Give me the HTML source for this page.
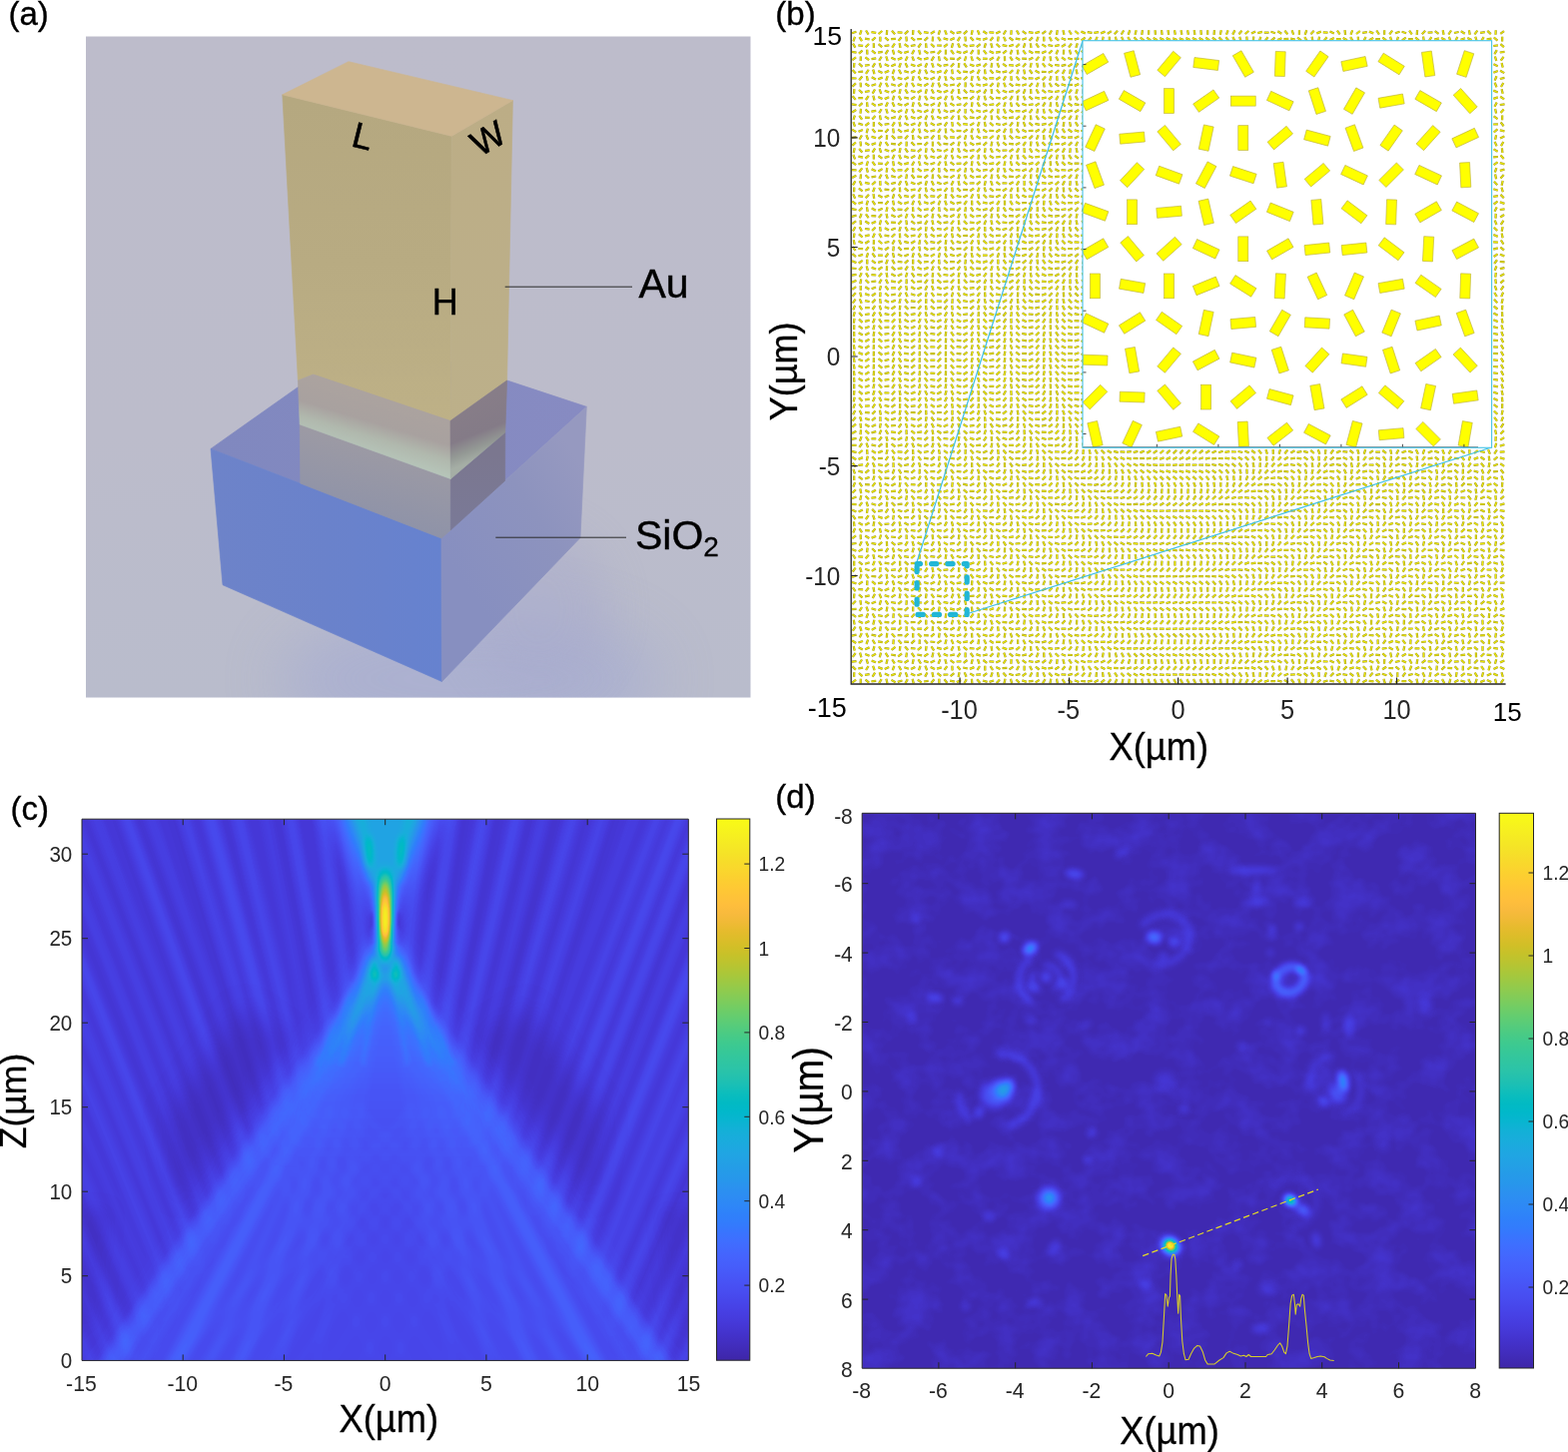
<!DOCTYPE html>
<html lang="en"><head><meta charset="utf-8"><title>Metalens figure</title>
<style>html,body{margin:0;padding:0;background:#fff}body{width:1570px;height:1454px;overflow:hidden}svg{display:block}text{font-family:'Liberation Sans', sans-serif;fill:#000}.tk{fill:#262626}</style></head><body>
<svg width="1570" height="1454" viewBox="0 0 1570 1454">
<defs>
<filter id="parula" color-interpolation-filters="sRGB" filterUnits="userSpaceOnUse" x="0" y="780" width="1570" height="674"><feComponentTransfer><feFuncR type="table" tableValues="0.2422 0.2504 0.2578 0.2647 0.2706 0.2751 0.2783 0.2803 0.2813 0.281 0.2795 0.276 0.2699 0.2602 0.244 0.2206 0.1963 0.1834 0.1786 0.1764 0.1687 0.154 0.146 0.138 0.1248 0.1113 0.0952 0.0689 0.0297 0.0036 0.0067 0.0433 0.0964 0.1408 0.1717 0.1938 0.2161 0.247 0.2906 0.3406 0.3909 0.4456 0.5044 0.5616 0.6174 0.672 0.7242 0.7738 0.8203 0.8634 0.9035 0.9393 0.9728 0.9956 0.997 0.9952 0.9892 0.9786 0.9676 0.961 0.9597 0.9628 0.9691 0.9769"/><feFuncG type="table" tableValues="0.1504 0.165 0.1818 0.1978 0.2147 0.2342 0.2559 0.2782 0.3006 0.3228 0.3447 0.3667 0.3892 0.4123 0.4358 0.4603 0.4847 0.5074 0.5289 0.5499 0.5703 0.5902 0.6091 0.6276 0.6459 0.6635 0.6798 0.6948 0.7082 0.7203 0.7312 0.7411 0.75 0.7584 0.767 0.7758 0.7843 0.7918 0.7973 0.8008 0.8029 0.8024 0.7993 0.7942 0.7876 0.7793 0.7698 0.7598 0.7498 0.7406 0.733 0.7288 0.7298 0.7434 0.7659 0.7893 0.8136 0.8386 0.8639 0.889 0.9135 0.9373 0.9606 0.9839"/><feFuncB type="table" tableValues="0.6603 0.7076 0.7511 0.7952 0.8364 0.871 0.8991 0.9221 0.9414 0.9579 0.9717 0.9829 0.9906 0.9952 0.9988 0.9973 0.9892 0.9798 0.9682 0.952 0.9359 0.9218 0.9079 0.8973 0.8883 0.8763 0.8598 0.8394 0.8163 0.7917 0.766 0.7394 0.712 0.6842 0.6554 0.6251 0.5923 0.5567 0.5188 0.4789 0.4354 0.3909 0.348 0.3045 0.2612 0.2227 0.191 0.1646 0.1535 0.1596 0.1774 0.21 0.2394 0.2371 0.2199 0.2028 0.1885 0.1766 0.1643 0.1537 0.1423 0.1265 0.1064 0.0805"/></feComponentTransfer></filter>
<linearGradient id="cb" x1="0" y1="1" x2="0" y2="0"><stop offset="0" stop-color="rgb(62,38,168)"/><stop offset="0.0159" stop-color="rgb(64,42,180)"/><stop offset="0.0317" stop-color="rgb(66,46,192)"/><stop offset="0.0476" stop-color="rgb(67,50,203)"/><stop offset="0.0635" stop-color="rgb(69,55,213)"/><stop offset="0.0794" stop-color="rgb(70,60,222)"/><stop offset="0.0952" stop-color="rgb(71,65,229)"/><stop offset="0.1111" stop-color="rgb(71,71,235)"/><stop offset="0.127" stop-color="rgb(72,77,240)"/><stop offset="0.1429" stop-color="rgb(72,82,244)"/><stop offset="0.1587" stop-color="rgb(71,88,248)"/><stop offset="0.1746" stop-color="rgb(70,94,251)"/><stop offset="0.1905" stop-color="rgb(69,99,253)"/><stop offset="0.2063" stop-color="rgb(66,105,254)"/><stop offset="0.2222" stop-color="rgb(62,111,255)"/><stop offset="0.2381" stop-color="rgb(56,117,254)"/><stop offset="0.254" stop-color="rgb(50,124,252)"/><stop offset="0.2698" stop-color="rgb(47,129,250)"/><stop offset="0.2857" stop-color="rgb(46,135,247)"/><stop offset="0.3016" stop-color="rgb(45,140,243)"/><stop offset="0.3175" stop-color="rgb(43,145,239)"/><stop offset="0.3333" stop-color="rgb(39,151,235)"/><stop offset="0.3492" stop-color="rgb(37,155,232)"/><stop offset="0.3651" stop-color="rgb(35,160,229)"/><stop offset="0.381" stop-color="rgb(32,165,227)"/><stop offset="0.3968" stop-color="rgb(28,169,223)"/><stop offset="0.4127" stop-color="rgb(24,173,219)"/><stop offset="0.4286" stop-color="rgb(18,177,214)"/><stop offset="0.4444" stop-color="rgb(8,181,208)"/><stop offset="0.4603" stop-color="rgb(1,184,202)"/><stop offset="0.4762" stop-color="rgb(2,186,195)"/><stop offset="0.4921" stop-color="rgb(11,189,189)"/><stop offset="0.5079" stop-color="rgb(25,191,182)"/><stop offset="0.5238" stop-color="rgb(36,193,174)"/><stop offset="0.5397" stop-color="rgb(44,196,167)"/><stop offset="0.5556" stop-color="rgb(49,198,159)"/><stop offset="0.5714" stop-color="rgb(55,200,151)"/><stop offset="0.5873" stop-color="rgb(63,202,142)"/><stop offset="0.6032" stop-color="rgb(74,203,132)"/><stop offset="0.619" stop-color="rgb(87,204,122)"/><stop offset="0.6349" stop-color="rgb(100,205,111)"/><stop offset="0.6508" stop-color="rgb(114,205,100)"/><stop offset="0.6667" stop-color="rgb(129,204,89)"/><stop offset="0.6825" stop-color="rgb(143,203,78)"/><stop offset="0.6984" stop-color="rgb(157,201,67)"/><stop offset="0.7143" stop-color="rgb(171,199,57)"/><stop offset="0.7302" stop-color="rgb(185,196,49)"/><stop offset="0.746" stop-color="rgb(197,194,42)"/><stop offset="0.7619" stop-color="rgb(209,191,39)"/><stop offset="0.7778" stop-color="rgb(220,189,41)"/><stop offset="0.7937" stop-color="rgb(230,187,45)"/><stop offset="0.8095" stop-color="rgb(240,186,54)"/><stop offset="0.8254" stop-color="rgb(248,186,61)"/><stop offset="0.8413" stop-color="rgb(254,190,60)"/><stop offset="0.8571" stop-color="rgb(254,195,56)"/><stop offset="0.873" stop-color="rgb(254,201,52)"/><stop offset="0.8889" stop-color="rgb(252,207,48)"/><stop offset="0.9048" stop-color="rgb(250,214,45)"/><stop offset="0.9206" stop-color="rgb(247,220,42)"/><stop offset="0.9365" stop-color="rgb(245,227,39)"/><stop offset="0.9524" stop-color="rgb(245,233,36)"/><stop offset="0.9683" stop-color="rgb(246,239,32)"/><stop offset="0.9841" stop-color="rgb(247,245,27)"/><stop offset="1" stop-color="rgb(249,251,21)"/></linearGradient>
<filter id="b1" color-interpolation-filters="sRGB" filterUnits="userSpaceOnUse" x="0" y="0" width="1570" height="1454"><feGaussianBlur stdDeviation="1"/></filter>
<filter id="b1_5" color-interpolation-filters="sRGB" filterUnits="userSpaceOnUse" x="0" y="0" width="1570" height="1454"><feGaussianBlur stdDeviation="1.5"/></filter>
<filter id="b2" color-interpolation-filters="sRGB" filterUnits="userSpaceOnUse" x="0" y="0" width="1570" height="1454"><feGaussianBlur stdDeviation="2"/></filter>
<filter id="b2_5" color-interpolation-filters="sRGB" filterUnits="userSpaceOnUse" x="0" y="0" width="1570" height="1454"><feGaussianBlur stdDeviation="2.5"/></filter>
<filter id="b3" color-interpolation-filters="sRGB" filterUnits="userSpaceOnUse" x="0" y="0" width="1570" height="1454"><feGaussianBlur stdDeviation="3"/></filter>
<filter id="b4" color-interpolation-filters="sRGB" filterUnits="userSpaceOnUse" x="0" y="0" width="1570" height="1454"><feGaussianBlur stdDeviation="4"/></filter>
<filter id="b5" color-interpolation-filters="sRGB" filterUnits="userSpaceOnUse" x="0" y="0" width="1570" height="1454"><feGaussianBlur stdDeviation="5"/></filter>
<filter id="b6" color-interpolation-filters="sRGB" filterUnits="userSpaceOnUse" x="0" y="0" width="1570" height="1454"><feGaussianBlur stdDeviation="6"/></filter>
<filter id="b8" color-interpolation-filters="sRGB" filterUnits="userSpaceOnUse" x="0" y="0" width="1570" height="1454"><feGaussianBlur stdDeviation="8"/></filter>
<filter id="b10" color-interpolation-filters="sRGB" filterUnits="userSpaceOnUse" x="0" y="0" width="1570" height="1454"><feGaussianBlur stdDeviation="10"/></filter>
<filter id="b14" color-interpolation-filters="sRGB" filterUnits="userSpaceOnUse" x="0" y="0" width="1570" height="1454"><feGaussianBlur stdDeviation="14"/></filter>
<filter id="b20" color-interpolation-filters="sRGB" filterUnits="userSpaceOnUse" x="0" y="0" width="1570" height="1454"><feGaussianBlur stdDeviation="20"/></filter>
<filter id="b30" color-interpolation-filters="sRGB" filterUnits="userSpaceOnUse" x="0" y="0" width="1570" height="1454"><feGaussianBlur stdDeviation="30"/></filter>
<clipPath id="clipA"><rect x="86" y="36.5" width="665.5" height="662"/></clipPath>
<linearGradient id="aBg" x1="0" y1="0" x2="0" y2="1"><stop offset="0" stop-color="#bdbccb"/><stop offset="0.6" stop-color="#bcbccb"/><stop offset="1" stop-color="#b9bccc"/></linearGradient>
<linearGradient id="aGoldL" gradientUnits="userSpaceOnUse" x1="0" y1="100" x2="0" y2="430"><stop offset="0" stop-color="#b5a880"/><stop offset="0.5" stop-color="#b8ab82"/><stop offset="1" stop-color="#beb187"/></linearGradient>
<linearGradient id="aGoldR" gradientUnits="userSpaceOnUse" x1="0" y1="100" x2="0" y2="430"><stop offset="0" stop-color="#bcad86"/><stop offset="1" stop-color="#bcb08a"/></linearGradient>
<linearGradient id="aBandL" gradientUnits="userSpaceOnUse" x1="390" y1="395" x2="372" y2="455"><stop offset="0" stop-color="#aca39f"/><stop offset="0.5" stop-color="#a8a19f"/><stop offset="0.74" stop-color="#b0b8ad"/><stop offset="1" stop-color="#b6c5b9"/></linearGradient>
<linearGradient id="aBandR" gradientUnits="userSpaceOnUse" x1="470" y1="405" x2="490" y2="455"><stop offset="0" stop-color="#877d88"/><stop offset="0.55" stop-color="#847b87"/><stop offset="0.8" stop-color="#939894"/><stop offset="1" stop-color="#a5aea5"/></linearGradient>
<linearGradient id="aRefL" gradientUnits="userSpaceOnUse" x1="380" y1="450" x2="362" y2="515"><stop offset="0" stop-color="#9c9aa4"/><stop offset="1" stop-color="#8f93a8"/></linearGradient>
<linearGradient id="aRefR" gradientUnits="userSpaceOnUse" x1="478" y1="455" x2="478" y2="520"><stop offset="0" stop-color="#7b778f"/><stop offset="1" stop-color="#7a7996"/></linearGradient>
<linearGradient id="aBlueF" gradientUnits="userSpaceOnUse" x1="215" y1="0" x2="442" y2="0"><stop offset="0" stop-color="#6d83c9"/><stop offset="0.5" stop-color="#6a82cb"/><stop offset="1" stop-color="#6682cf"/></linearGradient>
<linearGradient id="aBlueR" gradientUnits="userSpaceOnUse" x1="450" y1="560" x2="585" y2="470"><stop offset="0" stop-color="#878fc0"/><stop offset="0.6" stop-color="#8d93be"/><stop offset="1" stop-color="#9699c0"/></linearGradient>
<linearGradient id="aBlueT" gradientUnits="userSpaceOnUse" x1="215" y1="450" x2="585" y2="410"><stop offset="0" stop-color="#8088bf"/><stop offset="1" stop-color="#878bc2"/></linearGradient>
<clipPath id="clipB"><rect x="852.2" y="28.5" width="655.3999999999999" height="656.5"/></clipPath>
<path id="dashes" d="M0 0m8530 333l44-16m36 30l15-44m70 42l-24-40m101 24l-47-8m108-11l-37 30m86-38l-4 46m52-40l31 34m26-18l47 2m25 15l35-32m46 39l4-46m78 41l-29-36m103 22l-46-8m109-8l-40 24m92-34l-14 44m64-44l17 44m37-34l40 24m22-9l47-6m25 19l35-32m43 39l10-46m69 45l-17-44m93 35l-38-26m108 14l-47-2m110-10l-42 22m99-31l-24 40m78-43l-2 46m56-44l21 42m37-35l37 28m24-18l46 8m20 2l45-12m24 20l38-28m35 34l23-40m51 43l6-46m68 46l-11-46m84 43l-25-40m96 35l-36-30m105 24l-43-18m110 12l-47-6m113-1l-47 8m111-13l-44 18m107-23l-39 28m101-31l-32 34m94-37l-25 40m87-42l-18 44m81-45l-12 46m74-46l-6 46m69-46l-1 46m65-46l3 46m61-46l6 46m59-46l7 46m58-46l8 46m57-46l9 46m57-46l8 46m58-46l7 46m60-46l4 46m64-46l0 46m68-46l-5 46m73-46l-10 46m78-45l-16 44m85-43l-23 42m92-39l-29 36m98-33l-36 30m104-26l-41 22m109-17l-46 12m112-6l-47 0m112 7l-45-14m107 20l-39-26m100 31l-29-36m88 40l-16-44m73 45l1-46m56 45l18-44m40 39l33-34m27 26l44-18m20 8l47 2m21-12l42 22m31-30l27 38m49-42l6 46m71-45l-17 44m93-37l-37 30m107-18l-46 6m110 6l-43-18m100 29l-26-40m78 43l1-46m51 42l28-38m29 27l45-16m21 1l45 14m30-26l26 38m54-42l-4 46m84-40l-33 34m106-19l-47 4m108 12l-38-28m89 37l-9-46m57 43l26-40m30 25l46-10m22-8l40 26m41-36l9 46m75-42l-28 38m103-22l-47 6m107 13l-35-32m82 39l2-46m46 37l37-28m-6516 102l16-45m70 43l-25-40m101 23l-46-7m106-12l-35 31m83-39l0 47m48-39l35 32m25-15l47-3m27 20l30-36m52 41l-4-47m86 39l-36-31m107 15l-47 1m106-17l-34 33m85-40l-4 47m54-43l27 39m29-26l45 13m22 3l43-19m32 30l23-41m57 44l-5-47m84 41l-32-35m104 23l-45-11m110-2l-44 16m102-27l-29 37m83-42l-6 47m59-45l19 43m37-36l38 29m24-18l46 7m20 4l45-15m26 24l34-33m40 39l17-44m58 45l-2-47m77 45l-21-42m93 36l-34-31m104 24l-43-17m111 9l-47-1m111-6l-45 13m108-19l-39 26m100-31l-30 36m90-40l-20 43m80-44l-9 46m70-47l1 47m59-46l12 45m50-44l19 43m43-41l26 39m37-37l31 35m32-33l36 31m29-29l38 27m26-25l41 23m24-22l42 21m23-20l43 19m22-18l44 18m22-18l43 18m23-19l43 19m22-20l43 21m24-22l41 23m25-24l39 26m28-28l37 29m30-31l33 33m35-35l28 38m41-40l22 41m47-43l14 45m57-46l4 47m66-47l-5 47m76-45l-16 44m87-42l-27 39m97-34l-36 30m105-24l-43 18m111-11l-47 3m112 5l-46-12m108 19l-39-27m98 33l-26-39m83 43l-9-46m65 46l10-46m46 41l29-37m30 29l42-21m21 11l47 0m21-11l42 22m32-31l26 39m51-43l3 47m75-44l-22 41m97-32l-41 24m109-11l-46-2m107 15l-37-28m92 36l-15-45m66 45l14-45m39 36l38-27m23 13l47 2m25-17l35 31m44-39l7 47m75-43l-25 39m101-26l-46 13m109 4l-41-21m94 33l-16-45m64 44l20-43m33 29l44-15m23-3l42 21m38-33l13 45m71-42l-25 39m102-23l-47 7m107 12l-36-31m83 39l1-47m-6478 109l-24-40m101 23l-47-6m106-13l-34 32m82-39l1 47m47-39l36 30m24-11l47-7m29 23l27-39m56 42l-9-46m90 36l-39-26m108 9l-46 8m102-23l-27 38m77-42l4 47m46-40l35 32m25-17l47 2m23 13l37-28m41 37l12-46m69 45l-18-43m95 33l-41-24m109 10l-47 4m108-17l-37 30m91-37l-14 45m66-45l13 45m42-39l34 32m26-21l46 10m20 2l45-14m26 24l33-33m42 39l14-45m62 45l-7-46m82 43l-26-39m99 32l-40-25m109 16l-47-8m112-1l-46 10m108-18l-39 26m99-32l-28 38m87-41l-15 45m74-46l-1 47m4153-27l-46 7m106 12l-35-31m-6449 85l-46-8m106-12l-35 31m82-39l2 47m46-38l37 29m24-10l46-8m30 24l25-40m60 43l-13-46m92 34l-41-22m109 4l-45 14m99-28l-22 41m71-43l11 46m40-36l40 26m22-10l47-7m27 22l31-36m49 41l1-47m80 43l-29-38m103 25l-46-12m110-3l-43 18m100-29l-26 40m78-44l1 47m51-42l28 38m30-28l43 18m21-5l46-8m25 19l36-30m39 37l16-44m61 45l-7-46m83 42l-27-38m100 30l-42-22m110 12l-47-2m111-8l-44 18m104-26l-33 33m91-38l-18 43m76-45l-2 47m59-46l14 45m45-41l27 38m33-33l38 28m4123-34l-24 40m101-23l-47 6m-6448 48l-36 29m84-38l-1 47m48-38l36 29m25-10l46-9m30 25l24-41m61 43l-14-45m94 33l-43-21m109 2l-44 17m97-30l-19 43m67-43l16 43m36-32l43 21m22-4l44-13m31 27l25-41m57 44l-8-47m88 39l-36-31m107 16l-47-1m108-13l-38 27m91-36l-14 45m65-45l15 45m40-36l37 27m24-15l46 3m22 10l41-23m34 32l22-41m56 44l-2-47m79 43l-25-39m98 31l-41-23m110 12l-47-1m110-9l-42 19m101-28l-30 37m87-41l-12 45m68-46l7 47m50-44l24 41m35-35l37 29m25-22l44 15m20-8l47 1m20 6l45-13m4100-16l14 45m72-42l-27 39m-6474 23l-4 47m50-40l35 32m25-13l46-6m30 23l25-40m60 43l-14-45m94 32l-43-20m109 1l-43 18m95-31l-16 44m63-43l20 42m34-29l44 16m22 2l43-19m35 31l18-43m64 43l-15-44m93 34l-40-24m109 8l-46 8m104-21l-31 35m82-41l-3 47m54-44l26 40m31-28l44 16m21-2l45-12m27 24l32-35m46 40l7-46m71 45l-18-44m94 36l-38-28m108 17l-47-5m110-7l-43 18m102-27l-30 36m86-41l-11 46m66-46l10 46m47-42l28 38m31-31l41 24m22-15l46 6m20 2l46-10m22 18l40-26m31 32l29-37m43 40l17-44m4100 12l42 20m39-33l11 46m-6511 25l32 35m26-16l47-3m29 21l27-39m58 42l-13-45m93 33l-42-20m108 0l-43 19m95-31l-15 44m62-43l22 42m32-28l45 13m22 5l42-22m37 33l15-45m68 44l-20-43m97 31l-43-18m109 1l-44 15m100-27l-25 40m75-44l6 47m46-40l34 33m25-19l47 6m21 8l41-23m35 33l21-42m58 44l-6-47m84 41l-31-35m104 24l-45-13m110 1l-45 11m105-22l-34 33m90-39l-14 45m68-45l9 46m47-42l28 37m30-29l42 21m21-11l47 2m21 7l43-17m27 25l34-32m38 37l21-42m53 44l4-47m69 47l-11-46m83 43l-24-40m4120 28l44-17m23-3l41 24m-6533 52l46 2m27 17l31-36m55 41l-9-46m90 35l-41-23m108 3l-44 17m96-31l-16 44m62-43l22 42m32-27l45 13m23 5l41-24m39 35l12-45m71 43l-23-41m99 27l-44-14m109-3l-43 20m97-31l-19 43m68-44l13 45m40-36l39 27m22-12l47-3m25 17l35-31m43 38l10-46m70 45l-19-43m95 34l-40-25m109 12l-47 0m109-12l-40 25m96-34l-21 42m75-44l3 47m51-43l25 39m33-31l41 23m21-13l47 2m21 9l43-19m28 27l32-35m42 40l15-45m59 46l-2-47m76 45l-19-43m92 38l-33-33m103 27l-42-21m109 14l-46-7m4144 25l18-43m34 27l45-12m-6529 88l34-32m50 39l-3-46m87 36l-39-26m107 6l-45 14m98-29l-19 44m65-43l20 42m33-28l45 14m23 5l40-24m40 35l11-46m72 43l-24-40m100 26l-45-12m109-6l-41 23m93-33l-15 44m64-44l18 44m36-33l42 21m21-5l46-10m28 23l29-36m51 41l1-47m78 43l-27-38m102 27l-45-16m111 2l-46 12m104-24l-31 36m85-41l-8 46m61-45l17 44m39-36l37 28m24-18l46 8m20 4l44-16m28 25l32-34m42 39l15-44m61 45l-6-46m80 43l-23-40m96 34l-38-28m107 20l-45-12m112 4l-47 4m110-11l-43 18m105-25l-35 31m4156 7l-18-44m63 42l23-40m-6503 109l4-47m81 39l-35-31m106 11l-46 9m100-25l-23 41m69-42l17 44m35-30l44 16m23 3l41-22m39 33l12-45m72 43l-25-40m101 25l-46-11m109-7l-41 25m92-35l-12 45m61-43l21 41m33-29l44 17m22 0l44-16m31 28l24-41m57 44l-6-47m85 40l-33-33m105 20l-46-7m109-7l-41 22m97-32l-22 41m74-44l5 47m49-42l29 37m29-27l44 17m20-4l46-8m24 18l37-29m38 36l18-43m59 45l-4-47m79 44l-23-41m96 34l-38-27m108 18l-47-9m112 0l-46 9m108-17l-39 25m99-31l-28 37m87-41l-15 45m73-46l0 47m4151-14l-43-19m93 32l-11-45m-6469 106l-30-36m104 18l-47 1m103-20l-28 38m74-42l12 46m38-33l42 20m23 0l43-19m37 32l15-45m69 43l-23-41m100 26l-45-12m108-6l-40 24m91-35l-11 46m59-43l24 41m31-28l45 14m22 3l43-19m34 30l20-42m61 44l-12-46m91 37l-38-28m108 14l-47 1m107-15l-37 29m91-37l-13 45m65-45l14 44m40-36l37 29m24-17l46 4m22 9l42-21m31 30l26-39m51 43l3-47m74 45l-19-43m93 36l-36-30m106 20l-46-10m112 0l-46 10m108-19l-39 28m97-34l-24 40m82-43l-8 46m65-46l8 46m50-43l23 41m37-37l35 32m4134-23l-44 15m107 5l-39-26m-6447 83l-46-8m106-12l-34 32m80-40l4 47m44-36l39 26m24-6l45-14m33 28l19-43m66 43l-20-42m98 28l-45-14m109-5l-41 23m92-34l-12 46m60-44l23 41m32-27l45 13m22 4l42-21m35 33l18-44m64 44l-15-44m93 34l-40-24m109 8l-46 7m105-20l-33 34m85-41l-6 47m57-44l23 41m33-31l42 21m21-7l47-6m24 18l36-30m40 37l15-44m63 45l-10-46m86 40l-31-35m103 26l-44-16m111 5l-46 6m108-16l-39 26m97-33l-24 40m81-43l-7 46m63-46l12 46m46-42l28 38m31-32l40 26m23-19l46 11m19-3l47-4m4117-19l-22 41m100-24l-47 7m-6446 50l-40 25m88-36l-5 47m51-40l34 32m25-12l47-7m30 24l24-41m61 43l-15-45m95 32l-43-19m108 0l-42 19m94-32l-15 45m62-43l22 41m32-28l45 15m22 3l42-21m36 32l17-44m66 44l-17-43m95 32l-42-21m109 5l-46 11m103-24l-29 37m80-42l0 47m52-42l28 37m29-26l45 14m21 1l44-15m29 26l29-37m49 42l4-47m74 45l-21-43m96 34l-39-25m108 14l-47-3m111-8l-43 19m101-28l-29 37m85-42l-9 46m64-45l11 45m46-41l29 37m31-30l40 23m22-15l47 7m19 2l46-11m23 18l40-25m30 31l30-37m4110-5l10 46m76-40l-31 35m-6467 26l-14 44m59-41l27 38m29-20l47 2m26 17l31-36m54 41l-8-46m90 35l-40-24m108 5l-45 14m97-28l-19 43m66-44l19 44m34-30l44 16m22 2l43-20m35 32l18-44m65 44l-17-44m95 32l-42-20m109 4l-45 12m102-25l-27 38m77-42l4 46m47-40l32 34m27-21l46 8m21 6l43-20m33 31l22-41m57 43l-4-46m82 42l-29-37m102 26l-44-16m110 4l-46 8m107-19l-36 30m92-37l-17 44m71-45l5 46m51-43l25 40m33-32l40 25m22-16l47 6m19 3l46-12m24 20l37-28m34 34l26-40m47 43l11-46m62 46l-4-46m4113 9l38 28m47-37l-1 47m-6497 20l16 44m35-29l45 13m24 8l38-28m46 37l1-47m83 39l-36-31m107 12l-46 7m101-23l-25 40m71-43l13 45m38-33l42 21m23-2l44-16m34 29l19-43m64 44l-16-45m94 33l-41-21m109 5l-46 12m102-26l-26 39m76-43l5 47m46-40l34 33m25-19l47 5m22 10l40-25m37 34l17-43m62 45l-10-46m88 39l-35-32m106 20l-46-8m110-5l-43 18m101-28l-28 38m83-43l-6 47m60-45l17 44m39-38l36 31m25-21l45 11m20-1l46-9m23 18l39-27m34 34l24-40m50 43l8-46m66 46l-9-46m82 43l-24-41m95 36l-35-31m4123 17l47-2m28-18l29 37m-6524 35l40 24m24-3l43-18m38 32l12-45m74 41l-29-37m104 19l-47-1m104-17l-31 35m78-41l6 47m43-37l39 27m24-8l45-11m31 26l24-41m59 43l-11-45m91 34l-40-24m109 7l-46 10m102-24l-27 39m76-43l5 47m46-40l34 32m25-17l47 3m23 12l39-27m39 36l14-45m66 45l-15-45m92 36l-38-27m108 14l-47-1m109-12l-40 25m96-34l-21 42m74-44l4 47m50-43l27 39m31-30l42 21m21-10l47-1m22 11l41-22m31 30l28-38m46 42l11-46m64 46l-8-46m82 43l-25-40m97 34l-38-28m107 21l-45-14m112 7l-47 1m4135 15l36-31m25 10l45 10m-6535 64l46-6m31 23l23-40m63 42l-18-44m97 28l-45-12m107-8l-38 28m86-38l-3 47m51-40l33 33m25-14l47-4m28 20l29-36m54 41l-6-46m87 37l-37-28m107 11l-46 6m103-22l-29 37m78-42l4 47m47-39l34 32m25-17l47 2m23 13l38-28m40 37l12-46m69 45l-18-44m95 34l-41-24m109 10l-46 4m107-17l-37 30m91-37l-14 44m67-45l11 46m43-40l34 33m26-22l46 12m20 0l45-12m25 22l35-32m40 38l17-44m59 45l-4-47m79 45l-23-42m96 35l-37-29m106 21l-45-13m112 5l-47 4m110-12l-43 20m104-26l-34 32m4142 7l10-46m39 33l43-20m-6528 91l34-31m51 39l-5-47m88 35l-40-23m107 3l-43 17m94-31l-14 45m60-42l26 39m29-22l47 5m24 13l36-31m47 39l1-47m82 40l-34-33m106 16l-47 1m105-17l-32 33m82-40l0 47m49-41l32 35m26-20l47 5m23 11l38-27m41 36l12-45m69 44l-19-43m96 33l-42-23m110 8l-47 7m106-20l-34 33m87-39l-9 46m61-45l18 43m38-35l38 27m23-15l47 4m20 8l43-20m31 29l27-39m49 43l6-47m70 46l-15-45m89 39l-33-33m104 25l-43-17m111 8l-47 1m110-10l-43 19m104-26l-33 33m92-38l-20 43m78-45l-5 47m4142-2l-20-43m64 42l23-41m-6506 109l10-46m76 41l-31-35m105 15l-47 4m101-22l-25 40m71-42l15 44m36-30l44 16m23 4l41-23m40 34l10-46m74 42l-27-38m102 22l-46-6m107-11l-37 29m87-38l-6 46m55-42l28 38m28-23l46 8m23 9l40-25m38 35l14-45m68 44l-18-44m95 33l-41-22m109 7l-46 8m105-21l-33 34m85-40l-6 46m58-44l21 42m35-33l40 24m22-11l47-2m23 14l39-26m35 34l21-42m57 45l-3-47m79 43l-24-40m97 33l-39-25m108 15l-46-6m111-4l-45 14m106-22l-36 31m94-37l-21 42m78-44l-4 47m62-47l12 46m46-43l26 40m4137-8l-40-24m88 36l-5-47m-6478 111l-18-44m97 27l-45-11m106-9l-36 30m83-39l1 47m46-37l38 28m24-8l46-12m32 27l21-42m64 42l-18-43m97 30l-45-16m109-3l-42 22m93-34l-13 45m61-43l22 41m32-27l45 14m22 3l42-20m36 32l18-44m64 44l-15-44m93 34l-40-24m109 9l-47 6m105-20l-32 34m84-41l-5 47m57-44l22 41m34-31l42 21m21-7l46-6m25 18l36-30m40 37l15-44m62 45l-9-46m86 41l-31-36m103 26l-44-17m111 6l-47 5m109-14l-40 24m99-32l-27 39m83-42l-8 46m65-46l9 46m48-43l26 40m34-34l37 28m25-22l45 15m4130-9l-47 3m105 17l-31-36m-6455 97l-38-27m107 5l-45 16m95-30l-14 45m59-42l27 38m29-20l47 2m26 17l31-35m54 41l-7-47m89 36l-40-25m108 6l-45 13m99-27l-22 41m69-43l15 45m37-33l42 21m22-3l45-15m32 28l23-41m59 43l-11-45m90 36l-38-27m108 12l-47 3m106-18l-34 33m86-40l-7 47m58-44l23 41m33-31l42 20m21-6l47-7m25 19l34-32m43 39l11-45m67 45l-14-45m90 38l-35-31m106 21l-46-11m112-1l-46 13m106-22l-35 31m92-37l-18 43m73-45l3 47m54-45l21 42m37-36l35 31m26-24l44 16m20-8l47 0m20 8l45-15m4126-7l-38 29m107-8l-45-13m-6444 73l-46-2m103-18l-29 38m74-42l12 46m38-32l43 18m24 3l41-24m41 35l7-46m78 41l-31-36m104 18l-47 0m105-18l-31 36m79-41l4 46m45-37l37 28m24-11l46-6m28 21l29-36m53 41l-4-46m85 39l-35-32m107 17l-47-2m107-14l-36 30m88-38l-9 46m59-44l21 42m34-32l42 22m22-7l46-8m26 20l33-32m44 39l10-46m69 45l-17-44m93 36l-38-28m108 17l-47-6m111-6l-43 18m102-27l-30 36m85-41l-9 46m64-46l12 46m45-41l29 36m30-29l42 22m21-13l47 4m20 5l45-13m24 20l38-28m33 33l27-38m4124-3l-16 44m96-28l-45 12m-6446 48l-42 23m89-35l-5 47m51-39l34 32m26-12l46-8m31 24l22-41m64 42l-18-43m97 28l-45-13m108-6l-40 25m89-36l-7 47m54-42l29 37m28-21l47 5m24 13l36-30m45 38l5-47m78 42l-29-37m103 23l-46-8m108-9l-40 25m93-35l-14 45m64-44l17 44m37-34l40 23m22-8l47-6m25 19l34-32m44 39l9-46m70 44l-18-43m94 35l-39-27m109 15l-47-3m110-9l-42 22m99-31l-25 39m80-43l-4 47m58-45l18 43m39-37l36 31m25-22l45 13m20-3l46-6m22 14l41-23m30 30l30-37m43 41l15-45m58 46l0-47m4125 1l10 46m76-41l-32 35m-6461 28l-24 40m68-41l19 43m33-27l46 10m25 11l36-31m48 39l-2-47m86 37l-38-28m107 8l-45 12m98-27l-21 42m68-43l17 44m35-30l44 16m22 3l43-21m37 33l14-45m69 43l-21-42m98 29l-44-16m109-1l-43 18m98-30l-21 42m70-44l12 46m40-37l38 28m23-13l47-2m24 16l37-30m41 38l12-46m68 45l-17-44m93 36l-38-27m108 14l-47-2m110-10l-41 23m97-32l-23 41m77-44l0 47m55-44l22 41m35-34l39 26m23-16l46 6m20 4l45-14m25 23l36-31m37 36l21-42m53 45l4-47m70 46l-12-45m84 42l-26-39m4127 2l32 35m55-41l-11 46m-6483 19l-2 47m48-37l37 28m25-7l45-14m35 29l16-44m70 42l-25-40m101 22l-47-5m106-13l-34 32m81-40l3 47m46-38l37 29m24-10l46-8m30 23l25-39m58 43l-10-46m90 36l-39-26m108 9l-46 8m103-23l-28 38m77-43l4 47m47-40l34 33m25-18l47 4m22 11l39-26m39 35l15-44m65 44l-14-45m91 37l-37-28m108 15l-47-2m109-11l-41 24m97-33l-22 42m76-45l2 47m52-43l25 40m32-32l41 23m22-12l47 2m21 9l42-20m29 28l31-36m43 40l14-45m61 46l-5-46m79 44l-22-42m94 37l-35-32m105 25l-43-18m4129 1l44 16m37-31l13 45m-6506 22l20 43m32-25l47 7m26 13l33-33m52 40l-7-47m90 35l-41-23m107 3l-43 17m94-31l-14 45m60-42l26 39m29-23l47 7m24 11l36-29m46 38l3-47m80 41l-32-35m105 19l-47-3m107-14l-36 31m87-39l-6 47m55-43l27 39m29-25l46 11m21 5l43-21m34 32l20-43m60 45l-9-47m87 39l-34-31m106 18l-47-5m110-8l-42 21m98-31l-23 41m76-44l2 47m52-43l26 39m31-30l42 21m21-10l47-1m22 12l41-23m32 31l26-39m49 43l7-47m68 46l-12-45m86 41l-29-37m100 31l-40-25m109 17l-46-9m112 1l-47 7m4130 0l46-7m26-13l33 33m-6525 35l38 28m24-7l45-14m36 30l14-45m72 41l-27-38m103 20l-47-2m104-17l-30 36m76-41l9 46m40-34l41 23m23-4l45-16m34 30l18-44m66 44l-19-43m97 29l-44-16m109-2l-43 20m96-32l-17 44m65-44l17 44m36-32l42 21m22-5l46-12m29 25l27-38m53 43l-2-47m82 41l-31-36m104 23l-46-10m110-4l-43 18m100-29l-26 40m79-43l0 47m53-44l25 40m32-30l42 21m21-10l47-2m22 14l40-25m33 32l24-40m52 44l4-47m72 45l-17-44m91 39l-34-34m104 26l-43-18m111 9l-47 0m111-8l-44 16m106-23l-37 30m4129-1l38-28m24 7l45 15m-6535 53l46 9m26 12l33-33m53 40l-7-46m89 34l-41-22m108 1l-43 20m92-33l-11 46m57-42l29 37m27-19l47 2m26 16l33-34m51 40l-4-47m86 38l-37-29m107 12l-46 6m103-22l-29 37m78-42l5 47m45-39l36 31m24-15l47-1m24 17l35-32m45 39l7-47m74 44l-24-40m99 28l-43-17m110 3l-46 12m103-25l-29 37m82-42l-4 47m56-44l23 41m34-32l41 23m21-10l47-2m22 13l40-25m34 33l23-41m54 44l1-47m75 45l-20-43m93 37l-35-30m106 21l-46-13m112 4l-47 6m110-14l-42 22m102-29l-31 35m90-39l-18 44m4128-1l22-42m31 24l47-6m-6536 74l46-11m34 27l17-44m70 42l-26-39m102 20l-47-2m104-17l-30 36m76-41l10 46m39-33l42 21m23-1l43-19m37 32l15-45m70 43l-24-41m100 26l-45-11m108-8l-40 26m90-36l-9 46m57-42l26 39m30-25l45 11m22 5l42-22m36 33l17-44m65 45l-15-45m93 35l-40-25m109 10l-47 5m106-18l-34 31m87-39l-9 46m61-44l18 43m37-35l39 26m23-13l47 1m21 11l41-23m33 32l24-41m53 44l2-47m75 44l-21-42m95 36l-38-29m107 19l-45-10m111 1l-46 9m108-18l-39 27m98-33l-26 39m84-43l-11 46m69-46l5 47m4126 0l2-47m45 36l39-25m-6528 92l38-28m48 37l-3-46m87 35l-40-25m107 4l-43 18m93-32l-12 46m58-42l28 38m28-20l47 2m26 16l32-34m52 40l-5-46m87 36l-38-27m107 9l-45 10m100-25l-24 40m72-43l11 46m40-36l40 25m23-8l46-9m28 24l28-38m54 42l-4-46m84 40l-33-34m105 20l-46-6m109-9l-41 24m95-34l-18 44m69-45l11 46m42-39l36 32m24-19l47 6m21 7l43-20m31 29l26-38m51 42l3-46m74 44l-20-42m94 35l-37-28m107 18l-46-8m111-2l-45 12m106-21l-36 30m95-36l-23 42m80-44l-6 46m63-46l11 46m47-43l26 40m4126 2l-18-44m61 42l26-40m-6514 106l24-41m64 42l-21-43m99 25l-46-7m105-13l-33 33m79-40l6 47m42-35l41 23m23-3l44-17m36 31l15-45m70 43l-23-41m100 25l-46-9m108-9l-39 27m88-37l-6 47m54-42l29 37m28-22l46 7m24 10l38-27m41 37l10-46m72 43l-22-41m98 29l-44-17m110 1l-44 15m101-27l-27 39m78-43l2 47m50-42l29 37m29-25l45 13m20 1l45-14m28 24l30-35m47 41l7-47m71 46l-17-44m92 37l-36-31m106 21l-46-10m112-1l-46 11m107-20l-37 30m94-37l-20 43m77-45l-3 47m60-46l15 45m43-41l30 37m30-31l40 25m4126 4l-33-33m78 40l9-46m-6497 111l6-46m80 39l-35-32m106 11l-46 10m98-26l-19 43m64-42l23 41m30-24l47 7m25 12l34-32m50 40l-3-47m86 37l-37-28m107 10l-46 9m101-25l-25 40m72-42l12 45m39-34l41 23m22-6l46-12m30 26l25-40m58 43l-9-46m88 38l-37-29m108 13l-47 2m107-16l-36 31m88-39l-9 46m60-44l20 42m35-32l41 22m22-8l46-6m25 19l35-31m41 38l14-45m65 45l-12-46m88 40l-33-33m104 23l-45-13m111 1l-46 10m107-19l-36 29m94-36l-21 42m77-44l-2 47m58-46l17 44m41-39l32 34m29-27l42 21m21-14l47 6m4127 7l-43-19m92 32l-9-46m-6480 112l-10-46m92 31l-43-17m107-4l-40 26m87-37l-2 47m48-38l36 30m25-10l46-10m32 26l21-42m65 42l-20-43m98 28l-45-13m108-6l-40 25m90-35l-9 46m56-42l28 38m28-22l47 6m23 11l38-28m43 37l8-46m74 43l-25-40m100 26l-45-13m110-3l-43 20m97-31l-21 42m72-44l9 46m43-39l36 31m24-17l47 4m22 9l41-23m34 33l21-42m58 44l-5-47m82 42l-29-37m102 28l-43-18m110 6l-46 6m108-17l-39 27m96-34l-22 41m78-44l-3 47m58-45l18 44m40-39l33 34m28-27l43 19m20-10l47 2m20 5l45-13m4130 8l-47-2m102 21l-25-40m-6464 105l-26-39m102 20l-47-1m103-18l-28 37m73-41l14 45m36-30l44 15m24 5l39-25m44 36l5-47m79 40l-33-33m106 15l-47 3m103-20l-28 37m75-42l9 47m41-36l40 25m23-7l46-11m29 25l26-39m57 43l-9-47m89 37l-38-28m108 12l-47 4m106-18l-33 33m84-40l-4 47m55-43l25 39m31-28l44 17m21-2l45-13m28 25l30-37m49 42l4-47m74 44l-22-41m97 33l-40-25m109 13l-47-1m110-11l-42 23m99-31l-26 39m82-43l-6 47m61-46l15 45m42-40l32 35m28-27l43 19m21-10l47 1m19 7l45-15m25 22l37-29m4133 8l-45 13m107 8l-37-29m-6453 95l-36-30m106 8l-45 14m96-29l-15 44m59-41l27 38m29-19l47 0m27 19l29-37m57 41l-11-46m92 33l-42-20m108 1l-43 18m94-31l-14 44m61-42l23 41m31-26l46 11m23 7l40-25m40 35l11-46m72 43l-24-40m100 27l-45-14m109-3l-43 20m97-31l-20 42m70-44l12 46m41-37l37 28m24-14l46 0m24 14l38-28m38 36l16-44m64 45l-12-46m89 39l-35-32m106 20l-46-8m110-4l-44 16m103-26l-31 36m87-41l-11 46m65-46l12 46m45-41l29 36m30-28l42 20m21-11l47 2m20 7l44-16m26 23l36-30m35 35l24-40m4137 7l-38 27m106-6l-44-16m-6445 83l-44-18m107-4l-39 26m85-37l0 47m47-37l38 28m24-8l45-13m34 29l17-44m69 42l-24-40m101 23l-46-7m106-12l-35 31m83-39l0 47m48-39l35 32m25-14l46-4m28 20l30-36m52 41l-4-47m85 39l-35-31m107 15l-47 1m106-16l-34 32m85-40l-5 47m55-43l26 39m30-27l45 15m21 0l44-15m30 27l27-39m52 43l0-47m79 43l-26-39m100 29l-43-19m110 6l-47 7m108-18l-37 29m93-36l-18 43m72-45l5 47m50-43l26 39m32-31l41 24m22-15l46 5m20 4l45-13m25 21l37-29m35 35l24-40m49 43l9-46m4139 4l-28 37m103-17l-47-3m-6443 70l-46-5m104-16l-31 36m75-40l12 45m38-31l44 16m24 5l39-26m44 37l3-47m82 39l-35-32m106 13l-46 7m101-24l-25 40m71-42l14 45m37-33l43 20m22-1l44-17m35 30l18-43m65 43l-18-43m96 31l-43-19m110 2l-45 15m99-28l-23 41m73-44l9 46m43-38l36 30m24-15l47 1m23 13l38-28m39 37l15-45m65 45l-14-45m91 37l-37-29m108 17l-47-5m110-8l-42 21m99-30l-26 39m80-43l-3 47m58-45l19 43m38-36l36 29m25-20l45 11m20-1l46-9m23 18l39-27m33 33l26-39m48 42l10-46m63 47l-6-47m4141 1l-17 44m97-27l-45 10m-6444 57l-46 8m98-25l-19 42m63-41l24 40m30-22l47 4m27 16l31-36m54 41l-9-46m91 34l-42-22m108 1l-43 19m94-32l-13 45m59-42l26 40m29-24l47 8m23 10l38-28m44 37l5-46m78 41l-29-37m103 22l-47-6m109-10l-39 26m90-36l-11 46m61-44l21 42m33-30l43 18m22-3l45-12m29 25l28-38m51 42l1-47m78 43l-26-39m100 29l-43-18m110 4l-46 9m106-20l-35 32m90-39l-13 45m67-45l10 46m45-41l31 36m28-27l44 18m20-8l47-3m21 13l42-22m30 29l29-36m45 40l13-45m61 46l-4-46m77 44l-19-43m4141-1l-5 46m89-34l-41 22m-6447 45l-44 19m92-33l-9 47m54-40l33 33m25-13l47-7m31 24l22-41m65 42l-20-43m98 27l-46-11m107-9l-37 29m85-38l-1 47m49-39l34 32m25-14l47-4m28 20l29-37m54 42l-7-47m88 38l-38-29m108 12l-47 5m105-20l-31 35m80-41l1 47m50-41l31 35m27-21l46 7m22 8l41-23m36 33l18-43m62 44l-11-45m89 38l-36-31m107 18l-47-5m110-8l-42 21m99-30l-25 40m79-44l-1 47m55-44l22 41m35-33l39 26m23-16l46 5m20 5l45-15m26 24l34-33m39 38l19-43m56 45l0-47m74 46l-16-44m88 40l-30-36m4142-6l6 47m80-39l-35 31m-6453 37l-38 27m84-37l1 47m45-36l40 25m24-4l43-18m38 32l12-46m74 42l-29-37m104 18l-47 0m104-18l-30 37m76-42l9 46m41-34l40 23m23-4l45-15m33 29l20-43m64 43l-17-44m96 32l-43-19m109 1l-44 16m98-29l-21 42m70-44l12 46m40-36l39 26m23-11l46-4m26 19l33-33m46 39l6-46m74 44l-23-42m98 32l-42-21m110 7l-47 6m107-18l-36 30m91-37l-14 45m67-46l11 46m44-40l32 35m27-26l45 16m20-5l46-6m23 16l39-26m34 33l24-40m50 43l7-46m68 46l-11-46m84 43l-27-39m98 33l-38-28m4141-8l16 44m71-41l-27 38m-6460 30l-32 34m76-40l11 46m38-32l44 17m24 5l39-26m45 36l2-47m83 39l-36-30m106 10l-46 10m99-26l-21 42m67-43l19 43m34-28l44 14m23 5l41-24m40 35l10-46m74 42l-26-39m101 24l-46-9m108-8l-39 25m91-35l-12 46m61-44l22 42m33-30l43 17m22-1l44-15m31 27l25-39m55 43l-4-47m83 42l-31-36m104 23l-46-11m111-2l-44 16m101-27l-28 38m82-43l-4 47m57-44l21 42m36-35l38 27m23-16l47 5m20 6l44-17m27 26l33-34m42 39l15-44m60 45l-4-47m78 45l-21-42m93 37l-35-32m105 25l-43-18m4138-11l25 40m63-42l-19 43m-6467 25l-26 39m69-41l19 43m33-26l46 9m26 12l33-33m53 40l-7-47m89 35l-41-23m108 2l-43 19m93-32l-13 45m59-42l27 39m29-22l46 5m25 13l35-31m47 39l2-47m81 40l-33-33m106 17l-47-1m106-16l-34 33m84-40l-3 47m52-42l30 37m27-23l46 9m22 7l41-23m37 33l17-43m63 44l-12-45m90 37l-37-29m108 15l-47-2m109-11l-40 25m95-34l-20 43m73-45l6 47m48-42l29 37m29-28l43 19m21-7l47-5m22 15l40-25m33 32l25-40m50 44l6-47m69 46l-13-45m87 41l-30-37m101 30l-41-23m109 16l-46-9m4137-13l32 35m55-40l-11 45m-6475 21l-18 44m62-42l26 40m29-20l47 0m28 19l27-38m59 41l-14-44m95 30l-44-16m107-5l-39 26m87-36l-5 46m52-40l33 34m25-16l47-2m28 19l29-36m54 41l-6-46m88 37l-39-28m108 10l-46 8m103-23l-28 38m76-42l6 46m45-38l35 31m25-16l47 0m24 15l36-30m43 38l9-46m71 44l-20-42m96 32l-41-22m109 8l-46 6m106-19l-35 32m89-39l-12 46m65-45l14 44m41-38l35 32m25-21l46 10m20 1l45-12m26 22l34-32m40 38l17-44m59 45l-3-46m77 44l-21-42m94 36l-36-30m106 23l-44-16m111 8l-47 0m4134-14l37 28m49-37l-3 46m-6482 20l-12 45m56-40l31 35m27-14l46-6m32 23l22-41m65 42l-21-42m99 25l-46-9m106-11l-35 31m82-39l2 47m46-38l37 29m24-10l46-9m31 25l23-41m61 43l-14-45m94 33l-42-21m108 3l-44 15m99-28l-22 42m70-44l13 45m39-35l40 25m22-9l47-7m26 21l31-35m49 41l3-47m77 43l-26-39m101 27l-45-15m111 1l-45 13m102-25l-29 37m83-42l-5 47m57-44l21 42m36-34l39 25m22-14l47 3m21 9l43-20m30 28l28-37m47 42l9-46m66 46l-10-46m85 42l-28-38m99 31l-40-25m109 17l-46-9m111 1l-46 8m4132-16l41 23m44-35l3 47m-6488 19l-6 47m51-39l35 31m25-10l46-12m34 28l17-44m70 42l-26-39m102 21l-47-3m105-16l-31 35m77-41l8 46m41-35l41 24m23-4l44-15m34 29l19-43m66 43l-20-43m98 29l-45-15m109-3l-42 21m95-33l-16 44m64-43l19 43m34-32l43 20m22-3l45-13m30 26l26-39m54 43l-4-47m84 41l-32-35m105 22l-47-9m110-6l-42 20m99-30l-24 40m76-43l2 47m52-43l26 39m31-30l43 20m20-8l47-4m23 15l39-25m34 33l24-41m52 44l3-47m72 45l-16-44m90 39l-33-34m104 27l-43-19m110 10l-47-2m112-6l-45 14m4130-16l44 18m39-32l9 46m-6493 19l-2 47m47-37l39 27m24-5l44-16m38 31l12-46m74 41l-30-36m104 17l-47 2m103-20l-27 38m72-42l13 46m38-33l43 19m23 1l42-20m38 32l13-45m71 43l-24-40m100 25l-45-10m108-8l-40 25m91-35l-11 46m60-44l23 41m31-28l45 15m22 2l43-18m33 30l22-42m59 44l-9-46m88 38l-36-30m107 17l-47-4m109-10l-40 24m95-33l-19 42m72-44l7 46m46-41l31 36m28-26l45 15m20-3l46-9m24 20l37-30m38 36l18-43m58 45l-3-47m78 45l-22-42m95 36l-37-30m107 22l-45-14m111 5l-47 4m111-12l-43 20m4128-17l45 14m36-30l14 45m-6497 20l2 47m44-35l41 23m24-1l42-21m41 34l8-47m78 40l-33-33m105 13l-47 7m101-24l-24 41m70-42l16 43m35-29l45 15m23 4l40-23m41 35l9-47m75 43l-28-39m103 23l-47-7m108-11l-38 29m88-38l-7 47m56-43l27 39m29-25l46 11m22 5l41-21m36 32l18-43m63 44l-13-45m91 36l-38-27m108 13l-47 1m108-14l-38 27m92-36l-15 45m68-45l11 45m43-39l34 33m25-22l46 11m20 1l45-13m27 23l33-33m42 39l14-45m62 46l-7-47m82 43l-26-39m98 32l-39-25m108 17l-46-9m112 0l-46 9m109-16l-41 23m4127-16l46 9m34-26l17 43m-6501 21l6 46m42-33l42 21m24 1l41-23m42 35l5-47m81 39l-35-32m106 12l-46 9m99-26l-21 42m66-42l20 43m33-28l45 12m23 7l39-26m43 36l7-46m77 41l-30-36m104 20l-47-4m107-13l-36 31m86-39l-4 47m53-42l29 37m28-23l46 8m22 9l40-25m39 34l14-44m67 44l-17-44m94 34l-40-24m109 10l-47 4m107-17l-36 30m90-38l-13 46m65-45l14 44m41-37l36 30m24-19l47 8m20 4l44-16m28 26l31-36m44 41l12-46m64 46l-9-46m84 42l-28-38m100 31l-41-23m109 14l-46-6m112-3l-46 12m108-19l-39 26m4126-16l46 6m32-24l21 42m-6504 22l8 46m40-33l43 19m24 3l40-25m44 36l3-47m82 39l-36-30m107 9l-46 11m98-27l-19 43m64-42l22 42m31-26l46 10m24 9l38-28m44 37l5-47m79 41l-32-35m105 18l-47-1m106-16l-34 33m84-40l-2 47m51-41l31 35m26-20l47 5m23 11l39-27m40 36l12-45m69 44l-19-43m96 33l-42-23m110 9l-47 6m106-19l-34 32m88-39l-10 46m62-45l17 44m38-36l37 28m24-17l47 5m20 7l43-19m30 28l29-37m46 42l9-46m68 45l-13-45m87 41l-30-36m102 28l-42-21m110 13l-47-4m111-5l-45 14m107-21l-38 28m4126-16l46 4m31-23l23 41m-6505 22l8 46m40-32l43 18m24 4l40-25m45 36l1-47m84 38l-37-29m106 8l-45 12m97-27l-18 43m64-42l22 41m31-25l46 9m24 10l37-29m46 38l3-47m80 40l-32-34m105 17l-47 0m106-16l-33 33m82-40l-1 47m50-41l32 35m26-20l47 5m23 11l38-27m41 36l12-45m69 44l-19-43m96 32l-42-21m110 7l-47 7m106-20l-34 33m87-40l-9 46m61-44l18 43m38-35l38 27m23-16l47 4m21 8l42-19m30 28l28-37m48 42l8-47m68 46l-13-45m88 40l-31-35m102 27l-43-20m111 12l-47-3m111-6l-45 15m107-22l-37 29m4124-16l47 3m31-22l23 41m-6505 22l8 46m40-32l43 18m24 4l40-26m45 36l1-46m84 37l-37-28m106 8l-45 12m97-28l-18 44m64-43l22 42m31-26l46 10m24 10l37-30m46 38l3-46m80 40l-32-34m105 17l-47 0m106-17l-33 34m82-40l0 46m49-40l32 34m26-19l47 4m23 12l38-28m41 37l12-46m69 44l-19-42m96 32l-42-22m110 7l-47 8m106-21l-34 34m87-40l-9 46m61-45l18 44m38-36l38 28m23-16l47 4m21 8l42-20m30 29l28-38m48 42l8-46m68 46l-13-46m88 41l-32-36m103 28l-43-20m111 11l-47-2m111-6l-45 14m107-22l-37 30m4124-17l47 4m31-22l23 40m-6505 22l8 47m40-33l43 19m24 3l40-25m44 36l3-47m83 38l-37-29m107 9l-46 11m98-27l-19 43m64-42l22 41m31-25l46 10m24 9l38-29m45 38l3-47m80 41l-32-35m105 18l-47-1m106-16l-34 33m83-40l-1 47m51-41l31 35m26-20l47 5m23 11l39-27m40 36l12-45m69 44l-19-43m96 33l-42-23m110 8l-47 7m106-20l-34 33m87-39l-9 46m62-45l17 44m38-36l38 28m23-17l47 5m20 7l43-19m30 28l29-37m47 42l8-46m68 45l-13-45m87 40l-30-35m102 28l-43-21m111 12l-47-3m111-5l-45 14m107-22l-37 29m4124-16l47 4m31-23l23 41m-6504 22l6 47m41-34l43 20m24 2l40-24m44 36l4-47m81 39l-36-31m107 10l-46 10m98-26l-20 42m66-42l20 42m33-27l45 12m24 8l38-27m44 37l5-47m78 41l-30-36m104 20l-47-3m107-15l-35 32m84-39l-3 47m52-42l30 36m28-21l46 7m23 9l39-25m39 35l14-45m67 44l-17-44m94 34l-40-24m109 10l-47 5m107-18l-36 31m89-39l-11 46m64-45l15 44m39-37l37 30m24-18l47 7m20 5l44-17m28 26l30-36m46 41l10-46m66 46l-11-46m86 42l-29-37m100 29l-41-22m110 14l-47-5m111-4l-45 12m108-19l-39 27m4126-17l46 6m32-24l21 42m-6502 21l4 47m43-35l41 23m24-1l42-21m41 34l7-46m79 39l-34-33m106 13l-46 7m100-24l-23 41m68-42l18 44m34-29l45 14m23 5l40-24m41 35l9-46m75 42l-28-38m103 22l-47-6m107-12l-36 30m87-38l-6 46m54-42l28 38m29-24l46 10m22 6l41-23m37 34l16-44m65 44l-15-44m92 35l-38-26m108 12l-47 2m108-16l-37 29m91-37l-15 45m67-45l12 46m42-39l35 32m25-21l46 10m20 2l45-14m27 24l33-34m42 39l14-45m62 46l-7-46m82 42l-26-39m99 32l-40-25m108 17l-46-8m112-1l-46 9m108-16l-40 24m4127-16l46 8m33-26l19 43m-6499 21l0 47m46-36l39 25m24-4l44-17m38 31l11-45m76 40l-31-35m104 16l-47 3m102-21l-26 39m72-42l14 45m37-31l43 17m23 2l42-21m39 33l11-45m73 42l-26-39m102 24l-46-9m108-9l-39 27m89-37l-9 46m58-43l24 41m31-27l45 13m22 3l43-19m34 31l20-43m61 44l-11-45m89 37l-36-29m107 15l-47-1m109-12l-40 25m95-34l-18 43m70-45l9 47m45-41l32 35m27-24l45 13m20-1l46-11m25 21l35-31m39 37l17-43m59 45l-3-47m79 44l-24-41m96 35l-37-29m107 20l-46-11m112 3l-47 5m110-13l-42 21m4128-16l46 11m35-28l15 45m-6495 20l-4 46m49-38l37 30m25-8l45-14m35 29l15-44m72 41l-27-38m102 20l-47-1m104-18l-30 36m76-41l10 46m40-34l41 22m23-2l44-17m35 30l17-44m68 43l-22-42m99 28l-45-14m109-4l-42 22m94-33l-14 44m62-43l20 42m34-30l44 18m21-1l45-15m31 27l24-40m56 43l-6-46m86 40l-34-34m106 21l-47-7m110-8l-42 22m98-32l-23 42m75-44l4 47m50-43l28 38m30-28l43 18m21-6l46-6m23 17l39-27m35 34l22-42m54 45l1-47m74 45l-18-43m92 37l-35-32m105 25l-44-17m111 8l-47 0m111-8l-44 16m4130-16l44 16m38-31l11 46m-6490 20l-10 46m54-40l33 34m26-13l46-8m33 25l20-43m66 42l-22-41m100 24l-47-7m106-13l-34 33m81-40l4 47m44-37l39 27m23-7l46-12m32 27l21-42m63 43l-16-44m95 31l-43-19m109 1l-44 17m98-30l-20 43m68-44l15 45m37-34l41 23m22-7l46-9m28 23l30-37m50 42l0-47m80 42l-28-37m102 25l-45-13m110-1l-44 16m101-27l-27 38m80-43l-2 47m55-44l23 41m34-32l41 24m21-13l47 1m22 11l41-22m31 30l27-39m49 43l7-46m68 45l-12-45m86 41l-29-36m101 29l-41-23m109 15l-47-6m112-2l-46 10m4132-16l42 21m42-34l5 47m-6484 20l-16 44m60-41l28 38m28-18l47-2m29 21l25-39m62 41l-17-44m96 29l-45-13m107-7l-38 27m86-37l-2 47m49-40l35 32m25-13l46-5m29 21l27-38m57 42l-10-46m90 36l-39-25m108 7l-46 11m102-25l-26 39m74-43l8 46m43-37l37 29m24-13l47-3m25 17l34-32m45 40l7-47m73 44l-22-41m98 30l-43-19m110 5l-46 9m105-21l-33 33m87-40l-10 46m63-45l16 44m39-36l37 29m24-18l46 7m20 4l45-15m27 24l32-34m42 40l15-45m61 46l-6-47m80 44l-23-41m96 35l-38-29m107 21l-45-13m112 5l-47 3m4134-15l38 27m47-37l-1 47m-6478 21l-22 41m66-41l21 42m32-24l46 6m27 14l31-34m55 40l-10-46m92 33l-42-20m107-1l-42 21m92-33l-10 46m56-42l29 38m27-20l47 2m26 16l33-34m50 40l-2-47m84 40l-35-32m107 15l-47 2m105-18l-32 34m81-41l0 47m50-40l32 34m26-20l47 6m22 10l40-26m38 35l15-44m66 44l-16-44m93 35l-39-26m109 12l-47 1m108-14l-39 28m94-36l-17 44m70-45l8 46m46-41l31 36m28-26l44 16m20-4l47-8m23 18l38-28m35 35l23-42m53 44l2-47m73 46l-17-44m90 39l-32-34m103 27l-42-21m110 14l-47-6m4136-13l34 32m53-39l-9 46m-6470 24l-30 37m74-41l14 45m36-29l45 14m24 7l37-29m48 38l-1-47m85 37l-38-27m107 7l-45 13m97-28l-18 43m64-42l21 42m32-27l46 11m23 8l39-27m42 37l8-47m76 42l-29-37m103 22l-46-7m108-10l-38 28m89-38l-9 47m58-43l24 40m31-28l45 15m21 1l44-17m32 29l23-41m57 44l-6-47m85 40l-33-33m105 21l-46-8m110-6l-43 19m100-29l-25 39m78-43l-1 47m55-44l23 41m34-32l40 24m22-13l47 2m21 8l42-19m30 28l29-37m45 41l12-45m63 46l-7-47m81 44l-24-41m96 35l-37-29m107 22l-45-15m4138-11l28 38m60-41l-17 44m-6463 28l-36 30m81-38l5 47m42-35l42 22m24 0l42-21m40 33l8-46m78 40l-32-34m105 15l-47 4m102-21l-26 39m72-42l13 45m38-33l42 20m23-1l43-18m36 31l16-44m68 43l-21-42m98 29l-44-16m109-2l-43 20m96-32l-18 44m67-44l16 44m37-34l41 24m22-8l46-8m27 22l31-35m48 41l4-47m76 43l-25-40m100 29l-44-18m111 4l-46 10m105-21l-33 33m87-40l-11 46m64-45l14 45m42-39l34 32m26-22l45 12m20-1l46-10m24 20l37-29m36 35l22-42m53 45l3-47m72 46l-15-45m88 40l-30-36m100 30l-40-24m4140-9l20 43m68-42l-25 40m-6456 35l-42 22m89-35l-5 47m50-39l36 31m25-10l46-11m33 27l18-43m68 42l-23-41m101 24l-47-7m106-12l-34 32m81-40l2 47m47-38l36 29m24-10l47-8m29 23l26-39m58 43l-10-46m90 35l-40-25m109 8l-46 9m102-23l-28 38m77-43l5 47m46-39l34 32m25-18l47 3m23 12l39-27m39 36l14-45m66 45l-15-44m92 36l-38-28m108 15l-47-2m109-11l-40 24m96-33l-21 42m75-45l3 47m51-43l26 40m32-31l41 22m21-12l47 2m21 8l43-19m29 27l31-35m42 40l15-45m60 46l-4-47m78 45l-20-42m92 37l-33-33m4141-6l10 46m77-40l-33 34m-6450 43l-46 11m97-28l-17 45m61-42l27 39m28-20l47 1m28 18l28-37m58 41l-13-45m94 31l-43-17m107-3l-41 23m91-35l-9 46m56-41l28 37m28-20l47 3m25 14l34-31m48 39l1-47m81 41l-32-35m105 19l-47-3m107-14l-36 30m87-38l-7 47m57-43l25 39m31-27l44 15m21 1l44-17m31 28l26-39m54 43l-3-47m82 42l-30-37m103 25l-45-13m111 0l-45 13m103-24l-31 35m86-41l-9 46m63-45l14 45m41-39l34 33m26-23l45 13m20-3l47-7m22 16l40-26m33 33l25-39m49 43l9-47m65 47l-8-47m81 44l-23-41m4142-3l-2 47m86-36l-39 25m-6447 53l-46 0m102-19l-27 38m71-41l16 44m35-28l45 12m25 9l37-30m47 39l-1-47m85 37l-37-28m107 9l-46 11m99-27l-21 42m67-43l18 44m34-30l45 16m22 3l42-22m38 33l14-44m69 43l-22-42m99 29l-45-15m110-3l-43 20m96-31l-19 42m69-43l13 45m39-36l39 26m23-11l47-4m25 18l34-32m44 39l9-46m70 45l-18-44m94 35l-39-26m109 13l-47 0m109-12l-40 24m96-33l-22 42m76-44l2 47m53-44l23 40m34-33l40 26m22-16l47 6m20 4l45-14m25 22l35-30m37 36l22-42m52 44l5-46m68 46l-10-46m4141 1l-13 45m95-30l-45 14m-6444 65l-46-13m107-8l-37 30m82-39l4 47m44-35l40 24m23-3l44-18m38 31l12-45m73 42l-28-38m103 20l-47-2m105-16l-32 34m80-41l4 47m45-37l37 28m24-10l46-9m29 24l27-39m57 43l-9-46m89 36l-38-27m108 11l-47 6m104-21l-31 35m82-41l-1 47m51-42l30 37m28-23l45 10m22 5l42-20m33 30l23-41m57 44l-5-47m83 42l-30-36m103 25l-45-14m111 1l-46 12m105-23l-33 33m88-39l-13 45m67-45l10 46m46-42l30 37m29-28l43 20m21-11l47 1m20 9l43-18m27 25l34-33m39 38l19-43m54 45l4-47m69 47l-11-46m83 43l-24-41m95 37l-34-33m103 28l-41-23m109 18l-46-13m112 8l-47-3m112-1l-46 5m111-9l-45 13m110-16l-43 19m107-21l-40 24m104-26l-38 27m103-28l-36 30m101-31l-35 32m100-33l-34 33m99-33l-33 33m99-33l-34 33m100-32l-35 31m102-30l-37 29m104-27l-40 25m106-23l-42 21m109-18l-44 15m111-11l-47 8m112-4l-47-1m112 6l-46-10m110 15l-42-20m105 24l-37-29m98 34l-28-38m87 41l-15-45m74 46l-1-47m59 46l14-45m44 41l29-37m31 30l40-23m22 15l47-6m19-4l45 13m26-22l35 31m39-37l18 44m59-46l-5 47m82-43l-27 39m100-29l-43 19m111-7l-47-5m107 17l-36-29m90 37l-14-45m66 45l14-45m40 37l37-28m24 14l46 0m24-15l37 29m42-37l10 46m71-44l-21 42m98-30l-44 17m110 0l-44-17m97 30l-20-43m68 44l15-45m37 33l43-20m22 1l44 17m35-30l17 44m68-43l-22 42m99-27l-45 11m107 9l-38-28m86 37l-2-47m48 39l36-30m25 9l46 11m33-27l18 43m69-41l-25 40m102-21l-47 2m-6446 77l-40-26m107 4l-43 18m92-32l-10 46m55-40l31 35m27-16l47-4m29 22l25-40m61 42l-15-44m95 30l-44-16m108-3l-41 23m91-35l-10 46m57-42l27 38m29-22l46 6m24 12l37-29m44 38l6-47m77 42l-28-38m102 24l-46-9m109-8l-40 24m93-34l-15 45m65-45l16 44m37-34l41 24m22-9l46-5m25 18l35-32m43 39l10-46m69 45l-17-44m93 36l-38-27m108 15l-47-3m110-9l-42 21m100-30l-26 39m81-43l-5 47m60-46l16 44m41-38l33 33m27-25l44 16m20-6l47-3m21 11l42-20m28 27l33-34m40 39l19-43m53 45l5-47m68 46l-9-46m81 44l-22-42m92 39l-31-35m100 31l-38-27m106 23l-43-19m110 15l-46-11m112 7l-47-3m113-1l-47 4m112-6l-46 9m111-11l-45 13m110-15l-44 17m109-18l-43 19m108-20l-42 20m108-20l-43 20m108-19l-42 19m108-18l-43 17m109-16l-44 15m111-13l-46 11m112-8l-47 5m112-2l-47-1m113 4l-47-8m111 12l-44-16m108 21l-41-25m103 29l-34-33m95 36l-25-40m85 43l-14-45m73 46l0-47m58 46l14-45m45 41l28-37m32 31l39-25m23 17l46-9m19 0l46 9m24-18l38 27m35-34l23 41m53-44l2 47m75-45l-20 43m94-36l-38 28m108-16l-47 5m111 7l-43-20m99 30l-25-40m78 44l1-47m51 42l28-38m29 27l45-15m21 0l44 15m31-27l26 39m54-43l-4 47m84-40l-33 33m106-18l-47 3m107 13l-36-30m86 39l-6-47m55 42l28-38m28 23l47-7m24-11l36 29m46-38l3 47m80-41l-32 34m105-15l-47-3m103 20l-28-38m74 42l12-45m38 31l43-18m24-3l40 24m43-35l5 47m81-39l-36 31m106-10l-45-12m-6452 90l-30-37m104 17l-47 4m101-22l-24 40m68-42l19 43m33-26l46 10m25 10l36-30m48 38l-1-47m84 39l-36-30m106 11l-46 8m101-24l-24 40m71-43l13 45m38-33l42 21m22-2l45-16m33 29l21-42m62 43l-14-44m93 34l-41-24m109 7l-46 10m103-24l-29 37m79-42l1 47m50-41l30 36m28-23l46 10m21 4l43-18m32 29l25-40m53 43l-1-47m79 43l-26-38m100 29l-43-20m111 7l-47 5m108-16l-38 28m95-35l-21 42m76-45l0 47m55-44l21 42m37-36l36 30m25-22l45 14m20-5l47-4m21 12l42-20m28 27l33-34m38 38l21-42m52 44l7-46m65 46l-6-46m77 45l-17-44m87 41l-26-39m95 36l-33-32m102 29l-39-26m106 23l-43-20m110 16l-45-13m111 11l-46-8m112 6l-47-4m112 2l-47 0m113-1l-47 2m112-3l-46 4m112-4l-47 4m113-4l-47 3m112-2l-47 1m113 1l-47-2m112 4l-47-6m112 9l-46-12m111 14l-44-17m108 21l-41-24m104 27l-36-30m98 33l-29-37m90 40l-20-42m80 44l-9-46m69 46l3-47m55 46l17-44m43 40l29-37m31 32l40-26m22 18l46-10m20 1l46 8m22-17l40 25m33-32l26 39m49-42l7 46m69-45l-14 44m89-39l-33 33m105-23l-45 13m111 0l-46-12m105 23l-33-34m87 40l-10-46m62 45l17-44m38 35l38-26m23 12l47 1m23-15l38 29m41-37l11 46m70-44l-20 42m97-31l-43 20m110-4l-45-13m100 27l-25-40m74 43l9-46m41 36l39-26m23 8l46 9m30-24l26 40m58-43l-11 46m92-34l-42 22m108-2l-43-18m94 31l-14-44m60 42l26-40m29 22l47-4m26-16l31 36m55-41l-10 46m93-32l-44 18m107 4l-39-26m-6462 101l-16-45m96 29l-45-12m106-10l-36 31m82-39l3 47m44-36l40 25m24-5l44-15m36 30l15-45m70 43l-24-41m101 24l-47-7m107-11l-36 29m85-38l-3 47m51-40l32 34m26-18l47 1m25 16l34-33m48 40l2-47m79 42l-30-37m104 22l-46-7m108-9l-40 25m94-35l-16 45m66-45l15 45m39-36l38 27m23-13l47-1m23 15l38-29m39 37l15-45m64 45l-11-45m87 39l-33-33m105 23l-45-13m111 1l-46 11m106-21l-35 31m91-37l-17 43m73-45l3 47m53-44l22 41m36-35l37 29m25-21l45 13m19-5l47-3m21 11l43-19m26 25l35-31m36 36l24-41m48 43l12-45m59 46l1-47m70 47l-10-46m80 44l-19-43m88 41l-26-39m95 36l-33-33m101 31l-37-29m104 27l-40-25m106 23l-42-21m109 19l-44-17m110 16l-45-15m110 15l-44-15m110 15l-45-14m110 14l-44-15m110 16l-44-17m109 18l-43-19m107 21l-41-23m105 25l-38-27m102 30l-34-33m97 35l-29-37m91 39l-22-41m83 43l-13-45m73 46l-2-47m62 47l9-47m51 45l20-43m40 39l31-35m30 29l41-23m22 16l46-9m19 1l47 7m22-15l40 24m31-31l28 37m47-41l10 45m66-45l-11 45m86-41l-30 37m102-28l-43 19m111-7l-47-5m108 16l-39-27m95 35l-19-43m71 45l7-47m47 41l31-35m27 23l46-11m21-3l43 17m32-29l24 41m56-44l-5 47m85-40l-34 33m106-18l-47 3m108 13l-38-28m89 37l-9-46m58 43l25-40m30 25l46-11m22-7l41 25m40-35l10 45m74-42l-27 39m102-22l-46 5m106 13l-35-31m82 39l2-47m46 38l37-29m25 8l45 13m34-28l18 43m69-41l-25 40m101-22l-47 3m104 17l-29-37m-6475 108l0-47m85 37l-39-27m107 5l-44 16m94-30l-13 45m58-42l28 38m28-19l47 1m27 17l30-36m55 41l-8-46m90 35l-41-24m108 5l-44 15m97-29l-19 43m66-44l18 44m35-31l43 18m22 0l44-18m34 31l19-43m64 44l-15-45m93 34l-40-24m109 8l-47 8m104-22l-31 36m83-41l-3 47m54-43l26 39m30-28l45 16m20-2l46-12m27 24l31-35m47 40l7-46m71 45l-18-44m93 36l-37-28m107 18l-46-7m111-5l-45 16m104-25l-32 34m89-39l-15 44m71-45l5 47m51-44l23 41m36-36l36 30m25-22l45 15m20-7l47-1m20 8l44-16m24 22l38-28m32 33l29-37m42 40l19-43m52 44l8-46m62 47l-1-47m71 46l-10-46m79 45l-17-44m86 43l-23-41m90 39l-27-38m95 37l-31-36m97 35l-33-33m100 32l-35-32m101 31l-36-30m101 30l-35-30m101 31l-36-31m101 31l-34-32m98 34l-32-35m96 36l-29-37m92 38l-24-40m87 42l-19-43m81 44l-12-46m74 47l-4-47m65 47l5-47m55 45l16-44m45 42l25-39m35 35l36-31m26 25l43-20m21 13l47-6m19-2l46 10m22-17l40 25m32-32l28 38m46-42l11 46m64-46l-8 46m83-42l-27 38m100-30l-42 22m110-11l-47 1m110 10l-42-22m99 31l-25-40m79 44l-1-47m54 43l24-40m32 31l42-21m22 7l46 7m25-20l34 32m45-39l8 46m73-44l-23 42m99-30l-44 18m110-2l-45-14m101 27l-25-40m74 43l8-46m42 37l38-28m24 11l46 6m28-21l29 37m54-42l-7 46m89-36l-39 26m108-7l-46-11m99 26l-21-42m67 43l18-43m34 28l45-13m24-8l38 28m46-37l1 47m84-38l-37 29m106-8l-45-14m96 30l-15-45m-6491 110l18-44m70 41l-26-39m102 20l-47-1m103-18l-29 37m74-41l12 45m38-31l43 18m24 2l41-22m40 34l9-46m76 41l-29-37m103 20l-46-3m106-14l-35 32m83-40l0 47m49-40l33 33m26-16l47 0m25 16l34-32m46 39l4-47m78 43l-28-38m102 24l-46-11m110-4l-42 20m97-31l-21 42m72-44l8 46m44-39l35 32m25-20l46 7m21 7l43-20m32 30l25-40m52 43l1-47m77 44l-23-41m97 33l-40-25m109 14l-47-3m111-7l-44 18m103-27l-31 35m88-40l-14 45m70-46l5 47m52-44l22 42m37-37l35 32m27-25l43 18m20-11l47 4m19 3l46-10m22 16l42-22m27 26l35-31m35 35l26-38m43 40l19-43m51 45l10-46m59 46l3-47m66 47l-4-47m72 47l-9-46m77 45l-13-45m80 45l-16-44m83 43l-19-43m85 43l-20-43m85 43l-19-42m85 42l-20-43m84 44l-17-44m81 44l-14-45m78 46l-11-46m74 46l-6-47m69 47l0-47m61 47l8-46m54 45l16-44m45 42l25-40m37 37l32-34m30 29l39-25m24 20l45-14m19 7l47-1m20-6l45 14m24-21l38 28m33-34l26 39m48-42l10 46m64-46l-8 46m83-43l-26 39m99-31l-41 24m109-14l-46 4m110 7l-43-18m102 27l-30-37m84 42l-7-46m61 45l17-44m38 36l38-28m23 15l47-2m22-12l40 25m36-34l19 43m62-44l-12 46m90-38l-37 29m108-14l-47 0m107 15l-36-30m87 38l-8-46m57 43l25-40m31 26l45-12m22-6l41 23m39-34l13 45m71-42l-24 40m100-25l-45 10m107 9l-38-28m87 37l-5-47m52 40l33-33m25 14l47 5m30-22l25 40m61-42l-16 44m96-29l-45 13m106 8l-37-29m83 38l3-47m-6507 106l32-33m54 39l-9-46m92 33l-43-19m107-2l-41 23m89-35l-6 47m52-40l33 33m26-14l47-5m29 22l26-39m58 42l-12-45m93 33l-42-21m109 2l-45 17m97-30l-18 43m66-43l17 43m36-31l43 19m22-2l44-15m32 28l22-41m60 43l-10-46m89 38l-37-29m107 14l-47 1m108-16l-37 30m89-37l-10 45m62-44l17 43m37-34l40 25m22-12l47-1m22 13l40-25m36 34l20-43m57 45l-3-47m80 43l-26-39m99 31l-41-23m109 12l-47-2m111-8l-43 19m103-27l-32 35m90-40l-16 45m72-46l2 47m56-45l18 43m41-39l31 35m29-29l41 23m22-17l46 11m19-5l47-1m20 7l45-13m23 18l40-23m28 27l35-31m34 34l29-37m39 39l23-41m46 42l17-44m51 45l12-45m56 46l7-47m60 47l4-47m63 47l1-47m65 47l0-47m65 47l1-47m64 47l2-47m63 47l3-47m61 47l6-47m58 46l10-46m53 46l15-45m47 43l21-42m42 41l27-39m35 36l34-33m29 29l39-26m24 22l44-17m20 11l47-5m19-1l46 7m21-13l43 19m27-25l35 31m36-36l23 41m51-44l7 47m67-47l-10 46m84-42l-27 39m99-32l-40 25m109-15l-47 5m111 5l-44-16m104 26l-32-35m87 40l-12-45m65 45l13-45m42 39l34-33m26 21l46-9m21-4l43 17m31-28l26 39m53-43l-1 47m80-42l-28 37m102-25l-45 12m110 4l-43-19m97 31l-21-43m70 44l12-45m40 35l39-26m23 10l46 7m29-22l28 37m55-42l-7 47m88-37l-38 27m108-9l-47-9m101 25l-24-41m70 43l15-45m36 31l44-17m23-3l41 23m41-35l8 47m78-41l-32 35m105-15l-47-5m100 23l-23-41m67 42l21-43m-6522 96l44-18m38 32l11-46m76 40l-32-34m105 15l-47 4m101-22l-24 40m70-42l16 44m35-30l45 16m23 4l40-24m41 35l8-46m77 41l-30-36m104 20l-47-4m107-14l-35 32m84-39l-3 46m52-41l31 36m26-20l47 4m23 12l38-28m42 37l10-46m71 44l-22-42m98 30l-43-18m110 3l-45 12m103-24l-30 36m82-41l-3 46m55-43l24 40m32-30l43 20m21-7l47-6m23 18l37-30m39 37l17-44m60 45l-6-46m82 42l-27-38m100 30l-42-22m110 12l-47-2m111-7l-44 16m105-24l-34 32m92-37l-20 42m77-44l-3 46m61-46l12 46m47-43l26 40m34-35l36 30m27-25l42 20m21-14l47 8m19-3l46-2m20 7l45-12m22 16l42-20m25 23l39-26m29 29l35-32m32 34l31-36m37 37l27-38m39 39l25-40m42 41l23-42m43 42l22-42m44 42l21-42m44 42l22-42m43 41l24-40m40 39l26-38m38 37l30-36m33 34l34-32m30 30l38-28m26 25l41-22m23 18l44-14m20 10l47-6m19 1l46 4m20-10l45 16m24-21l38 26m32-31l29 36m43-40l17 44m56-45l2 46m71-45l-14 44m88-40l-30 36m101-29l-41 22m109-13l-46 4m111 6l-45-16m104 25l-32-34m88 40l-13-45m67 45l10-46m45 41l31-36m28 25l45-14m20 1l46 12m26-23l32 34m46-40l7 46m73-44l-21 42m97-32l-42 22m110-7l-47-8m104 22l-30-36m81 42l-1-47m51 41l30-36m28 21l46-6m23-10l39 26m41-36l10 46m73-43l-25 40m101-25l-46 10m108 9l-39-28m88 37l-6-46m53 40l31-34m27 16l47 2m27-20l29 38m57-42l-12 46m93-32l-43 18m108 3l-41-24m88 35l-4-46m50 38l35-30m-6530 80l46 2m28 17l29-37m58 41l-14-45m95 30l-45-15m108-5l-39 26m87-37l-4 47m50-40l34 33m25-14l47-5m29 22l27-39m57 43l-10-46m91 34l-41-23m109 5l-46 13m100-27l-23 41m71-43l12 45m40-35l40 25m22-8l46-9m28 23l30-37m51 42l-1-47m81 42l-30-36m103 23l-46-10m110-5l-42 19m98-30l-23 41m75-44l4 47m49-42l29 37m29-26l44 16m21-4l46-9m25 20l35-31m40 38l16-44m61 45l-7-47m82 43l-26-39m99 32l-41-24m109 14l-46-5m111-4l-45 13m107-21l-37 29m96-34l-25 40m83-43l-10 46m69-47l4 47m54-45l18 43m43-40l28 37m33-33l37 29m26-24l42 20m22-16l45 11m20-7l47 3m18 1l47-5m19 8l46-11m21 14l44-17m22 19l42-21m25 22l40-23m26 24l39-25m27 26l38-27m27 27l39-27m26 27l40-26m26 25l40-25m24 24l42-22m23 20l43-18m22 15l45-13m20 10l46-7m19 4l47 0m19-4l46 8m21-13l43 17m24-21l40 26m30-31l31 35m39-38l22 41m50-43l9 46m64-47l-5 47m78-45l-20 43m92-38l-33 33m103-26l-43 19m111-10l-47 1m111 9l-44-18m103 26l-31-35m88 40l-14-45m68 46l9-46m46 41l30-37m29 27l44-17m20 5l46 7m25-19l35 31m42-38l13 45m66-45l-14 45m91-36l-37 28m107-14l-46 0m107 14l-37-29m90 37l-12-45m62 44l20-43m34 31l43-19m21 3l45 14m32-28l23 41m60-43l-12 45m92-35l-41 25m109-6l-46-12m100 26l-23-41m69 43l16-45m36 32l43-18m23-2l42 21m40-33l10 46m75-42l-30 37m104-18l-47-1m103 20l-27-39m71 42l16-45m35 29l45-13m-6533 61l42 22m24 0l41-21m42 33l7-46m78 40l-33-33m106 13l-47 6m101-23l-24 40m69-42l16 44m36-30l44 16m23 3l41-22m39 34l12-46m72 43l-25-39m101 24l-46-9m108-9l-39 26m90-36l-10 46m59-43l24 40m31-27l45 14m21 3l43-19m34 30l21-42m60 44l-10-46m88 38l-36-30m107 17l-46-3m108-11l-39 25m94-34l-18 43m71-45l8 46m45-40l32 35m27-25l45 14m20-1l46-11m25 21l35-31m40 37l17-44m59 46l-4-47m80 43l-25-40m97 34l-38-27m108 18l-46-10m111 2l-46 7m109-15l-41 23m102-29l-31 35m90-39l-19 43m78-45l-5 47m64-47l7 46m53-44l19 43m42-41l28 38m34-35l35 32m28-28l40 25m24-22l43 18m22-15l45 12m20-9l46 7m19-5l47 3m18-1l47-1m19 2l47-3m19 3l46-4m19 4l47-4m19 4l46-3m19 2l47-2m19 1l47 1m18-3l47 5m19-8l46 10m21-13l44 16m23-19l41 23m27-27l36 30m32-33l30 36m40-39l22 42m49-44l11 46m61-46l-2 47m74-46l-15 45m87-42l-27 38m98-33l-38 28m107-20l-45 13m111-5l-47-4m110 13l-41-22m101 30l-30-37m86 41l-11-46m66 46l10-46m46 42l29-37m29 27l44-18m20 6l47 6m24-17l37 29m38-37l17 44m62-45l-10 46m88-39l-34 33m106-20l-47 7m110 7l-42-22m97 33l-20-43m70 44l11-46m41 37l37-28m24 13l47 3m25-18l33 33m48-40l2 47m80-41l-31 35m105-19l-47 3m107 14l-36-31m84 39l-1-47m49 40l34-33m25 15l47 3m28-21l28 38m57-42l-11 46m93-33l-43 20m108 1l-42-22m90 34l-7-46m52 40l33-33m26 12l47 8m-6527 43l28 38m28-19l47 0m28 19l28-38m59 41l-15-44m95 30l-44-16m108-4l-40 24m88-35l-6 46m53-41l32 35m26-17l47 0m26 17l32-35m52 41l-5-47m86 39l-36-30m107 12l-47 5m104-20l-30 36m80-42l2 47m48-40l33 34m25-19l47 4m23 11l39-27m39 36l14-45m67 45l-17-44m94 34l-40-25m109 12l-47 2m108-15l-38 28m92-36l-15 44m68-45l10 46m45-40l32 34m27-24l45 14m20-2l46-10m24 20l37-30m37 36l20-43m56 45l-1-47m76 45l-20-42m93 37l-35-32m105 24l-44-16m111 8l-47 0m112-8l-45 15m107-21l-38 28m98-33l-28 38m89-41l-18 44m77-45l-6 46m67-47l4 47m57-46l13 45m48-43l22 42m41-40l28 38m35-36l33 34m30-32l37 30m28-28l39 26m25-25l41 23m24-22l42 21m24-20l42 20m23-20l43 20m23-20l42 20m24-21l41 22m25-24l40 25m27-26l37 28m30-30l34 32m34-34l30 36m38-38l24 40m46-42l16 44m54-45l7 46m63-47l-2 47m73-46l-13 45m84-42l-24 40m95-36l-35 32m105-26l-43 20m110-13l-47 5m112 4l-46-12m108 19l-38-27m97 34l-25-40m82 43l-8-46m63 46l13-46m43 40l32-35m28 26l43-17m21 6l46 6m24-17l38 28m37-36l19 43m59-44l-7 46m85-41l-31 36m104-24l-46 12m110 2l-44-16m101 27l-26-39m77 43l3-47m48 41l32-35m26 21l47-7m22-8l40 24m39-35l14 45m68-43l-20 42m98-29l-44 16m109 1l-43-19m95 32l-16-44m63 43l21-42m33 28l45-14m23-5l40 24m41-35l8 46m77-41l-31 36m105-17l-47-2m102 20l-27-38m72 41l14-45m37 30l44-15m25-6l37 28m-6511 28l6 47m42-34l41 21m24 0l42-21m40 34l9-47m77 41l-32-35m105 16l-47 3m103-20l-28 37m74-41l11 45m40-34l41 23m23-4l44-15m34 29l19-43m65 43l-18-43m96 31l-43-19m109 1l-44 17m98-29l-21 41m70-43l12 45m40-36l39 27m23-11l47-5m25 19l34-33m45 40l7-47m73 44l-22-41m97 31l-41-21m109 8l-46 5m107-18l-36 31m90-38l-14 45m67-45l11 45m44-40l32 35m28-25l44 15m20-4l47-7m23 17l38-27m35 34l23-41m52 44l5-47m69 46l-13-45m87 41l-29-37m100 31l-40-25m108 18l-46-11m112 3l-47 5m111-11l-43 17m106-23l-38 29m99-33l-29 37m90-40l-20 43m81-44l-11 45m73-46l-4 47m66-47l4 47m58-46l10 45m53-45l16 45m47-44l20 43m45-42l22 41m42-41l25 41m40-40l26 39m40-39l25 39m41-39l25 39m41-40l23 41m44-42l21 43m46-43l17 43m51-44l12 45m57-46l6 47m63-47l-1 47m70-47l-8 47m78-45l-17 43m87-41l-26 39m96-35l-35 31m104-26l-42 21m110-15l-46 9m112-2l-47-5m110 13l-43-21m104 27l-33-33m91 38l-19-43m76 45l-1-47m57 45l18-43m39 38l35-33m26 24l44-15m20 4l47 7m23-18l38 29m37-36l19 43m59-45l-6 47m84-42l-30 37m103-26l-45 15m111-1l-46-13m103 25l-30-37m82 42l-2-47m54 43l26-39m30 27l44-15m22-1l44 17m32-29l22 41m60-43l-10 45m90-36l-39 27m108-10l-46-7m103 22l-29-37m77 42l6-47m43 37l39-27m23 9l46 9m31-25l23 41m62-43l-16 45m96-31l-44 17m107 4l-40-25m89 36l-6-47m52 40l33-33m26 13l46 7m32-25l21 43m-6491 22l-18 44m62-41l26 39m29-21l47 2m27 17l30-36m55 41l-10-46m92 33l-42-20m108 0l-43 20m93-32l-13 45m60-43l25 40m30-24l46 8m24 10l37-28m44 37l6-46m77 42l-28-38m102 23l-46-8m108-9l-39 26m92-36l-13 46m62-44l20 42m34-31l43 20m21-5l46-10m27 23l30-36m50 42l2-47m77 43l-25-40m100 30l-43-19m110 5l-47 8m107-19l-36 30m91-37l-15 44m69-45l9 46m46-41l30 36m29-27l43 18m20-8l47-2m22 12l41-22m31 30l29-37m44 41l13-46m62 47l-5-47m78 44l-21-42m93 38l-33-34m103 28l-42-22m109 16l-46-9m112 2l-47 4m112-9l-45 15m108-20l-40 24m103-28l-35 32m97-35l-28 38m91-40l-22 42m84-43l-16 44m79-45l-11 46m75-46l-7 46m70-46l-3 47m68-47l-1 47m66-47l0 47m65-47l1 47m65-47l0 47m67-47l-3 47m70-47l-6 46m73-46l-9 46m77-45l-14 45m83-44l-20 42m88-40l-26 39m95-37l-32 34m101-30l-39 27m107-23l-44 18m111-13l-47 8m112-2l-46-4m110 11l-43-18m105 24l-36-30m96 35l-25-40m83 43l-10-46m67 46l7-46m50 43l24-40m35 34l38-28m23 19l47-10m19-1l46 12m25-21l35 31m40-38l16 44m61-45l-7 46m84-41l-29 36m102-26l-44 16m110-3l-46-10m105 22l-32-34m85 40l-7-46m58 44l22-42m33 31l43-20m21 5l46 10m28-23l29 37m52-42l-2 47m83-41l-32 34m105-19l-47 4m107 13l-36-30m86 38l-5-46m53 42l30-37m27 20l47-4m25-14l35 32m48-39l0 47m83-39l-36 31m107-12l-47-8m101 24l-23-40m68 42l18-44m34 28l45-12m24-8l37 29m49-38l-3 47m-6470 27l-36 29m82-38l3 47m44-36l40 25m24-4l44-16m36 30l14-45m72 42l-26-39m102 22l-47-5m106-13l-34 32m82-40l1 47m47-39l36 31m24-13l47-4m27 20l30-36m53 41l-5-47m86 39l-35-31m106 15l-47 1m107-16l-35 32m86-40l-6 47m56-43l25 40m31-28l44 15m21 0l45-15m29 27l28-38m51 42l1-47m78 43l-26-39m100 29l-43-19m110 6l-46 7m107-18l-37 29m93-36l-17 44m71-46l6 47m49-43l26 39m33-31l40 24m22-14l47 4m20 5l44-15m26 23l35-31m37 37l22-42m52 44l6-47m67 47l-9-46m81 43l-23-41m94 37l-33-33m102 28l-41-23m109 18l-45-12m111 7l-46-2m112-3l-47 7m111-11l-44 16m108-19l-41 22m105-25l-38 28m102-30l-35 32m99-34l-31 35m95-36l-29 37m94-37l-27 38m92-39l-26 39m91-39l-25 39m91-39l-26 39m93-38l-29 38m95-37l-30 36m97-35l-33 33m101-31l-37 29m104-26l-40 24m107-21l-43 18m110-14l-46 10m112-6l-47 1m112 4l-46-9m110 14l-43-19m105 25l-36-30m97 34l-27-39m86 42l-14-45m72 46l1-47m57 46l17-44m41 39l31-35m29 28l42-21m21 12l47-2m21-8l43 17m28-26l32 35m43-40l13 45m64-45l-10 46m86-41l-31 35m104-25l-45 15m111-2l-46-11m105 23l-33-34m86 40l-9-46m61 44l19-43m36 34l40-24m22 9l47 5m25-19l34 33m46-40l5 47m76-43l-26 39m101-25l-45 12m109 4l-42-21m95 33l-16-44m64 43l19-43m34 30l44-16m22-2l43 20m37-33l14 45m71-42l-24 40m100-24l-46 8m107 11l-36-30m83 38l0-47m47 38l37-29m25 9l45 12m34-28l18 44m69-42l-25 39m-6454 43l-46 7m99-24l-21 41m66-42l20 42m33-25l46 9m24 11l36-31m49 39l-2-47m85 38l-37-29m107 10l-46 9m100-25l-24 41m71-43l14 45m38-33l41 21m23-3l44-15m33 28l21-42m62 44l-13-45m92 35l-40-25m108 8l-46 8m104-22l-30 36m81-41l-1 47m52-42l28 37m29-25l45 13m21 2l44-17m30 28l27-39m52 43l0-47m78 43l-25-39m99 30l-42-21m110 8l-47 4m109-15l-39 27m96-34l-22 41m77-44l-1 47m56-45l20 43m37-37l37 30m24-21l46 13m19-4l47-5m21 13l42-22m29 29l31-35m41 39l19-43m53 45l5-47m68 46l-9-46m80 44l-20-42m91 39l-31-36m100 33l-38-29m106 25l-43-21m110 17l-46-13m112 9l-47-5m113 2l-47 1m112-4l-47 6m112-8l-46 11m111-12l-45 13m111-15l-45 16m110-16l-44 17m109-17l-43 17m109-17l-44 16m110-15l-45 15m111-13l-46 11m112-10l-46 8m112-5l-47 3m112 0l-47-3m112 6l-46-10m111 14l-44-18m107 22l-39-26m101 30l-32-33m94 37l-24-41m84 43l-13-45m72 46l0-47m58 46l14-45m45 41l27-38m33 33l39-27m23 19l46-11m19 2l47 7m22-16l40 25m32-32l27 39m49-43l7 47m69-46l-15 45m90-39l-34 33m105-23l-45 12m111 1l-45-13m104 23l-32-34m86 40l-9-46m61 45l18-43m37 34l39-25m23 11l46 3m25-17l36 30m42-38l10 46m71-44l-21 42m98-30l-43 19m109-3l-45-14m100 28l-24-41m73 43l10-46m41 36l39-26m23 9l46 9m30-25l25 40m59-42l-12 45m92-33l-41 21m108-2l-44-17m95 31l-15-45m61 42l25-40m29 23l47-5m26-15l33 34m53-40l-8 47m91-34l-43 21m-6447 64l-42-19m107-2l-41 24m89-35l-5 46m51-39l34 32m25-13l46-6m31 23l24-40m61 42l-15-44m95 31l-44-18m108-1l-42 20m94-33l-14 46m61-43l23 40m31-26l46 12m22 5l41-22m38 33l14-44m68 43l-19-42m97 31l-43-20m109 3l-45 13m102-25l-27 38m78-42l2 46m49-41l31 36m27-24l46 12m21 2l43-17m31 28l27-38m51 42l2-47m76 44l-23-41m97 33l-41-24m110 12l-47 0m110-11l-42 22m100-30l-27 38m83-42l-8 46m63-46l13 46m44-41l30 36m30-29l41 22m22-14l46 6m20 2l46-10m22 17l40-24m30 30l31-36m40 39l20-42m52 44l8-46m63 46l-3-46m74 45l-14-45m84 44l-23-42m92 39l-29-36m97 34l-35-32m102 29l-38-27m105 25l-41-22m108 20l-43-18m109 17l-44-16m110 15l-45-14m111 13l-46-12m111 12l-45-12m111 12l-46-12m111 13l-45-14m110 16l-44-18m109 20l-42-22m106 24l-40-26m104 28l-36-30m99 33l-31-36m93 38l-24-40m86 42l-17-44m77 45l-6-46m66 46l5-46m55 45l16-44m44 41l27-38m33 33l38-28m24 21l45-14m20 7l47 0m20-9l44 18m26-25l34 32m40-38l18 44m57-46l-1 47m77-44l-22 42m95-35l-37 28m107-18l-46 8m111 4l-44-16m102 26l-30-36m84 41l-7-46m60 44l19-42m36 34l40-26m22 12l47 2m23-15l38 28m40-37l13 46m68-45l-18 44m95-33l-41 22m109-7l-46-8m103 22l-29-36m79 41l3-46m47 39l34-32m25 16l47 0m25-17l34 34m49-41l-1 47m83-39l-34 32m106-14l-47-4m103 21l-28-38m74 42l11-46m39 33l42-20m24 0l42 20m40-33l9 46m76-41l-31 36m105-16l-47-4m-6453 87l-26-39m102 21l-47-2m104-18l-30 37m75-41l11 45m39-32l43 20m23 0l42-21m38 33l12-45m73 42l-26-39m102 23l-47-7m107-11l-36 30m85-39l-3 47m52-41l30 35m27-20l47 5m24 12l37-29m43 38l8-47m73 44l-24-41m100 28l-44-15m109 0l-44 16m100-28l-25 40m76-44l4 47m49-41l30 35m28-23l45 11m21 2l44-15m29 26l29-37m48 42l6-47m72 45l-19-43m94 36l-37-29m107 18l-46-7m111-4l-45 15m105-24l-34 33m91-38l-17 43m73-45l2 47m55-45l19 43m39-38l34 33m27-26l43 19m21-12l47 5m19 2l46-9m22 16l41-22m28 27l34-32m36 35l25-39m45 42l16-44m54 45l7-47m63 47l-1-47m70 47l-8-47m76 46l-14-45m82 44l-19-43m87 42l-23-41m90 40l-26-39m92 39l-27-38m93 37l-28-37m94 37l-29-37m94 37l-28-37m93 38l-27-39m91 40l-24-41m88 42l-21-43m84 44l-16-44m79 45l-10-46m72 46l-3-47m65 47l4-47m57 46l13-45m48 43l22-41m39 38l31-35m30 30l40-25m23 20l45-14m20 7l47 0m19-8l45 15m25-22l37 29m35-34l24 40m50-44l7 47m67-46l-11 45m86-41l-29 37m101-29l-42 21m110-10l-47 0m110 10l-42-21m100 30l-26-39m80 43l-3-47m56 44l22-41m34 32l41-23m21 10l47 3m24-16l37 29m40-37l14 45m66-45l-15 45m93-35l-40 25m109-10l-47-5m106 19l-33-33m83 40l-3-47m53 42l29-37m28 22l46-7m23-10l39 27m42-37l8 47m75-43l-27 39m102-23l-46 7m107 12l-37-30m85 38l-2-47m49 39l35-31m25 12l47 7m30-24l24 41m62-42l-17 43m97-28l-46 13m107 8l-37-29m-6471 104l0-47m84 37l-37-28m107 7l-45 14m96-29l-17 44m62-42l24 40m31-23l46 7m24 12l36-31m48 39l0-47m83 39l-35-32m106 15l-46 3m104-20l-31 36m79-41l4 47m46-39l35 31m25-15l47-2m25 18l34-33m46 40l4-47m77 43l-27-39m102 26l-45-13m110-2l-44 17m100-29l-25 40m76-43l4 47m49-42l29 37m29-26l44 14m21-1l45-12m27 23l32-34m44 40l11-46m67 46l-13-45m88 39l-32-34m104 25l-45-16m111 6l-46 5m109-15l-41 24m100-31l-28 38m85-42l-11 46m68-46l6 47m52-45l21 42m38-37l34 33m28-27l42 21m21-15l46 8m19-2l47-4m20 10l45-15m23 19l40-24m28 28l35-32m34 35l28-37m40 39l23-41m46 42l17-44m51 45l12-46m56 46l7-46m60 47l4-47m62 47l2-47m65 47l0-47m65 47l1-47m64 47l2-47m63 47l3-47m61 47l6-47m58 46l10-46m53 46l15-45m48 43l20-42m42 41l27-39m36 36l32-34m30 31l39-27m24 22l44-18m20 13l47-8m19 2l47 4m20-10l44 17m25-23l37 29m34-34l26 39m47-43l11 46m62-46l-5 47m80-44l-23 41m95-35l-36 29m106-21l-45 12m111-1l-46-9m107 18l-37-28m94 36l-20-43m74 45l3-47m51 43l26-39m32 29l42-20m21 7l47 6m24-18l36 30m41-37l13 45m67-45l-16 44m93-35l-39 26m109-11l-47-3m106 17l-35-32m87 39l-7-46m56 43l25-40m31 27l45-13m22-4l42 21m36-33l16 44m68-43l-20 43m98-30l-45 16m109 3l-42-21m93 33l-13-45m59 42l26-40m29 23l47-6m25-13l35 32m49-39l-3 47m87-37l-39 26m107-5l-44-15m95 30l-15-45m-6496 107l28-38m59 41l-15-44m95 29l-44-15m107-5l-39 26m87-37l-4 47m51-40l33 33m26-14l47-4m28 21l28-38m56 42l-9-46m90 35l-40-25m108 7l-45 11m100-25l-24 40m73-43l10 46m41-37l38 27m23-10l47-6m26 20l32-35m49 41l2-47m78 43l-28-38m102 25l-45-13m110-1l-44 16m101-28l-26 39m78-43l1 47m52-43l26 39m31-28l43 18m21-6l46-6m24 17l37-29m38 37l18-44m59 45l-4-47m80 44l-25-40m98 32l-40-25m109 16l-47-6m112-3l-46 12m107-20l-37 28m96-34l-24 40m82-43l-9 46m67-46l6 46m53-45l19 43m41-39l31 36m31-32l38 27m24-22l44 17m21-12l46 7m19-2l47-2m19 6l46-11m21 15l43-18m24 20l41-23m26 26l38-28m29 29l35-31m31 33l33-34m34 34l31-35m35 36l30-36m35 36l31-36m34 35l32-35m33 35l33-34m32 33l34-32m30 30l37-29m27 27l40-25m24 23l43-20m22 16l45-13m20 10l46-6m19 1l47 4m19-9l46 14m22-19l41 24m28-29l34 33m37-37l23 41m49-43l10 46m63-47l-4 47m77-44l-20 42m93-38l-34 33m104-25l-43 18m110-9l-47 0m111 9l-43-19m102 28l-30-36m86 41l-11-46m66 46l11-46m44 40l31-35m28 25l45-15m20 3l46 10m26-22l33 33m44-39l10 46m69-45l-17 44m94-35l-40 26m109-12l-47-3m107 17l-36-31m88 39l-9-46m59 43l23-41m32 29l44-16m21-1l44 17m33-29l21 42m62-44l-13 45m93-33l-42 22m109-4l-45-14m99 28l-22-42m68 43l17-44m35 30l44-17m23-2l41 22m40-34l10 46m76-41l-30 36m104-18l-47-1m103 20l-28-38m72 41l14-45m-6518 96l44-15m36 30l15-45m72 42l-27-39m102 21l-47-3m105-16l-31 35m77-41l7 47m42-36l40 25m23-6l45-13m33 28l21-43m63 43l-16-44m95 32l-43-19m109 1l-44 17m98-30l-20 43m68-44l14 45m39-35l40 25m22-9l46-7m27 21l31-35m50 41l1-47m79 43l-28-39m102 27l-45-15m110 0l-44 15m102-26l-29 37m82-42l-4 47m57-44l22 41m34-33l40 25m22-13l47 1m22 10l41-22m32 31l26-39m49 43l7-47m69 46l-14-45m88 40l-31-35m102 27l-42-19m110 10l-47-2m111-6l-44 15m106-22l-37 29m97-34l-26 39m85-42l-13 45m72-46l0 47m60-46l12 45m48-43l23 41m39-38l30 35m32-32l37 29m26-25l42 21m22-18l45 15m20-12l46 9m19-6l47 3m19-1l47-1m18 2l47-3m19 4l47-5m19 6l46-7m19 7l47-7m19 7l46-7m19 6l47-5m19 3l47-1m18-1l47 3m19-5l46 7m20-10l45 13m22-16l43 19m24-23l39 27m30-30l33 33m36-36l26 39m45-42l15 45m56-46l4 47m68-47l-9 47m81-44l-22 41m94-37l-34 33m104-27l-43 20m110-11l-47 3m112 5l-45-13m106 22l-36-31m94 37l-21-43m76 45l0-47m56 45l20-43m36 36l38-29m23 18l47-7m20-5l44 17m29-27l29 37m49-42l5 47m73-45l-21 42m97-32l-41 23m109-9l-46-5m106 18l-35-31m87 39l-8-47m59 44l22-41m33 30l43-19m21 2l45 14m31-27l24 41m58-44l-9 47m90-37l-39 27m108-10l-46-7m102 22l-27-38m75 43l8-47m42 36l39-25m24 6l45 13m33-28l20 43m65-43l-20 43m99-27l-46 11m107 9l-37-29m84 38l0-47m47 37l37-28m-6530 73l44 14m24 7l39-28m45 38l2-47m83 38l-36-30m106 11l-46 9m100-25l-23 41m69-43l16 44m36-31l44 18m22 1l43-20m37 32l14-44m69 43l-21-42m98 28l-44-14m109-3l-43 20m96-32l-18 44m67-44l16 44m37-33l41 23m22-8l46-8m27 22l31-36m48 42l4-47m76 43l-25-40m100 29l-44-18m111 4l-46 10m105-22l-33 34m87-40l-10 46m63-45l15 44m40-37l35 31m25-21l46 10m20 1l46-12m25 22l35-32m39 38l18-44m57 46l-1-47m76 44l-20-42m93 37l-34-32m104 25l-44-18m111 10l-47-2m112-5l-45 12m108-19l-40 26m101-31l-31 36m91-39l-21 42m82-44l-11 46m71-46l0 47m61-47l9 46m53-45l17 44m45-42l23 40m40-39l28 38m36-36l32 34m32-32l35 31m29-30l38 28m27-27l39 26m26-26l40 26m26-26l39 26m27-26l39 26m27-27l38 28m28-29l36 30m31-31l33 33m34-35l30 36m38-38l25 40m44-41l19 43m50-45l12 46m58-46l3 47m67-47l-6 46m77-45l-17 44m88-41l-28 38m98-33l-37 29m106-23l-44 17m111-10l-47 2m112 6l-45-13m107 20l-38-28m97 34l-25-40m82 43l-8-46m64 46l11-46m45 41l30-36m29 28l43-19m21 8l47 2m22-13l40 24m34-33l23 42m55-44l-2 47m79-43l-26 39m100-29l-43 18m111-5l-47-8m105 21l-32-34m85 40l-7-46m58 44l22-42m33 30l43-18m22 3l45 13m30-27l26 40m55-43l-6 46m87-38l-36 30m107-14l-47-2m105 18l-32-34m81 41l1-47m47 39l36-31m24 13l47 4m28-21l28 38m57-42l-10 46m91-34l-42 22m108-2l-43-18m94 32l-13-46m58 42l28-38m28 19l47 0m-6526 46l26 39m29-20l47 2m27 17l30-36m55 41l-9-46m91 34l-42-22m108 2l-43 18m95-32l-15 45m61-43l23 41m32-26l45 11m23 8l40-26m41 36l9-46m74 42l-26-39m101 25l-45-11m109-6l-42 23m95-33l-16 44m65-44l16 44m38-34l40 24m22-9l47-7m25 20l33-33m46 40l7-47m73 45l-22-42m97 32l-41-23m110 10l-47 3m108-15l-38 28m93-36l-18 43m72-45l6 47m49-42l27 38m31-30l42 21m21-10l47 0m21 10l42-20m29 28l31-36m43 40l14-45m60 46l-3-47m77 45l-20-43m92 38l-33-33m103 27l-42-21m110 15l-46-8m112 1l-47 5m111-11l-44 17m107-22l-39 27m101-31l-32 35m94-37l-25 40m87-42l-18 44m80-45l-11 46m73-47l-4 47m67-47l1 47m63-47l5 47m59-46l8 46m56-46l11 46m54-46l12 46m54-46l11 45m55-45l10 46m56-46l9 46m58-47l6 47m62-47l2 47m66-47l-3 47m71-46l-8 46m77-46l-15 45m84-43l-22 41m91-39l-29 37m98-33l-36 29m105-24l-43 20m110-15l-46 9m112-3l-47-3m111 10l-44-17m106 24l-36-30m96 35l-25-40m82 43l-9-46m66 46l9-46m48 42l26-39m33 33l39-26m23 16l46-7m20-3l45 14m26-24l34 33m42-39l13 45m64-45l-10 46m87-40l-32 34m104-23l-45 12m110 1l-44-14m102 25l-29-37m81 42l-2-47m54 44l25-40m31 28l44-17m21 2l45 14m30-27l26 39m55-43l-5 47m86-39l-35 32m106-16l-47 0m107 16l-35-32m84 39l-2-47m51 41l31-35m27 19l47-2m25-16l33 33m50-40l-2 47m85-38l-37 29m107-10l-46-9m100 25l-22-41m67 42l18-43m34 28l46-12m24-9l37 29m-6506 28l-4 47m50-39l35 31m25-11l46-9m32 25l22-42m63 43l-18-43m97 28l-45-14m108-5l-40 25m90-36l-8 46m55-42l28 38m29-22l46 6m24 12l37-29m44 38l6-47m76 42l-27-38m102 24l-46-10m109-6l-41 23m95-34l-17 44m66-44l15 45m39-36l39 26m22-11l47-3m24 16l36-30m42 38l12-45m67 45l-15-45m92 37l-37-29m107 17l-47-5m111-8l-43 20m100-29l-27 38m82-42l-5 47m60-46l16 44m40-38l35 32m26-23l44 14m20-4l47-5m22 14l41-23m30 30l29-37m44 41l14-45m59 46l-1-47m74 45l-16-44m88 41l-28-38m98 34l-37-29m106 23l-44-18m111 13l-47-7m112 2l-46 3m111-8l-45 12m109-15l-42 19m106-23l-39 26m103-28l-36 31m100-33l-32 35m96-36l-29 37m93-38l-26 39m91-40l-25 40m90-40l-24 41m89-41l-23 41m89-41l-24 41m90-40l-25 39m92-39l-28 38m95-36l-31 35m98-34l-34 32m102-29l-38 27m105-25l-41 22m108-18l-44 15m111-11l-47 6m112-1l-46-4m111 10l-45-15m108 20l-40-25m101 30l-31-35m91 39l-20-43m79 45l-6-47m64 46l9-46m48 43l25-40m35 34l37-28m24 20l46-11m19 1l47 8m23-17l38 27m35-34l23 41m53-44l2 47m75-45l-20 42m95-34l-39 27m108-16l-47 4m110 9l-42-21m99 31l-24-41m76 44l3-47m49 42l30-37m28 25l45-13m21-2l44 17m31-29l25 40m56-43l-6 47m86-40l-35 32m107-16l-47 1m107 15l-36-31m86 39l-5-47m54 42l28-37m28 22l47-7m23-11l38 29m44-38l5 47m79-41l-32 35m105-17l-47-1m104 18l-30-36m76 41l9-46m41 34l41-22m23 2l43 19m39-33l11 46m-6479 26l-32 34m78-40l7 46m42-35l41 23m23-2l43-18m37 31l14-44m71 42l-25-40m102 24l-47-8m107-11l-36 30m85-38l-3 46m51-41l32 36m26-19l47 2m24 14l36-30m45 38l5-46m77 42l-28-38m103 24l-46-10m109-6l-42 22m96-33l-19 43m70-44l11 46m42-38l36 30m24-16l47 2m22 11l40-25m36 34l19-43m60 45l-8-46m85 41l-31-36m103 25l-44-15m111 3l-46 9m106-19l-36 30m93-37l-18 44m73-46l3 47m53-44l22 42m36-35l37 28m24-20l46 12m19-3l47-6m21 14l42-22m29 28l32-34m39 38l20-42m53 44l6-46m66 46l-7-46m78 45l-18-44m88 41l-27-38m97 34l-36-31m104 28l-41-24m108 20l-44-16m111 13l-46-10m112 7l-47-4m112 1l-47 2m113-4l-47 6m112-8l-46 9m111-10l-45 12m111-12l-46 12m111-12l-45 12m111-12l-46 12m112-11l-46 10m111-9l-46 7m112-5l-47 4m113-1l-47-2m112 5l-46-8m111 11l-45-14m109 18l-42-22m105 25l-37-28m99 32l-30-36m91 39l-21-42m81 44l-10-46m70 46l2-47m57 46l15-44m44 41l28-38m32 32l39-26m23 19l46-12m19 3l47 6m22-15l40 24m31-31l29 38m46-42l10 46m66-46l-11 46m87-41l-31 36m103-26l-44 16m110-5l-46-7m107 19l-37-30m92 37l-16-44m69 45l10-46m43 39l34-32m26 20l46-8m22-7l42 21m34-31l21 42m59-44l-9 46m88-38l-36 30m107-15l-47 0m107 15l-36-30m87 38l-6-46m55 42l27-38m29 24l46-10m23-8l39 26m42-36l9 46m74-42l-27 38m102-22l-46 6m106 13l-35-32m83 39l1-47m47 39l36-30m24 10l46 10m33-26l20 42m66-42l-21 42m-6456 43l-46 3m101-21l-25 39m70-42l16 45m35-30l45 15m23 5l40-25m42 36l8-47m76 42l-30-37m104 20l-47-3m106-15l-34 33m83-40l0 47m49-40l33 33m26-17l47 1m24 15l35-31m45 39l6-47m76 43l-26-39m101 26l-45-13m109-3l-43 19m99-30l-23 41m74-44l6 47m46-40l33 34m26-22l46 9m21 4l43-17m31 28l27-39m50 43l3-47m75 44l-22-41m96 33l-39-25m109 15l-47-4m111-7l-44 17m103-26l-31 35m88-40l-14 45m69-46l7 47m50-44l24 41m35-35l37 29m25-22l45 15m19-7l47-1m20 9l44-16m25 22l38-29m32 33l29-37m42 40l18-43m53 45l7-47m63 47l-2-47m72 46l-11-45m81 44l-19-43m87 41l-25-39m93 38l-30-36m98 34l-34-33m101 31l-37-29m103 28l-38-27m104 26l-39-25m105 25l-40-24m106 24l-41-24m106 24l-40-25m105 26l-39-27m104 28l-38-29m102 30l-35-31m99 33l-32-35m95 37l-27-39m90 41l-21-42m83 43l-14-45m75 46l-5-47m66 47l4-47m56 46l15-45m46 42l25-39m35 35l35-31m27 26l42-21m21 14l47-7m19-1l46 9m23-17l40 25m31-31l29 37m45-41l12 45m63-46l-7 47m82-43l-26 39m99-32l-41 25m110-14l-47 3m110 8l-43-19m101 28l-28-37m83 42l-6-47m59 45l19-43m36 34l40-25m22 12l47 1m23-14l38 27m39-36l15 45m65-45l-14 45m92-36l-38 27m108-12l-47-3m106 18l-35-32m86 39l-5-47m54 43l27-39m29 25l46-10m23-8l40 25m40-35l11 45m72-43l-24 41m101-26l-46 11m107 8l-38-27m88 37l-6-47m52 41l32-35m26 17l47 1m28-19l28 37m58-41l-12 45m93-31l-43 18m-6449 70l-38-28m107 8l-45 13m97-29l-18 44m63-42l23 41m31-25l46 9m24 10l37-29m46 38l3-47m80 40l-32-34m105 17l-47 0m105-17l-32 34m81-40l1 47m49-41l33 34m25-18l47 2m24 14l36-30m44 38l8-46m73 44l-23-41m99 29l-44-17m110 2l-45 13m102-26l-28 38m80-42l-1 47m53-43l26 39m31-29l43 18m21-5l46-8m25 20l35-31m41 38l15-45m62 45l-9-46m85 41l-30-36m102 27l-43-18m111 8l-47 2m110-12l-42 22m101-29l-29 37m86-41l-12 45m69-46l5 47m53-45l20 42m39-37l33 33m28-27l42 21m22-15l46 8m19-1l47-5m20 10l44-16m24 21l39-26m30 30l32-34m37 37l25-40m44 42l18-43m51 44l11-46m57 47l6-47m62 47l1-47m67 47l-3-47m70 46l-6-46m73 46l-9-46m75 46l-10-46m76 46l-11-46m76 46l-10-46m74 46l-7-46m72 47l-5-47m68 47l-1-47m64 47l4-47m59 46l10-46m52 45l16-44m46 43l23-41m39 38l31-36m32 33l36-29m26 24l43-20m21 15l46-9m19 2l47 4m20-10l44 17m25-23l37 29m35-35l25 40m48-43l10 46m64-46l-7 46m81-43l-24 40m97-34l-39 28m108-18l-46 9m111 1l-45-12m106 22l-35-31m91 37l-17-44m71 45l7-46m47 42l29-37m29 26l44-16m21 3l46 10m26-21l33 33m45-40l8 46m71-44l-19 43m96-33l-42 22m110-7l-47-7m105 20l-32-34m83 41l-3-47m53 42l29-38m28 24l46-9m22-8l41 24m39-34l12 45m71-43l-23 41m100-27l-46 13m109 5l-41-24m91 35l-10-46m57 42l27-38m29 21l47-4m25-14l34 33m50-40l-4 47m88-37l-40 26m108-5l-45-16m-6463 97l-8-46m91 33l-42-21m107 1l-42 20m92-33l-11 46m58-42l27 38m28-21l47 4m25 14l35-32m48 39l0-47m82 40l-34-32m106 15l-47 2m106-18l-33 34m82-41l0 47m50-40l32 34m26-20l47 5m22 11l39-27m40 36l12-45m69 44l-18-43m95 33l-41-23m109 9l-46 6m106-19l-35 32m88-39l-10 46m62-45l17 44m38-36l38 28m23-16l47 4m21 8l42-20m31 29l27-38m49 42l6-47m71 46l-16-44m90 38l-33-33m104 25l-44-16m111 6l-47 4m110-13l-42 21m102-28l-31 35m90-39l-17 44m75-46l-2 47m60-46l13 45m46-42l26 40m35-36l35 31m27-26l42 21m22-16l45 11m20-6l46 1m19 4l47-8m20 12l44-16m23 19l41-22m26 24l38-27m29 29l35-31m32 33l32-34m35 35l30-36m36 37l29-38m37 38l28-38m38 38l27-38m38 38l28-38m37 37l29-37m35 36l32-35m33 34l34-32m30 30l37-28m27 26l40-24m24 21l43-18m21 14l46-10m19 6l47-2m19-3l46 8m21-13l43 18m25-23l38 28m32-33l29 37m43-40l17 44m55-46l3 47m70-46l-12 46m85-43l-26 39m98-32l-39 26m108-18l-46 10m112-1l-47-9m108 19l-38-28m96 34l-23-41m78 44l-2-47m56 45l21-42m36 34l38-27m23 16l47-4m21-8l43 20m31-30l25 40m54-44l-1 47m80-42l-28 38m102-27l-45 16m111-1l-45-14m101 26l-27-38m78 42l2-47m49 41l31-35m27 21l47-6m22-10l39 26m41-36l11 46m71-44l-22 41m99-27l-45 14m109 4l-42-22m93 33l-13-45m60 43l24-40m31 24l46-9m24-10l37 29m46-38l2 47m82-39l-35 31m106-11l-46-8m100 25l-23-42m-6491 106l26-39m60 42l-15-45m95 30l-44-15m108-5l-40 25m89-36l-7 47m54-42l30 36m27-18l47 1m25 16l33-33m50 40l-1-47m83 39l-34-32m106 16l-47 1m106-17l-34 33m84-40l-3 47m53-42l29 37m28-23l46 9m22 7l41-23m36 33l18-43m62 44l-12-45m90 37l-36-29m107 16l-47-3m109-11l-40 25m96-34l-21 43m73-45l6 47m48-42l29 37m29-27l44 17m20-6l47-6m23 17l38-27m36 34l22-41m54 44l1-47m74 45l-18-43m92 38l-35-33m105 25l-44-17m111 8l-47 1m111-9l-44 17m106-24l-36 30m96-34l-25 39m84-42l-13 45m72-46l0 47m60-46l12 45m49-43l21 41m40-39l30 36m32-32l37 29m27-26l41 23m23-20l44 17m20-14l46 11m19-9l47 6m19-4l47 2m18 0l47-1m19 2l47-3m19 4l46-5m19 5l47-5m19 4l46-3m19 2l47-2m19 1l47 1m18-3l47 5m19-7l46 9m21-12l44 15m22-18l42 21m26-24l38 27m30-31l33 34m37-37l24 40m46-42l15 45m56-46l4 47m68-47l-9 47m81-45l-21 42m92-37l-33 33m103-27l-42 21m110-14l-46 6m111 3l-45-11m107 19l-38-27m97 34l-25-41m81 44l-6-47m61 46l15-45m41 39l34-33m26 23l45-13m20 2l46 9m25-20l35 31m41-38l14 45m65-45l-12 45m89-38l-35 31m106-19l-46 7m109 7l-41-21m97 31l-22-42m72 45l9-47m44 39l35-31m24 16l47-2m24-13l37 29m42-38l9 46m74-43l-25 41m101-27l-46 13m109 5l-41-23m93 34l-14-45m61 43l23-41m31 26l46-11m23-8l39 26m43-36l6 47m78-41l-31 35m105-17l-47-1m103 19l-28-37m73 41l13-45m-6519 93l46-10m33 26l20-42m65 42l-20-42m99 26l-46-10m107-9l-38 28m87-37l-4 46m51-40l32 34m26-17l47 0m26 17l33-34m49 41l0-47m82 40l-33-34m106 18l-47-2m106-14l-35 30m86-38l-6 46m56-43l25 40m31-27l45 14m21 1l44-16m31 28l25-40m54 43l-3-46m82 41l-29-36m103 25l-46-14m111 0l-45 14m104-25l-31 36m85-41l-8 46m61-45l16 44m40-37l35 30m25-20l46 10m20 1l46-12m24 21l37-30m37 36l20-42m55 45l1-47m73 45l-16-44m89 40l-31-36m102 29l-41-22m109 15l-46-8m112 1l-47 6m110-13l-43 20m105-25l-36 30m97-34l-27 38m88-41l-17 44m78-45l-8 46m69-46l1 47m61-47l8 46m54-45l15 44m48-43l21 42m42-41l25 40m39-39l29 38m35-37l31 36m34-35l33 34m32-33l34 33m32-33l33 33m33-34l33 34m33-34l31 34m35-35l30 36m37-37l27 38m41-40l23 42m45-43l17 44m52-45l11 46m58-46l4 46m66-46l-5 46m75-45l-14 44m85-42l-24 40m94-37l-33 34m102-29l-41 24m109-18l-46 12m112-4l-47-3m111 10l-43-18m104 25l-35-32m94 37l-21-42m78 44l-4-46m60 45l15-44m42 39l32-34m28 26l43-18m21 7l47 4m22-14l40 24m34-32l23 40m54-43l0 47m77-44l-24 40m99-31l-42 22m110-9l-47-4m107 17l-36-30m90 38l-13-46m64 45l16-44m38 35l39-26m23 11l47 4m25-18l33 33m47-40l5 46m77-42l-28 38m102-24l-46 10m109 7l-40-24m92 35l-13-46m61 44l22-41m32 26l45-12m23-6l40 24m41-35l9 46m76-42l-29 38m103-20l-47 2m105 16l-32-34m79 40l6-46m42 35l41-24m-6530 65l40 25m23-5l45-15m35 30l16-44m70 42l-24-41m100 25l-46-8m107-11l-37 29m86-38l-3 47m51-40l32 34m26-18l47 1m25 16l34-33m48 40l1-47m80 41l-30-35m104 20l-47-5m109-11l-39 27m91-36l-13 45m63-44l19 43m35-32l42 22m21-8l47-7m25 20l33-33m46 40l7-47m72 45l-20-43m95 34l-39-25m109 13l-47 0m109-12l-41 24m98-33l-23 41m77-44l0 47m54-44l22 42m36-35l38 27m23-18l47 9m19 1l46-11m24 20l37-29m35 35l24-41m50 44l7-47m67 47l-9-46m81 43l-23-41m95 36l-35-31m104 26l-42-20m109 14l-46-8m112 2l-47 3m112-8l-45 14m108-19l-40 23m103-27l-35 31m98-33l-30 36m93-38l-25 40m88-42l-19 43m82-44l-15 45m79-45l-11 46m75-47l-8 47m72-47l-5 47m70-47l-4 47m70-47l-5 47m71-47l-6 47m72-47l-7 47m74-46l-10 46m77-46l-13 45m81-44l-18 43m86-42l-23 41m92-39l-29 37m97-35l-34 33m102-29l-39 26m107-22l-44 17m111-12l-47 7m113-1l-47-4m111 10l-44-16m106 22l-38-28m99 33l-28-38m86 41l-14-45m72 46l2-47m55 45l19-43m39 38l33-33m28 26l43-18m21 8l47 1m21-11l42 21m30-29l28 38m48-43l7 47m70-45l-16 44m92-38l-36 31m106-20l-46 9m111 4l-44-17m101 28l-27-38m80 42l-2-47m54 43l25-39m31 28l44-17m21 2l45 13m29-25l28 38m53-43l-2 47m82-41l-31 35m104-20l-46 5m108 11l-39-27m90 37l-10-46m58 43l25-40m30 25l46-11m23-7l40 25m40-35l10 46m74-43l-27 39m103-22l-47 5m106 14l-34-32m81 39l2-47m46 38l38-28m24 8l45 12m-6517 36l10 46m40-33l41 21m24-1l43-19m37 32l13-45m72 42l-26-39m102 23l-47-7m108-12l-37 30m86-38l-4 47m52-41l31 35m27-19l46 3m24 13l37-30m44 39l6-47m76 43l-27-39m102 25l-46-12m110-4l-42 20m96-31l-20 43m71-45l10 46m42-38l36 30m24-16l47 3m22 10l41-24m35 34l20-43m59 45l-7-47m84 41l-30-36m103 26l-45-15m111 3l-46 9m107-20l-36 30m92-36l-18 43m73-45l3 47m53-44l23 41m35-35l38 28m24-19l45 11m20-2l46-7m22 15l41-24m30 30l30-36m42 40l17-44m56 46l3-47m69 46l-11-46m83 44l-23-41m93 38l-32-35m101 30l-39-26m107 22l-44-18m111 14l-46-9m112 5l-47-1m112-2l-47 5m112-8l-46 11m111-14l-44 16m109-18l-43 20m107-21l-41 23m107-24l-41 24m106-24l-40 25m105-25l-39 25m105-25l-40 25m106-24l-41 23m107-22l-42 21m109-19l-44 17m110-15l-45 13m111-10l-46 7m112-4l-47 1m112 3l-46-7m111 11l-45-15m108 19l-40-23m103 27l-35-32m96 36l-26-39m86 42l-15-45m74 46l-2-47m61 46l12-45m46 42l26-39m34 33l38-28m24 21l45-13m20 4l46 5m22-14l41 23m31-30l28 37m47-42l10 46m66-46l-12 46m87-40l-31 35m103-26l-44 16m111-4l-46-7m106 18l-36-30m91 38l-15-45m68 45l11-46m43 39l34-32m25 19l47-6m21-8l42 22m35-32l20 43m60-45l-10 46m89-37l-37 29m108-14l-47-1m106 16l-35-31m86 39l-5-47m54 42l28-38m28 24l47-9m22-9l40 26m41-36l9 46m75-42l-27 38m102-22l-47 6m107 13l-36-31m84 39l0-47m48 39l35-31m25 11l46 8m31-24l23 41m-6487 26l-28 38m73-42l13 46m38-32l43 18m23 1l42-21m38 34l12-46m73 42l-26-39m102 24l-47-8m108-10l-38 28m87-37l-6 46m55-42l28 38m28-23l47 8m23 9l39-26m40 36l11-46m71 44l-21-42m97 30l-43-19m110 4l-45 12m102-25l-28 38m79-43l0 47m52-42l28 38m29-27l45 16m20-2l46-12m27 23l31-34m46 40l9-46m69 45l-16-44m91 37l-36-30m107 20l-46-10m111-1l-45 12m105-22l-35 32m92-38l-18 44m74-46l2 47m55-44l19 42m39-37l34 32m27-25l43 18m21-10l47 2m19 6l45-14m24 20l39-26m31 31l30-36m41 39l19-43m52 45l8-46m63 46l-3-47m73 47l-12-46m82 44l-21-42m90 40l-28-38m96 36l-33-34m101 32l-37-30m104 28l-40-26m106 24l-41-22m107 21l-43-20m109 19l-43-18m109 17l-44-16m110 16l-45-16m110 16l-44-17m109 18l-43-18m108 19l-42-21m107 23l-40-24m104 26l-38-28m102 30l-34-32m97 34l-29-36m91 38l-23-41m85 43l-15-44m76 45l-6-46m66 46l5-47m55 46l16-44m45 41l26-39m34 35l36-30m26 24l43-18m21 11l47-4m19-4l46 12m23-20l38 28m34-34l26 40m49-43l7 46m68-46l-12 46m86-41l-29 36m102-28l-43 20m110-9l-47-2m109 13l-40-24m98 32l-24-40m77 43l1-47m52 44l25-40m32 30l43-20m21 7l46 6m25-19l35 32m43-39l10 46m70-44l-19 42m96-32l-42 22m110-7l-46-8m103 22l-30-36m81 41l0-47m50 41l31-35m27 20l46-4m24-13l37 29m44-37l6 46m77-42l-29 38m103-22l-46 6m107 12l-36-30m84 38l-1-47m49 40l34-32m25 13l47 6m29-23l26 40m60-42l-15 44m-6459 41l-46 5m101-22l-25 39m71-42l14 45m37-31l43 17m23 2l42-21m39 33l12-45m72 42l-25-39m101 24l-46-9m108-8l-39 25m90-35l-10 45m58-43l25 41m30-27l46 13m21 4l43-21m35 32l19-43m62 44l-13-45m91 36l-38-27m108 13l-47 1m108-15l-37 29m90-37l-12 45m64-45l15 45m39-37l38 29m23-16l47 3m21 9l42-21m32 30l25-39m52 43l2-47m75 45l-21-43m95 35l-38-27m108 18l-46-9m111-2l-45 13m106-21l-36 29m94-35l-21 41m78-44l-4 47m61-46l13 45m46-42l27 39m33-33l38 27m24-21l45 15m19-8l47 1m19 5l46-11m22 16l42-21m26 26l36-31m33 34l30-37m40 39l21-41m48 43l14-45m55 46l8-47m60 47l2-47m66 47l-3-47m71 47l-7-47m74 46l-10-45m76 45l-12-45m78 45l-13-45m79 45l-13-45m78 45l-12-45m77 45l-11-45m75 46l-8-47m72 47l-4-47m67 47l0-47m63 47l6-47m56 46l12-45m50 44l20-43m42 41l27-39m35 36l34-33m29 29l40-25m23 20l44-15m20 9l47-3m19-4l46 11m22-17l41 23m30-29l31 35m41-39l18 43m56-45l1 47m73-46l-16 45m89-40l-31 35m103-27l-44 19m111-9l-47-1m110 11l-42-21m100 30l-27-39m82 43l-6-47m60 45l18-43m38 36l37-29m24 17l46-5m21-8l43 21m32-31l24 41m55-44l-3 47m82-42l-30 37m103-24l-45 11m110 4l-43-19m98 30l-23-41m73 44l9-47m43 38l36-29m24 14l47 1m25-17l34 33m48-40l1 47m81-41l-32 35m105-19l-47 3m106 14l-34-31m83 39l-1-47m49 40l34-32m25 13l47 5m29-22l27 39m58-42l-12 45m93-32l-43 19m-6451 72l-34-32m106 13l-47 7m101-24l-24 40m70-42l15 44m37-31l43 18m22 1l43-20m37 32l15-44m69 43l-22-42m99 28l-45-14m109-4l-42 22m94-33l-15 44m64-44l18 44m35-32l43 20m21-4l46-12m29 25l27-38m53 43l-2-47m82 41l-30-36m103 23l-46-10m111-4l-44 18m100-29l-25 40m78-43l0 47m53-43l25 39m32-30l42 20m21-8l47-4m23 16l39-27m35 34l21-42m55 45l0-47m76 44l-21-42m95 36l-37-29m107 20l-46-12m112 3l-47 7m109-16l-40 24m100-30l-29 37m88-41l-15 44m73-45l0 47m58-46l14 45m46-42l26 39m35-35l35 31m27-27l42 22m22-17l45 12m20-7l46 2m19 2l47-6m20 10l45-14m22 17l42-20m25 23l39-26m27 28l37-30m30 31l34-32m33 33l32-34m34 35l30-36m36 37l30-37m36 37l29-37m36 36l30-36m35 36l31-35m34 34l33-34m31 32l35-30m29 29l38-27m26 24l41-22m23 19l44-16m21 13l46-9m19 5l47-1m19-4l46 8m21-13l43 18m25-23l38 28m32-32l29 36m42-40l18 44m54-45l5 47m68-47l-10 46m83-43l-25 40m97-34l-37 29m107-21l-46 13m112-4l-47-5m109 14l-40-24m99 31l-27-38m83 42l-8-46m63 46l14-45m41 39l34-33m26 22l45-12m21 0l45 12m27-23l32 34m45-40l9 46m70-45l-18 44m94-35l-39 26m109-12l-47-1m107 14l-37-28m90 37l-12-46m63 45l18-44m36 33l41-22m22 6l46 10m28-24l28 38m54-42l-4 47m85-40l-35 32m107-15l-47-2m105 18l-32-34m80 41l2-47m47 38l35-30m25 12l47 6m28-22l27 38m58-42l-11 46m92-33l-42 20m108 0l-43-20m-6469 99l2-47m82 39l-35-31m106 12l-46 7m101-23l-25 40m71-43l14 45m38-32l42 20m22-2l44-17m35 30l18-43m65 44l-17-44m95 31l-43-19m110 2l-45 15m99-28l-22 41m72-43l10 46m41-37l38 28m23-13l47-2m24 16l36-30m43 38l10-46m70 44l-19-43m95 34l-40-24m109 10l-47 3m108-16l-38 29m93-36l-16 44m68-45l10 46m45-41l31 35m28-25l44 15m21-3l46-8m23 18l38-28m36 35l22-42m53 44l2-47m74 46l-18-44m91 39l-33-34m104 26l-43-19m110 11l-47-3m112-5l-45 13m107-20l-39 27m100-32l-29 37m88-40l-17 44m77-46l-5 47m65-47l6 47m54-45l17 44m44-42l26 40m37-37l32 34m31-32l37 29m26-26l41 23m23-20l44 18m21-16l45 13m20-11l46 9m20-7l46 6m19-5l47 4m19-4l46 3m19-3l47 3m19-3l46 4m19-5l47 6m19-7l46 8m20-10l45 12m21-14l44 16m23-19l42 21m25-24l39 27m29-30l34 33m35-35l27 38m42-41l20 43m51-44l9 46m62-47l-2 47m73-46l-13 45m85-42l-25 40m96-36l-36 31m105-24l-43 18m110-11l-47 3m112 6l-45-14m106 21l-37-29m96 35l-23-41m79 44l-4-47m60 46l15-44m42 38l33-33m26 24l45-15m20 4l46 8m24-19l37 29m39-36l17 44m61-45l-8 46m85-41l-31 35m104-23l-46 12m111 1l-45-15m102 27l-28-38m80 42l0-47m51 43l28-38m29 25l45-12m22-4l43 19m34-30l20 42m61-44l-12 45m92-35l-40 26m109-9l-47-8m103 23l-28-38m76 42l7-47m43 38l38-28m24 10l46 8m30-24l25 40m59-43l-12 45m93-32l-43 20m108-1l-43-19m94 32l-13-45m-6502 103l38-29m46 38l1-47m83 39l-35-31m106 12l-47 6m102-22l-26 39m73-43l11 46m40-35l41 24m22-5l46-13m31 27l23-41m60 43l-12-45m91 35l-39-26m108 10l-46 7m104-22l-31 36m81-41l0 47m51-42l29 37m28-24l46 11m21 4l43-19m33 30l23-41m56 44l-5-47m84 41l-31-36m104 25l-46-13m111 0l-45 13m104-24l-32 35m87-41l-11 46m65-45l13 45m42-39l33 33m27-24l45 15m20-5l46-6m23 16l39-25m33 32l26-39m48 42l9-46m65 46l-8-46m82 43l-25-40m96 35l-36-29m106 23l-44-17m111 10l-47-3m112-4l-46 11m109-17l-41 22m103-26l-35 31m97-35l-27 38m89-40l-20 43m81-44l-11 45m73-46l-4 47m66-47l3 47m60-47l9 46m54-45l14 45m49-44l18 43m47-43l20 43m44-42l23 41m42-41l24 41m42-41l23 41m43-41l22 41m44-42l21 42m46-42l18 43m49-44l15 45m53-45l11 45m57-46l6 47m63-47l-1 47m70-47l-8 47m78-46l-17 44m86-42l-24 40m94-37l-33 34m102-29l-40 25m108-20l-45 15m112-8l-47 1m111 5l-45-12m108 19l-39-25m99 31l-29-37m88 41l-15-45m71 46l3-47m54 45l21-43m37 37l36-31m25 22l45-13m20 2l46 8m24-18l38 28m36-35l21 43m56-45l-2 47m79-43l-25 39m99-30l-42 21m110-8l-47-5m107 17l-36-29m91 37l-15-45m66 45l14-45m40 36l37-28m24 14l47 0m23-14l37 29m42-38l11 46m70-44l-21 42m98-30l-43 18m109-1l-44-15m99 28l-23-41m71 43l12-45m39 34l41-23m22 5l46 13m31-27l23 41m62-43l-15 45m94-32l-43 19m109 0l-43-20m93 33l-12-45m58 41l27-38"/>
<clipPath id="clipI"><rect x="1084.0" y="40.7" width="409.5999999999999" height="407.6"/></clipPath>
<clipPath id="clipC"><rect x="82.0" y="820.2" width="607.3" height="542.2"/></clipPath>
<filter id="b12" color-interpolation-filters="sRGB" filterUnits="userSpaceOnUse" x="0" y="0" width="1570" height="1454"><feGaussianBlur stdDeviation="12"/></filter>
<mask id="mOut" maskUnits="userSpaceOnUse" x="0" y="780" width="780" height="640"><rect x="0" y="780" width="780" height="640" fill="#fff"/><polygon points="102.2,1396 669.2,1396 405.9,982 365.4,982" fill="#000" filter="url(#b12)"/></mask>
<mask id="mIn" maskUnits="userSpaceOnUse" x="0" y="780" width="780" height="640"><rect x="0" y="780" width="780" height="640" fill="#000"/><polygon points="73.8,1396 697.5,1396 418.1,922.8 353.3,922.8" fill="#fff" filter="url(#b8)"/></mask>
<linearGradient id="cRamp" gradientUnits="userSpaceOnUse" x1="0" y1="1362.2" x2="0" y2="939.7"><stop offset="0" stop-color="#fff" stop-opacity="0"/><stop offset="0.45" stop-color="#fff" stop-opacity="0"/><stop offset="0.62" stop-color="#fff" stop-opacity="0.03"/><stop offset="0.8" stop-color="#fff" stop-opacity="0.085"/><stop offset="0.92" stop-color="#fff" stop-opacity="0.15"/><stop offset="1" stop-color="#fff" stop-opacity="0.2"/></linearGradient>
<clipPath id="clipD"><rect x="863.2" y="814.3" width="614.3" height="555.9000000000001"/></clipPath>
<filter id="spk" color-interpolation-filters="sRGB" filterUnits="userSpaceOnUse" x="850" y="800" width="640" height="580"><feTurbulence type="fractalNoise" baseFrequency="0.03 0.034" numOctaves="3" seed="5" result="n"/><feColorMatrix in="n" type="matrix" values="0.09 0 0 0 -0.039  0.09 0 0 0 -0.039  0.09 0 0 0 -0.039  0 0 0 0 1"/></filter>
</defs>
<rect width="1570" height="1454" fill="#fff"/>
<g id="panelA">
<rect x="86" y="36.5" width="665.5" height="662" fill="url(#aBg)"/>
<g clip-path="url(#clipA)">
<ellipse cx="470" cy="680" rx="190" ry="70" fill="#9aa2d6" opacity="0.42" filter="url(#b30)"/>
<ellipse cx="540" cy="610" rx="70" ry="80" fill="#a6a8cc" opacity="0.4" filter="url(#b20)"/>
<polygon points="211,449.4 371.5,336 587.3,407.3 442,539" fill="url(#aBlueT)" stroke="url(#aBlueT)" stroke-width="0.7" stroke-linejoin="round"/>
<polygon points="211,449.4 442,539 442.5,682.5 223,585.7" fill="url(#aBlueF)" stroke="url(#aBlueF)" stroke-width="0.7" stroke-linejoin="round"/>
<polygon points="442,539 587.3,407.3 581,538.5 442.5,682.5" fill="url(#aBlueR)" stroke="url(#aBlueR)" stroke-width="0.7" stroke-linejoin="round"/>
<polygon points="300.2,425 451.3,479.5 451.3,530.8 442,539 300.8,484" fill="url(#aRefL)" stroke="url(#aRefL)" stroke-width="0.7" stroke-linejoin="round"/>
<polygon points="451.3,479.5 505.8,433 505.6,481.4 451.3,530.8" fill="url(#aRefR)" stroke="url(#aRefR)" stroke-width="0.7" stroke-linejoin="round"/>
<polygon points="282.8,94.8 452.2,136.3 451,421.4 313.6,375 298.4,381" fill="url(#aGoldL)" stroke="url(#aGoldL)" stroke-width="0.7" stroke-linejoin="round"/>
<polygon points="298.4,381 313.6,375 451,421.4 451.3,479.5 300.2,425" fill="url(#aBandL)" stroke="url(#aBandL)" stroke-width="0.7" stroke-linejoin="round"/>
<polygon points="452.2,136.3 513.4,100.6 507.6,381 451,421.4" fill="url(#aGoldR)" stroke="url(#aGoldR)" stroke-width="0.7" stroke-linejoin="round"/>
<polygon points="451,421.4 507.6,381 505.8,433 451.3,479.5" fill="url(#aBandR)" stroke="url(#aBandR)" stroke-width="0.7" stroke-linejoin="round"/>
<polygon points="282.8,94.8 349,61.7 513.4,100.6 452.2,136.3" fill="#cdb690" stroke="#cdb690" stroke-width="0.7" stroke-linejoin="round"/>
</g>
<line x1="505.7" y1="287.2" x2="633" y2="287.2" stroke="#2a2a2a" stroke-width="1"/>
<line x1="496.3" y1="538.2" x2="627" y2="538.2" stroke="#2a2a2a" stroke-width="1"/>
<text x="8.5" y="25" font-size="33" stroke="#000" stroke-width="0.35">(a)</text>
<text transform="translate(363.3,136.2) rotate(14)" font-size="36" text-anchor="middle" y="12.5" stroke="#000" stroke-width="0.5">L</text>
<text transform="translate(488.5,138.2) rotate(-30)" font-size="35.5" text-anchor="middle" y="12.5" stroke="#000" stroke-width="0.5">W</text>
<text x="445.7" y="314.6" font-size="36" text-anchor="middle" stroke="#000" stroke-width="0.4">H</text>
<text x="639.5" y="298" font-size="41" stroke="#000" stroke-width="0.4">Au</text>
<text x="636" y="549.5" font-size="41" stroke="#000" stroke-width="0.4">SiO<tspan font-size="28" dy="7.5" stroke-width="0.3">2</tspan></text>
</g>
<g id="panelB">
<g clip-path="url(#clipB)" fill="none"><use href="#dashes" transform="scale(0.1)" stroke="#a1972c" stroke-width="22.5"/><use href="#dashes" transform="scale(0.1)" stroke="#eeec00" stroke-width="11.5"/></g>
<line x1="918" y1="563" x2="1084" y2="41" stroke="#3fc0e6" stroke-width="1.25"/>
<line x1="970.5" y1="614" x2="1493.5" y2="448" stroke="#3fc0e6" stroke-width="1.25"/>
<rect x="918.1" y="564.6" width="50.1" height="50.8" fill="none" stroke="#21b6d6" stroke-width="5.2" stroke-dasharray="5.2 11.1" stroke-dashoffset="1.8" stroke-linecap="round" stroke-linejoin="round"/>
<rect x="1084.0" y="40.7" width="409.5999999999999" height="407.6" fill="#fff"/>
<g clip-path="url(#clipI)" fill="#ffff00" stroke="#b9ad3a" stroke-width="0.6">
<rect x="-12.4" y="-5" width="24.8" height="10" transform="translate(1096.5,64) rotate(-30)"/>
<rect x="-12.4" y="-5" width="24.8" height="10" transform="translate(1133.6,64) rotate(-105)"/>
<rect x="-12.4" y="-5" width="24.8" height="10" transform="translate(1170.6,64) rotate(-50)"/>
<rect x="-12.4" y="-5" width="24.8" height="10" transform="translate(1207.7,64) rotate(-173)"/>
<rect x="-12.4" y="-5" width="24.8" height="10" transform="translate(1244.8,64) rotate(-120)"/>
<rect x="-12.4" y="-5" width="24.8" height="10" transform="translate(1281.8,64) rotate(-88)"/>
<rect x="-12.4" y="-5" width="24.8" height="10" transform="translate(1318.9,64) rotate(-55)"/>
<rect x="-12.4" y="-5" width="24.8" height="10" transform="translate(1356,64) rotate(-12)"/>
<rect x="-12.4" y="-5" width="24.8" height="10" transform="translate(1393.1,64) rotate(-148)"/>
<rect x="-12.4" y="-5" width="24.8" height="10" transform="translate(1430.1,64) rotate(-98)"/>
<rect x="-12.4" y="-5" width="24.8" height="10" transform="translate(1467.2,64) rotate(-72)"/>
<rect x="-12.4" y="-5" width="24.8" height="10" transform="translate(1096.5,101.1) rotate(-25)"/>
<rect x="-12.4" y="-5" width="24.8" height="10" transform="translate(1133.6,101.1) rotate(-150)"/>
<rect x="-12.4" y="-5" width="24.8" height="10" transform="translate(1170.6,101.1) rotate(-90)"/>
<rect x="-12.4" y="-5" width="24.8" height="10" transform="translate(1207.7,101.1) rotate(-35)"/>
<rect x="-12.4" y="-5" width="24.8" height="10" transform="translate(1244.8,101.1) rotate(0)"/>
<rect x="-12.4" y="-5" width="24.8" height="10" transform="translate(1281.8,101.1) rotate(-155)"/>
<rect x="-12.4" y="-5" width="24.8" height="10" transform="translate(1318.9,101.1) rotate(-108)"/>
<rect x="-12.4" y="-5" width="24.8" height="10" transform="translate(1356,101.1) rotate(-60)"/>
<rect x="-12.4" y="-5" width="24.8" height="10" transform="translate(1393.1,101.1) rotate(-10)"/>
<rect x="-12.4" y="-5" width="24.8" height="10" transform="translate(1430.1,101.1) rotate(-150)"/>
<rect x="-12.4" y="-5" width="24.8" height="10" transform="translate(1467.2,101.1) rotate(-132)"/>
<rect x="-12.4" y="-5" width="24.8" height="10" transform="translate(1096.5,138.1) rotate(-65)"/>
<rect x="-12.4" y="-5" width="24.8" height="10" transform="translate(1133.6,138.1) rotate(-5)"/>
<rect x="-12.4" y="-5" width="24.8" height="10" transform="translate(1170.6,138.1) rotate(-130)"/>
<rect x="-12.4" y="-5" width="24.8" height="10" transform="translate(1207.7,138.1) rotate(-78)"/>
<rect x="-12.4" y="-5" width="24.8" height="10" transform="translate(1244.8,138.1) rotate(-90)"/>
<rect x="-12.4" y="-5" width="24.8" height="10" transform="translate(1281.8,138.1) rotate(-40)"/>
<rect x="-12.4" y="-5" width="24.8" height="10" transform="translate(1318.9,138.1) rotate(-165)"/>
<rect x="-12.4" y="-5" width="24.8" height="10" transform="translate(1356,138.1) rotate(-110)"/>
<rect x="-12.4" y="-5" width="24.8" height="10" transform="translate(1393.1,138.1) rotate(-55)"/>
<rect x="-12.4" y="-5" width="24.8" height="10" transform="translate(1430.1,138.1) rotate(-48)"/>
<rect x="-12.4" y="-5" width="24.8" height="10" transform="translate(1467.2,138.1) rotate(-25)"/>
<rect x="-12.4" y="-5" width="24.8" height="10" transform="translate(1096.5,175.2) rotate(-110)"/>
<rect x="-12.4" y="-5" width="24.8" height="10" transform="translate(1133.6,175.2) rotate(-47)"/>
<rect x="-12.4" y="-5" width="24.8" height="10" transform="translate(1170.6,175.2) rotate(-160)"/>
<rect x="-12.4" y="-5" width="24.8" height="10" transform="translate(1207.7,175.2) rotate(-62)"/>
<rect x="-12.4" y="-5" width="24.8" height="10" transform="translate(1244.8,175.2) rotate(-162)"/>
<rect x="-12.4" y="-5" width="24.8" height="10" transform="translate(1281.8,175.2) rotate(-98)"/>
<rect x="-12.4" y="-5" width="24.8" height="10" transform="translate(1318.9,175.2) rotate(-40)"/>
<rect x="-12.4" y="-5" width="24.8" height="10" transform="translate(1356,175.2) rotate(-155)"/>
<rect x="-12.4" y="-5" width="24.8" height="10" transform="translate(1393.1,175.2) rotate(-45)"/>
<rect x="-12.4" y="-5" width="24.8" height="10" transform="translate(1430.1,175.2) rotate(-155)"/>
<rect x="-12.4" y="-5" width="24.8" height="10" transform="translate(1467.2,175.2) rotate(-93)"/>
<rect x="-12.4" y="-5" width="24.8" height="10" transform="translate(1096.5,212.3) rotate(-160)"/>
<rect x="-12.4" y="-5" width="24.8" height="10" transform="translate(1133.6,212.3) rotate(-90)"/>
<rect x="-12.4" y="-5" width="24.8" height="10" transform="translate(1170.6,212.3) rotate(-5)"/>
<rect x="-12.4" y="-5" width="24.8" height="10" transform="translate(1207.7,212.3) rotate(-103)"/>
<rect x="-12.4" y="-5" width="24.8" height="10" transform="translate(1244.8,212.3) rotate(-35)"/>
<rect x="-12.4" y="-5" width="24.8" height="10" transform="translate(1281.8,212.3) rotate(-158)"/>
<rect x="-12.4" y="-5" width="24.8" height="10" transform="translate(1318.9,212.3) rotate(-95)"/>
<rect x="-12.4" y="-5" width="24.8" height="10" transform="translate(1356,212.3) rotate(-143)"/>
<rect x="-12.4" y="-5" width="24.8" height="10" transform="translate(1393.1,212.3) rotate(-88)"/>
<rect x="-12.4" y="-5" width="24.8" height="10" transform="translate(1430.1,212.3) rotate(-30)"/>
<rect x="-12.4" y="-5" width="24.8" height="10" transform="translate(1467.2,212.3) rotate(-152)"/>
<rect x="-12.4" y="-5" width="24.8" height="10" transform="translate(1096.5,249.3) rotate(-30)"/>
<rect x="-12.4" y="-5" width="24.8" height="10" transform="translate(1133.6,249.3) rotate(-130)"/>
<rect x="-12.4" y="-5" width="24.8" height="10" transform="translate(1170.6,249.3) rotate(-42)"/>
<rect x="-12.4" y="-5" width="24.8" height="10" transform="translate(1207.7,249.3) rotate(-155)"/>
<rect x="-12.4" y="-5" width="24.8" height="10" transform="translate(1244.8,249.3) rotate(-90)"/>
<rect x="-12.4" y="-5" width="24.8" height="10" transform="translate(1281.8,249.3) rotate(-30)"/>
<rect x="-12.4" y="-5" width="24.8" height="10" transform="translate(1318.9,249.3) rotate(-6)"/>
<rect x="-12.4" y="-5" width="24.8" height="10" transform="translate(1356,249.3) rotate(-6)"/>
<rect x="-12.4" y="-5" width="24.8" height="10" transform="translate(1393.1,249.3) rotate(-143)"/>
<rect x="-12.4" y="-5" width="24.8" height="10" transform="translate(1430.1,249.3) rotate(-87)"/>
<rect x="-12.4" y="-5" width="24.8" height="10" transform="translate(1467.2,249.3) rotate(-28)"/>
<rect x="-12.4" y="-5" width="24.8" height="10" transform="translate(1096.5,286.4) rotate(-90)"/>
<rect x="-12.4" y="-5" width="24.8" height="10" transform="translate(1133.6,286.4) rotate(-170)"/>
<rect x="-12.4" y="-5" width="24.8" height="10" transform="translate(1170.6,286.4) rotate(-90)"/>
<rect x="-12.4" y="-5" width="24.8" height="10" transform="translate(1207.7,286.4) rotate(-22)"/>
<rect x="-12.4" y="-5" width="24.8" height="10" transform="translate(1244.8,286.4) rotate(-148)"/>
<rect x="-12.4" y="-5" width="24.8" height="10" transform="translate(1281.8,286.4) rotate(-87)"/>
<rect x="-12.4" y="-5" width="24.8" height="10" transform="translate(1318.9,286.4) rotate(-115)"/>
<rect x="-12.4" y="-5" width="24.8" height="10" transform="translate(1356,286.4) rotate(-67)"/>
<rect x="-12.4" y="-5" width="24.8" height="10" transform="translate(1393.1,286.4) rotate(-10)"/>
<rect x="-12.4" y="-5" width="24.8" height="10" transform="translate(1430.1,286.4) rotate(-145)"/>
<rect x="-12.4" y="-5" width="24.8" height="10" transform="translate(1467.2,286.4) rotate(-88)"/>
<rect x="-12.4" y="-5" width="24.8" height="10" transform="translate(1096.5,323.5) rotate(-155)"/>
<rect x="-12.4" y="-5" width="24.8" height="10" transform="translate(1133.6,323.5) rotate(-32)"/>
<rect x="-12.4" y="-5" width="24.8" height="10" transform="translate(1170.6,323.5) rotate(-145)"/>
<rect x="-12.4" y="-5" width="24.8" height="10" transform="translate(1207.7,323.5) rotate(-78)"/>
<rect x="-12.4" y="-5" width="24.8" height="10" transform="translate(1244.8,323.5) rotate(-5)"/>
<rect x="-12.4" y="-5" width="24.8" height="10" transform="translate(1281.8,323.5) rotate(-60)"/>
<rect x="-12.4" y="-5" width="24.8" height="10" transform="translate(1318.9,323.5) rotate(-177)"/>
<rect x="-12.4" y="-5" width="24.8" height="10" transform="translate(1356,323.5) rotate(-118)"/>
<rect x="-12.4" y="-5" width="24.8" height="10" transform="translate(1393.1,323.5) rotate(-68)"/>
<rect x="-12.4" y="-5" width="24.8" height="10" transform="translate(1430.1,323.5) rotate(-12)"/>
<rect x="-12.4" y="-5" width="24.8" height="10" transform="translate(1467.2,323.5) rotate(-110)"/>
<rect x="-12.4" y="-5" width="24.8" height="10" transform="translate(1096.5,360.6) rotate(-178)"/>
<rect x="-12.4" y="-5" width="24.8" height="10" transform="translate(1133.6,360.6) rotate(-100)"/>
<rect x="-12.4" y="-5" width="24.8" height="10" transform="translate(1170.6,360.6) rotate(-50)"/>
<rect x="-12.4" y="-5" width="24.8" height="10" transform="translate(1207.7,360.6) rotate(-28)"/>
<rect x="-12.4" y="-5" width="24.8" height="10" transform="translate(1244.8,360.6) rotate(-168)"/>
<rect x="-12.4" y="-5" width="24.8" height="10" transform="translate(1281.8,360.6) rotate(-108)"/>
<rect x="-12.4" y="-5" width="24.8" height="10" transform="translate(1318.9,360.6) rotate(-48)"/>
<rect x="-12.4" y="-5" width="24.8" height="10" transform="translate(1356,360.6) rotate(-172)"/>
<rect x="-12.4" y="-5" width="24.8" height="10" transform="translate(1393.1,360.6) rotate(-108)"/>
<rect x="-12.4" y="-5" width="24.8" height="10" transform="translate(1430.1,360.6) rotate(-35)"/>
<rect x="-12.4" y="-5" width="24.8" height="10" transform="translate(1467.2,360.6) rotate(-133)"/>
<rect x="-12.4" y="-5" width="24.8" height="10" transform="translate(1096.5,397.6) rotate(-45)"/>
<rect x="-12.4" y="-5" width="24.8" height="10" transform="translate(1133.6,397.6) rotate(-178)"/>
<rect x="-12.4" y="-5" width="24.8" height="10" transform="translate(1170.6,397.6) rotate(-130)"/>
<rect x="-12.4" y="-5" width="24.8" height="10" transform="translate(1207.7,397.6) rotate(-90)"/>
<rect x="-12.4" y="-5" width="24.8" height="10" transform="translate(1244.8,397.6) rotate(-40)"/>
<rect x="-12.4" y="-5" width="24.8" height="10" transform="translate(1281.8,397.6) rotate(-165)"/>
<rect x="-12.4" y="-5" width="24.8" height="10" transform="translate(1318.9,397.6) rotate(-100)"/>
<rect x="-12.4" y="-5" width="24.8" height="10" transform="translate(1356,397.6) rotate(-32)"/>
<rect x="-12.4" y="-5" width="24.8" height="10" transform="translate(1393.1,397.6) rotate(-140)"/>
<rect x="-12.4" y="-5" width="24.8" height="10" transform="translate(1430.1,397.6) rotate(-78)"/>
<rect x="-12.4" y="-5" width="24.8" height="10" transform="translate(1467.2,397.6) rotate(-8)"/>
<rect x="-12.4" y="-5" width="24.8" height="10" transform="translate(1096.5,434.7) rotate(-103)"/>
<rect x="-12.4" y="-5" width="24.8" height="10" transform="translate(1133.6,434.7) rotate(-65)"/>
<rect x="-12.4" y="-5" width="24.8" height="10" transform="translate(1170.6,434.7) rotate(-12)"/>
<rect x="-12.4" y="-5" width="24.8" height="10" transform="translate(1207.7,434.7) rotate(-148)"/>
<rect x="-12.4" y="-5" width="24.8" height="10" transform="translate(1244.8,434.7) rotate(-93)"/>
<rect x="-12.4" y="-5" width="24.8" height="10" transform="translate(1281.8,434.7) rotate(-38)"/>
<rect x="-12.4" y="-5" width="24.8" height="10" transform="translate(1318.9,434.7) rotate(-152)"/>
<rect x="-12.4" y="-5" width="24.8" height="10" transform="translate(1356,434.7) rotate(-75)"/>
<rect x="-12.4" y="-5" width="24.8" height="10" transform="translate(1393.1,434.7) rotate(-5)"/>
<rect x="-12.4" y="-5" width="24.8" height="10" transform="translate(1430.1,434.7) rotate(-135)"/>
<rect x="-12.4" y="-5" width="24.8" height="10" transform="translate(1467.2,434.7) rotate(-80)"/>
</g>
<path d="M1084.0 64.6h3.5M1084.0 126.2h3.5M1084.0 187.9h3.5M1084.0 249.5h3.5M1084.0 311.2h3.5M1084.0 372.9h3.5M1084.0 434.5h3.5M1158.4 448.3v-3.5M1219.9 448.3v-3.5M1281.4 448.3v-3.5M1342.9 448.3v-3.5M1404.4 448.3v-3.5M1465.9 448.3v-3.5" stroke="#333" stroke-width="0.9" fill="none"/>
<path d="M1084.0 447.7H1480" stroke="#555" stroke-width="0.8" fill="none"/>
<rect x="1084.0" y="40.7" width="409.5999999999999" height="407.6" fill="none" stroke="#4cc5e8" stroke-width="1.15"/>
<path d="M852.2 137.9h6.5M852.2 247.5h6.5M852.2 357.0h6.5M852.2 466.7h6.5M852.2 576.5h6.5M961.1 685.0v-6.5M1070.5 685.0v-6.5M1179.6 685.0v-6.5M1289.1 685.0v-6.5M1398.5 685.0v-6.5" stroke="#222" stroke-width="1.2" fill="none"/>
<path d="M852.2 29.0V685.0H1507.6" stroke="#262626" stroke-width="1.3" fill="none"/>
<g class="tk" font-size="25.71" text-anchor="end">
<text class="tk" transform="translate(841.3,146.9) scale(0.945,1)">10</text>
<text class="tk" transform="translate(841.3,256.5) scale(0.945,1)">5</text>
<text class="tk" transform="translate(841.3,366) scale(0.945,1)">0</text>
<text class="tk" transform="translate(841.3,475.7) scale(0.945,1)">-5</text>
<text class="tk" transform="translate(841.3,585.5) scale(0.945,1)">-10</text>
</g>
<text x="843" y="44.6" font-size="26.6" text-anchor="end">15</text>
<g class="tk" font-size="26.88" text-anchor="middle">
<text class="tk" transform="translate(960.5,720.4) scale(0.945,1)">-10</text>
<text class="tk" transform="translate(1069.9,720.4) scale(0.945,1)">-5</text>
<text class="tk" transform="translate(1179.6,720.4) scale(0.945,1)">0</text>
<text class="tk" transform="translate(1289.1,720.4) scale(0.945,1)">5</text>
<text class="tk" transform="translate(1398.5,720.4) scale(0.945,1)">10</text>
</g>
<text x="828.2" y="717.6" font-size="27" text-anchor="middle">-15</text>
<text x="1509.3" y="721.6" font-size="26" text-anchor="middle">15</text>
<text transform="translate(1160.3,761) scale(0.945,1)" font-size="38.41" text-anchor="middle" stroke="#000" stroke-width="0.3">X(µm)</text>
<text transform="translate(798.3,371.8) rotate(-90) scale(0.945,1)" font-size="38.10" text-anchor="middle" stroke="#000" stroke-width="0.3">Y(µm)</text>
<text x="776.3" y="24.8" font-size="33" stroke="#000" stroke-width="0.35">(b)</text>
</g>
<g id="panelC">
<g clip-path="url(#clipC)"><g filter="url(#parula)">
<rect x="42.0" y="780.2" width="687.3" height="622.2" fill="#121212"/>
<g mask="url(#mOut)"><g stroke="#fff" fill="none" filter="url(#b5)"><line x1="417.3" y1="1412.9" x2="339.5" y2="753.8" stroke-width="10.2" stroke-opacity="0.072"/><line x1="409.8" y1="1412.9" x2="312.1" y2="753.8" stroke-width="10.5" stroke-opacity="0.066"/><line x1="402" y1="1412.9" x2="277.8" y2="753.8" stroke-width="8.2" stroke-opacity="0.074"/><line x1="386" y1="1412.9" x2="254.1" y2="753.8" stroke-width="10.1" stroke-opacity="0.033"/><line x1="382.5" y1="1412.9" x2="222" y2="753.8" stroke-width="11.4" stroke-opacity="0.053"/><line x1="372.2" y1="1412.9" x2="192.7" y2="753.8" stroke-width="12" stroke-opacity="0.075"/><line x1="364.9" y1="1412.9" x2="164.8" y2="753.8" stroke-width="8.3" stroke-opacity="0.064"/><line x1="363.1" y1="1412.9" x2="126.5" y2="753.8" stroke-width="8" stroke-opacity="0.039"/><line x1="338.6" y1="1412.9" x2="103.4" y2="753.8" stroke-width="10.5" stroke-opacity="0.065"/><line x1="324.1" y1="1412.9" x2="70.1" y2="753.8" stroke-width="8.5" stroke-opacity="0.041"/><line x1="303.3" y1="1412.9" x2="48" y2="753.8" stroke-width="9.8" stroke-opacity="0.039"/><line x1="283.8" y1="1412.9" x2="26.2" y2="753.8" stroke-width="8.9" stroke-opacity="0.042"/><line x1="258.1" y1="1412.9" x2="-1.9" y2="753.8" stroke-width="9.6" stroke-opacity="0.068"/><line x1="240.4" y1="1412.9" x2="-25.6" y2="753.8" stroke-width="11.1" stroke-opacity="0.045"/><line x1="219.3" y1="1412.9" x2="-52.1" y2="753.8" stroke-width="10.4" stroke-opacity="0.047"/><line x1="207.2" y1="1412.9" x2="-82" y2="753.8" stroke-width="8.7" stroke-opacity="0.037"/><line x1="186.8" y1="1412.9" x2="-104.4" y2="753.8" stroke-width="11.8" stroke-opacity="0.039"/><line x1="154.4" y1="1412.9" x2="-124.6" y2="753.8" stroke-width="8.2" stroke-opacity="0.073"/><line x1="134.3" y1="1412.9" x2="-154.2" y2="753.8" stroke-width="9.2" stroke-opacity="0.038"/><line x1="113" y1="1412.9" x2="-180.3" y2="753.8" stroke-width="10.5" stroke-opacity="0.043"/><line x1="85" y1="1412.9" x2="-200.6" y2="753.8" stroke-width="8.2" stroke-opacity="0.038"/><line x1="67.9" y1="1412.9" x2="-226.2" y2="753.8" stroke-width="11.9" stroke-opacity="0.06"/><line x1="359.2" y1="1412.9" x2="429.9" y2="753.8" stroke-width="11.6" stroke-opacity="0.062"/><line x1="360" y1="1412.9" x2="463.3" y2="753.8" stroke-width="9.3" stroke-opacity="0.075"/><line x1="370" y1="1412.9" x2="497.7" y2="753.8" stroke-width="10.8" stroke-opacity="0.066"/><line x1="378.3" y1="1412.9" x2="532.8" y2="753.8" stroke-width="9.7" stroke-opacity="0.066"/><line x1="390.1" y1="1412.9" x2="560.7" y2="753.8" stroke-width="10.4" stroke-opacity="0.034"/><line x1="401.4" y1="1412.9" x2="592.7" y2="753.8" stroke-width="10.9" stroke-opacity="0.056"/><line x1="414.7" y1="1412.9" x2="624.1" y2="753.8" stroke-width="10.4" stroke-opacity="0.052"/><line x1="412.2" y1="1412.9" x2="660.3" y2="753.8" stroke-width="9" stroke-opacity="0.031"/><line x1="430.5" y1="1412.9" x2="683.2" y2="753.8" stroke-width="10.6" stroke-opacity="0.05"/><line x1="455.1" y1="1412.9" x2="704" y2="753.8" stroke-width="11.2" stroke-opacity="0.071"/><line x1="478" y1="1412.9" x2="726.7" y2="753.8" stroke-width="10" stroke-opacity="0.068"/><line x1="496.4" y1="1412.9" x2="750.8" y2="753.8" stroke-width="9.8" stroke-opacity="0.042"/><line x1="514.7" y1="1412.9" x2="777.4" y2="753.8" stroke-width="11.4" stroke-opacity="0.074"/><line x1="541.2" y1="1412.9" x2="805.1" y2="753.8" stroke-width="10.8" stroke-opacity="0.056"/><line x1="553.4" y1="1412.9" x2="830" y2="753.8" stroke-width="8.1" stroke-opacity="0.067"/><line x1="574.6" y1="1412.9" x2="857" y2="753.8" stroke-width="10.5" stroke-opacity="0.059"/><line x1="593.8" y1="1412.9" x2="879.9" y2="753.8" stroke-width="8.7" stroke-opacity="0.03"/><line x1="618" y1="1412.9" x2="901.7" y2="753.8" stroke-width="10.8" stroke-opacity="0.053"/><line x1="637" y1="1412.9" x2="931.4" y2="753.8" stroke-width="8.3" stroke-opacity="0.072"/><line x1="662.2" y1="1412.9" x2="956.7" y2="753.8" stroke-width="9.5" stroke-opacity="0.056"/><line x1="689.8" y1="1412.9" x2="979.3" y2="753.8" stroke-width="8.8" stroke-opacity="0.062"/><line x1="708.4" y1="1412.9" x2="1002.6" y2="753.8" stroke-width="11.9" stroke-opacity="0.074"/></g>
<g stroke="#000" fill="none" filter="url(#b5)"><line x1="405.7" y1="1412.9" x2="327.9" y2="753.8" stroke-width="6.5" stroke-opacity="0.247"/><line x1="399.4" y1="1412.9" x2="301.7" y2="753.8" stroke-width="5.9" stroke-opacity="0.123"/><line x1="388.9" y1="1412.9" x2="264.8" y2="753.8" stroke-width="7" stroke-opacity="0.254"/><line x1="375.3" y1="1412.9" x2="243.4" y2="753.8" stroke-width="5.7" stroke-opacity="0.108"/><line x1="370.5" y1="1412.9" x2="210" y2="753.8" stroke-width="6.5" stroke-opacity="0.266"/><line x1="359.5" y1="1412.9" x2="180.1" y2="753.8" stroke-width="7.1" stroke-opacity="0.179"/><line x1="353.6" y1="1412.9" x2="153.5" y2="753.8" stroke-width="7.5" stroke-opacity="0.197"/><line x1="350.2" y1="1412.9" x2="113.6" y2="753.8" stroke-width="6.4" stroke-opacity="0.345"/><line x1="327.6" y1="1412.9" x2="92.5" y2="753.8" stroke-width="5.3" stroke-opacity="0.183"/><line x1="313.7" y1="1412.9" x2="59.6" y2="753.8" stroke-width="5.2" stroke-opacity="0.299"/><line x1="291" y1="1412.9" x2="35.7" y2="753.8" stroke-width="5.4" stroke-opacity="0.261"/><line x1="270.7" y1="1412.9" x2="13.1" y2="753.8" stroke-width="7.4" stroke-opacity="0.176"/><line x1="246" y1="1412.9" x2="-14" y2="753.8" stroke-width="5.3" stroke-opacity="0.347"/><line x1="229.3" y1="1412.9" x2="-36.6" y2="753.8" stroke-width="5.2" stroke-opacity="0.123"/><line x1="207.8" y1="1412.9" x2="-63.6" y2="753.8" stroke-width="7.9" stroke-opacity="0.221"/><line x1="194.3" y1="1412.9" x2="-94.9" y2="753.8" stroke-width="7.5" stroke-opacity="0.162"/><line x1="173.8" y1="1412.9" x2="-117.4" y2="753.8" stroke-width="7.6" stroke-opacity="0.251"/><line x1="143.6" y1="1412.9" x2="-135.4" y2="753.8" stroke-width="7.1" stroke-opacity="0.164"/><line x1="122" y1="1412.9" x2="-166.5" y2="753.8" stroke-width="5.2" stroke-opacity="0.157"/><line x1="100.1" y1="1412.9" x2="-193.3" y2="753.8" stroke-width="5.6" stroke-opacity="0.104"/><line x1="73.7" y1="1412.9" x2="-211.8" y2="753.8" stroke-width="6.7" stroke-opacity="0.133"/><line x1="55.7" y1="1412.9" x2="-238.4" y2="753.8" stroke-width="6.8" stroke-opacity="0.135"/><line x1="372.3" y1="1412.9" x2="443" y2="753.8" stroke-width="5.1" stroke-opacity="0.259"/><line x1="370.3" y1="1412.9" x2="473.7" y2="753.8" stroke-width="6.6" stroke-opacity="0.284"/><line x1="383" y1="1412.9" x2="510.6" y2="753.8" stroke-width="6.1" stroke-opacity="0.271"/><line x1="391.1" y1="1412.9" x2="545.6" y2="753.8" stroke-width="6.7" stroke-opacity="0.256"/><line x1="402.1" y1="1412.9" x2="572.8" y2="753.8" stroke-width="8" stroke-opacity="0.32"/><line x1="412.9" y1="1412.9" x2="604.1" y2="753.8" stroke-width="7.5" stroke-opacity="0.121"/><line x1="425.5" y1="1412.9" x2="635" y2="753.8" stroke-width="7.1" stroke-opacity="0.224"/><line x1="423.2" y1="1412.9" x2="671.3" y2="753.8" stroke-width="7" stroke-opacity="0.151"/><line x1="443.3" y1="1412.9" x2="696" y2="753.8" stroke-width="6" stroke-opacity="0.266"/><line x1="467.9" y1="1412.9" x2="716.8" y2="753.8" stroke-width="6.2" stroke-opacity="0.246"/><line x1="490.7" y1="1412.9" x2="739.4" y2="753.8" stroke-width="7.1" stroke-opacity="0.338"/><line x1="507.2" y1="1412.9" x2="761.6" y2="753.8" stroke-width="6.2" stroke-opacity="0.256"/><line x1="526.2" y1="1412.9" x2="788.9" y2="753.8" stroke-width="5.2" stroke-opacity="0.108"/><line x1="552.3" y1="1412.9" x2="816.1" y2="753.8" stroke-width="7.4" stroke-opacity="0.105"/><line x1="564.2" y1="1412.9" x2="840.9" y2="753.8" stroke-width="5.4" stroke-opacity="0.112"/><line x1="587.2" y1="1412.9" x2="869.6" y2="753.8" stroke-width="7.9" stroke-opacity="0.271"/><line x1="605.4" y1="1412.9" x2="891.5" y2="753.8" stroke-width="7.1" stroke-opacity="0.145"/><line x1="630" y1="1412.9" x2="913.7" y2="753.8" stroke-width="7.3" stroke-opacity="0.198"/><line x1="649.3" y1="1412.9" x2="943.7" y2="753.8" stroke-width="5.4" stroke-opacity="0.213"/><line x1="675" y1="1412.9" x2="969.5" y2="753.8" stroke-width="7.4" stroke-opacity="0.336"/><line x1="702.4" y1="1412.9" x2="991.9" y2="753.8" stroke-width="6.9" stroke-opacity="0.279"/><line x1="720.1" y1="1412.9" x2="1014.4" y2="753.8" stroke-width="7.4" stroke-opacity="0.18"/></g></g>
<polygon points="179.2,1201.7 292.6,1041.1 243.9,1007.3 167,1117.2" fill="#000" opacity="0.5" filter="url(#b12)"/>
<polygon points="77.9,1345.3 100.2,1311.5 110.3,1210.1 77.9,1210.1" fill="#000" opacity="0.3" filter="url(#b8)"/>
<polygon points="592.2,1201.7 478.8,1041.1 527.5,1007.3 604.4,1117.2" fill="#000" opacity="0.5" filter="url(#b12)"/>
<polygon points="693.5,1345.3 671.2,1311.5 661.1,1210.1 693.5,1210.1" fill="#000" opacity="0.3" filter="url(#b8)"/>
<polygon points="86,1396 685.4,1396 397.8,946.5 373.6,946.5" fill="#fff" opacity="0.055" filter="url(#b14)"/>
<g mask="url(#mIn)"><g stroke="#fff" fill="none" filter="url(#b4)"><line x1="89.4" y1="1396" x2="377.5" y2="972" stroke-width="20" stroke-opacity="0.075"/><line x1="122.3" y1="1396" x2="378.4" y2="972" stroke-width="9" stroke-opacity="0.03"/><line x1="159.6" y1="1396" x2="379.4" y2="972" stroke-width="15" stroke-opacity="0.07"/><line x1="196.9" y1="1396" x2="380.5" y2="972" stroke-width="9" stroke-opacity="0.03"/><line x1="229.8" y1="1396" x2="381.4" y2="972" stroke-width="11" stroke-opacity="0.045"/><line x1="271.6" y1="1396" x2="382.5" y2="972" stroke-width="9" stroke-opacity="0.03"/><line x1="313.3" y1="1396" x2="383.7" y2="972" stroke-width="8" stroke-opacity="0.025"/><line x1="385.7" y1="1379.1" x2="527.5" y2="1108.7" stroke-width="4" stroke-opacity="0.03"/><line x1="353.3" y1="1379.1" x2="511.2" y2="1108.7" stroke-width="4" stroke-opacity="0.03"/><line x1="320.9" y1="1379.1" x2="495.1" y2="1108.7" stroke-width="4" stroke-opacity="0.03"/><line x1="288.5" y1="1379.1" x2="478.8" y2="1108.7" stroke-width="4" stroke-opacity="0.03"/><line x1="256.1" y1="1379.1" x2="462.6" y2="1108.7" stroke-width="4" stroke-opacity="0.03"/><line x1="223.7" y1="1379.1" x2="446.4" y2="1108.7" stroke-width="4" stroke-opacity="0.03"/><line x1="191.3" y1="1379.1" x2="430.2" y2="1108.7" stroke-width="4" stroke-opacity="0.03"/><line x1="158.9" y1="1379.1" x2="414.1" y2="1108.7" stroke-width="4" stroke-opacity="0.03"/><line x1="682" y1="1396" x2="393.9" y2="972" stroke-width="20" stroke-opacity="0.075"/><line x1="649.1" y1="1396" x2="393" y2="972" stroke-width="9" stroke-opacity="0.03"/><line x1="611.8" y1="1396" x2="392" y2="972" stroke-width="15" stroke-opacity="0.07"/><line x1="574.5" y1="1396" x2="390.9" y2="972" stroke-width="9" stroke-opacity="0.03"/><line x1="541.6" y1="1396" x2="390" y2="972" stroke-width="11" stroke-opacity="0.045"/><line x1="499.8" y1="1396" x2="388.9" y2="972" stroke-width="9" stroke-opacity="0.03"/><line x1="458.1" y1="1396" x2="387.7" y2="972" stroke-width="8" stroke-opacity="0.025"/><line x1="385.7" y1="1379.1" x2="243.9" y2="1108.7" stroke-width="4" stroke-opacity="0.03"/><line x1="418.1" y1="1379.1" x2="260.1" y2="1108.7" stroke-width="4" stroke-opacity="0.03"/><line x1="450.5" y1="1379.1" x2="276.3" y2="1108.7" stroke-width="4" stroke-opacity="0.03"/><line x1="482.9" y1="1379.1" x2="292.6" y2="1108.7" stroke-width="4" stroke-opacity="0.03"/><line x1="515.3" y1="1379.1" x2="308.8" y2="1108.7" stroke-width="4" stroke-opacity="0.03"/><line x1="547.7" y1="1379.1" x2="324.9" y2="1108.7" stroke-width="4" stroke-opacity="0.03"/><line x1="580.1" y1="1379.1" x2="341.1" y2="1108.7" stroke-width="4" stroke-opacity="0.03"/><line x1="612.5" y1="1379.1" x2="357.3" y2="1108.7" stroke-width="4" stroke-opacity="0.03"/></g></g>
<polygon points="254.1,1396 517.3,1396 385.7,1176.3" fill="#000" opacity="0.12" filter="url(#b14)"/>
<polygon points="162.9,1396 608.5,1396 395.8,943.1 375.6,943.1" fill="url(#cRamp)" filter="url(#b8)"/>
<line x1="316.9" y1="1066.5" x2="373.3" y2="946.5" stroke="#fff" stroke-width="5" stroke-opacity="0.05" filter="url(#b2_5)"/>
<line x1="341.1" y1="1066.5" x2="377.7" y2="946.5" stroke="#fff" stroke-width="5" stroke-opacity="0.06" filter="url(#b2_5)"/>
<line x1="363.4" y1="1066.5" x2="381.7" y2="946.5" stroke="#fff" stroke-width="5" stroke-opacity="0.05" filter="url(#b2_5)"/>
<line x1="454.5" y1="1066.5" x2="398.1" y2="946.5" stroke="#fff" stroke-width="5" stroke-opacity="0.05" filter="url(#b2_5)"/>
<line x1="430.2" y1="1066.5" x2="393.7" y2="946.5" stroke="#fff" stroke-width="5" stroke-opacity="0.06" filter="url(#b2_5)"/>
<line x1="408" y1="1066.5" x2="389.7" y2="946.5" stroke="#fff" stroke-width="5" stroke-opacity="0.05" filter="url(#b2_5)"/>
<polygon points="377.6,914.4 393.8,914.4 454.5,787.6 316.9,787.6" fill="#fff" opacity="0.16" filter="url(#b10)"/>
<polygon points="379.6,902.5 391.8,902.5 426.2,796.1 345.2,796.1" fill="#fff" opacity="0.2" filter="url(#b6)"/>
<line x1="373.6" y1="882.2" x2="354.3" y2="796.1" stroke="#fff" stroke-width="9" stroke-opacity="0.12" filter="url(#b4)"/>
<ellipse cx="369.5" cy="853.5" rx="3.2" ry="17" fill="#fff" opacity="0.2" filter="url(#b3)"/>
<ellipse cx="374.6" cy="970.1" rx="3.6" ry="12" fill="#fff" opacity="0.3" filter="url(#b3)"/>
<line x1="397.8" y1="882.2" x2="417.1" y2="796.1" stroke="#fff" stroke-width="9" stroke-opacity="0.12" filter="url(#b4)"/>
<ellipse cx="401.9" cy="853.5" rx="3.2" ry="17" fill="#fff" opacity="0.2" filter="url(#b3)"/>
<ellipse cx="396.8" cy="970.1" rx="3.6" ry="12" fill="#fff" opacity="0.3" filter="url(#b3)"/>
<ellipse cx="385.7" cy="919.4" rx="7.5" ry="50" fill="#fff" opacity="0.4" filter="url(#b5)"/>
<ellipse cx="385.7" cy="919.4" rx="5" ry="38" fill="#fff" opacity="0.7" filter="url(#b4)"/>
<ellipse cx="385.7" cy="919.4" rx="3.2" ry="24" fill="#fff" opacity="0.95" filter="url(#b3)"/>
<ellipse cx="385.7" cy="920.4" rx="2.2" ry="15" fill="#fff" opacity="1" filter="url(#b2)"/>
<ellipse cx="372.3" cy="921.1" rx="1.6" ry="9" fill="#000" opacity="0.5" filter="url(#b1_5)"/>
<ellipse cx="399.1" cy="921.1" rx="1.6" ry="9" fill="#000" opacity="0.5" filter="url(#b1_5)"/>
</g></g>
<path d="M82.0 820.2H689.3V1362.4H82.0ZM183.2 1362.4v-6M183.2 820.2v6M284.4 1362.4v-6M284.4 820.2v6M385.7 1362.4v-6M385.7 820.2v6M486.9 1362.4v-6M486.9 820.2v6M588.2 1362.4v-6M588.2 820.2v6M82.0 1277.7h6M689.3 1277.7h-6M82.0 1193.2h6M689.3 1193.2h-6M82.0 1108.7h6M689.3 1108.7h-6M82.0 1024.2h6M689.3 1024.2h-6M82.0 939.7h6M689.3 939.7h-6M82.0 855.2h6M689.3 855.2h-6" stroke="#262626" stroke-width="1" fill="none"/>
<g font-size="22.43" text-anchor="middle">
<text class="tk" transform="translate(81.4,1393) scale(0.945,1)">-15</text>
<text class="tk" transform="translate(182.7,1393) scale(0.945,1)">-10</text>
<text class="tk" transform="translate(283.9,1393) scale(0.945,1)">-5</text>
<text class="tk" transform="translate(385.7,1393) scale(0.945,1)">0</text>
<text class="tk" transform="translate(486.9,1393) scale(0.945,1)">5</text>
<text class="tk" transform="translate(588.2,1393) scale(0.945,1)">10</text>
<text class="tk" transform="translate(689.5,1393) scale(0.945,1)">15</text>
</g><g font-size="21.80" text-anchor="end">
<text class="tk" transform="translate(72.3,1369.8) scale(0.945,1)">0</text>
<text class="tk" transform="translate(72.3,1285.3) scale(0.945,1)">5</text>
<text class="tk" transform="translate(72.3,1200.8) scale(0.945,1)">10</text>
<text class="tk" transform="translate(72.3,1116.3) scale(0.945,1)">15</text>
<text class="tk" transform="translate(72.3,1031.8) scale(0.945,1)">20</text>
<text class="tk" transform="translate(72.3,947.3) scale(0.945,1)">25</text>
<text class="tk" transform="translate(72.3,862.8) scale(0.945,1)">30</text>
</g>
<rect x="717.5" y="820" width="33.3" height="542.2" fill="url(#cb)" stroke="#262626" stroke-width="1"/>
<g font-size="20.32">
<text class="tk" transform="translate(759.6,872.3) scale(0.945,1)">1.2</text>
<text class="tk" transform="translate(759.6,956.7) scale(0.945,1)">1</text>
<text class="tk" transform="translate(759.6,1041.1) scale(0.945,1)">0.8</text>
<text class="tk" transform="translate(759.6,1125.5) scale(0.945,1)">0.6</text>
<text class="tk" transform="translate(759.6,1209.9) scale(0.945,1)">0.4</text>
<text class="tk" transform="translate(759.6,1294.3) scale(0.945,1)">0.2</text>
</g>
<path d="M750.8 865.1h-5.5M750.8 949.5h-5.5M750.8 1033.9h-5.5M750.8 1118.3h-5.5M750.8 1202.7h-5.5M750.8 1287.1h-5.5" stroke="#262626" stroke-width="1" fill="none"/>
<text transform="translate(389.3,1434.2) scale(0.945,1)" font-size="38.41" text-anchor="middle" stroke="#000" stroke-width="0.3">X(µm)</text>
<text transform="translate(26.3,1102.5) rotate(-90) scale(0.945,1)" font-size="37.67" text-anchor="middle" stroke="#000" stroke-width="0.3">Z(µm)</text>
<text x="10.5" y="821" font-size="33" stroke="#000" stroke-width="0.35">(c)</text>
</g>
<g id="panelD">
<g clip-path="url(#clipD)"><g filter="url(#parula)">
<rect x="853.2" y="804.3" width="634.3" height="575.9000000000001" fill="#030303"/>
<rect x="853.2" y="804.3" width="634.3" height="575.9000000000001" filter="url(#spk)" style="mix-blend-mode:screen"/>
<ellipse cx="1005.2" cy="1091.2" rx="8" ry="9" transform="rotate(-20 1005.2 1091.2)" fill="#fff" opacity="0.3" filter="url(#b4)"/>
<ellipse cx="995.6" cy="1096.4" rx="13" ry="12" transform="rotate(0 995.6 1096.4)" fill="#fff" opacity="0.15" filter="url(#b5)"/>
<ellipse cx="980.2" cy="1113.7" rx="4" ry="6" transform="rotate(20 980.2 1113.7)" fill="#fff" opacity="0.105" filter="url(#b3)"/>
<ellipse cx="1010.9" cy="1086" rx="4" ry="5" transform="rotate(0 1010.9 1086)" fill="#fff" opacity="0.15" filter="url(#b3)"/>
<ellipse cx="1344.8" cy="1082.5" rx="4" ry="10" transform="rotate(-12 1344.8 1082.5)" fill="#fff" opacity="0.33" filter="url(#b3)"/>
<ellipse cx="1339.1" cy="1094.6" rx="7" ry="10" transform="rotate(-30 1339.1 1094.6)" fill="#fff" opacity="0.15" filter="url(#b4)"/>
<ellipse cx="1325.6" cy="1103.3" rx="6" ry="3.5" transform="rotate(40 1325.6 1103.3)" fill="#fff" opacity="0.135" filter="url(#b3)"/>
<ellipse cx="1031.3" cy="949.9" rx="7" ry="4.5" transform="rotate(-35 1031.3 949.9)" fill="#fff" opacity="0.33" filter="url(#b3)"/>
<ellipse cx="1005.9" cy="938.5" rx="4" ry="5" transform="rotate(30 1005.9 938.5)" fill="#fff" opacity="0.15" filter="url(#b3)"/>
<ellipse cx="1047.4" cy="978.4" rx="5" ry="5" transform="rotate(0 1047.4 978.4)" fill="#fff" opacity="0.105" filter="url(#b3)"/>
<ellipse cx="1034" cy="988.8" rx="4" ry="4" transform="rotate(0 1034 988.8)" fill="#fff" opacity="0.09" filter="url(#b3)"/>
<ellipse cx="1064.7" cy="985.3" rx="3" ry="6" transform="rotate(0 1064.7 985.3)" fill="#fff" opacity="0.12" filter="url(#b3)"/>
<ellipse cx="1032" cy="1021.8" rx="6" ry="3" transform="rotate(20 1032 1021.8)" fill="#fff" opacity="0.075" filter="url(#b3)"/>
<ellipse cx="1155.6" cy="938.5" rx="7" ry="5.5" transform="rotate(10 1155.6 938.5)" fill="#fff" opacity="0.225" filter="url(#b3)"/>
<ellipse cx="1176" cy="943.7" rx="5" ry="5" transform="rotate(0 1176 943.7)" fill="#fff" opacity="0.105" filter="url(#b3)"/>
<ellipse cx="1164.4" cy="957.6" rx="4" ry="3" transform="rotate(0 1164.4 957.6)" fill="#fff" opacity="0.09" filter="url(#b3)"/>
<ellipse cx="1050.5" cy="1199.4" rx="7" ry="7" transform="rotate(0 1050.5 1199.4)" fill="#fff" opacity="0.3" filter="url(#b4)"/>
<ellipse cx="1050.5" cy="1200.5" rx="11" ry="11" transform="rotate(0 1050.5 1200.5)" fill="#fff" opacity="0.105" filter="url(#b5)"/>
<ellipse cx="1292.2" cy="1202.2" rx="6" ry="4" transform="rotate(32 1292.2 1202.2)" fill="#fff" opacity="0.6" filter="url(#b3)"/>
<ellipse cx="1292.2" cy="1202.2" rx="3.2" ry="2.4" transform="rotate(32 1292.2 1202.2)" fill="#fff" opacity="0.375" filter="url(#b2)"/>
<ellipse cx="1304.5" cy="1211.6" rx="8" ry="4" transform="rotate(35 1304.5 1211.6)" fill="#fff" opacity="0.18" filter="url(#b3)"/>
<ellipse cx="1172.1" cy="1247.7" rx="9" ry="6.5" transform="rotate(38 1172.1 1247.7)" fill="#fff" opacity="0.48" filter="url(#b4)"/>
<ellipse cx="1172.1" cy="1247.7" rx="6" ry="4.5" transform="rotate(38 1172.1 1247.7)" fill="#fff" opacity="0.825" filter="url(#b3)"/>
<ellipse cx="1171.7" cy="1247.3" rx="3.6" ry="3.0" transform="rotate(38 1171.7 1247.3)" fill="#fff" opacity="1" filter="url(#b1_5)"/>
<ellipse cx="1171.7" cy="1247.3" rx="2" ry="1.8" transform="rotate(0 1171.7 1247.3)" fill="#fff" opacity="1" filter="url(#b1)"/>
<ellipse cx="1076.2" cy="875" rx="9" ry="3.5" transform="rotate(10 1076.2 875)" fill="#fff" opacity="0.135" filter="url(#b3)"/>
<ellipse cx="1124.1" cy="853.5" rx="9" ry="3" transform="rotate(-30 1124.1 853.5)" fill="#fff" opacity="0.075" filter="url(#b3)"/>
<ellipse cx="1070.4" cy="905.5" rx="8" ry="3" transform="rotate(10 1070.4 905.5)" fill="#fff" opacity="0.06" filter="url(#b3)"/>
<ellipse cx="1254.6" cy="871.5" rx="26" ry="3" transform="rotate(0 1254.6 871.5)" fill="#fff" opacity="0.09" filter="url(#b3)"/>
<ellipse cx="1304.5" cy="903.8" rx="9" ry="3" transform="rotate(5 1304.5 903.8)" fill="#fff" opacity="0.075" filter="url(#b3)"/>
<ellipse cx="1258.5" cy="903.8" rx="10" ry="3" transform="rotate(0 1258.5 903.8)" fill="#fff" opacity="0.06" filter="url(#b3)"/>
<ellipse cx="1258.5" cy="888.2" rx="3" ry="9" transform="rotate(0 1258.5 888.2)" fill="#fff" opacity="0.06" filter="url(#b3)"/>
<ellipse cx="1300.7" cy="928.1" rx="3.5" ry="3.5" transform="rotate(0 1300.7 928.1)" fill="#fff" opacity="0.09" filter="url(#b3)"/>
<ellipse cx="1271.9" cy="954.1" rx="3" ry="3" transform="rotate(0 1271.9 954.1)" fill="#fff" opacity="0.075" filter="url(#b3)"/>
<ellipse cx="1273.8" cy="933.3" rx="3" ry="8" transform="rotate(5 1273.8 933.3)" fill="#fff" opacity="0.06" filter="url(#b3)"/>
<ellipse cx="1350.6" cy="1027" rx="4" ry="12" transform="rotate(0 1350.6 1027)" fill="#fff" opacity="0.068" filter="url(#b3)"/>
<ellipse cx="1327.6" cy="1023.5" rx="3" ry="10" transform="rotate(0 1327.6 1023.5)" fill="#fff" opacity="0.053" filter="url(#b3)"/>
<ellipse cx="1302.6" cy="1032.2" rx="4" ry="4" transform="rotate(0 1302.6 1032.2)" fill="#fff" opacity="0.075" filter="url(#b3)"/>
<ellipse cx="1270" cy="1023.5" rx="3" ry="3" transform="rotate(0 1270 1023.5)" fill="#fff" opacity="0.068" filter="url(#b3)"/>
<ellipse cx="936.1" cy="999.2" rx="8" ry="4" transform="rotate(10 936.1 999.2)" fill="#fff" opacity="0.105" filter="url(#b3)"/>
<ellipse cx="959.1" cy="1002.7" rx="5" ry="3" transform="rotate(0 959.1 1002.7)" fill="#fff" opacity="0.075" filter="url(#b3)"/>
<ellipse cx="913.1" cy="1020" rx="3" ry="5" transform="rotate(0 913.1 1020)" fill="#fff" opacity="0.075" filter="url(#b3)"/>
<ellipse cx="1427.3" cy="1006.2" rx="5" ry="12" transform="rotate(0 1427.3 1006.2)" fill="#fff" opacity="0.06" filter="url(#b4)"/>
<ellipse cx="1166.4" cy="1082.5" rx="10" ry="9" transform="rotate(0 1166.4 1082.5)" fill="#fff" opacity="0.053" filter="url(#b5)"/>
<ellipse cx="1185.6" cy="1110.2" rx="5" ry="5" transform="rotate(0 1185.6 1110.2)" fill="#fff" opacity="0.06" filter="url(#b3)"/>
<ellipse cx="1243.1" cy="1047.8" rx="4" ry="4" transform="rotate(0 1243.1 1047.8)" fill="#fff" opacity="0.06" filter="url(#b3)"/>
<ellipse cx="1085.8" cy="1027" rx="8" ry="3" transform="rotate(-30 1085.8 1027)" fill="#fff" opacity="0.053" filter="url(#b3)"/>
<ellipse cx="1147.2" cy="1287.2" rx="6" ry="5" transform="rotate(0 1147.2 1287.2)" fill="#fff" opacity="0.06" filter="url(#b3)"/>
<ellipse cx="1270" cy="1290.7" rx="9" ry="4" transform="rotate(0 1270 1290.7)" fill="#fff" opacity="0.075" filter="url(#b4)"/>
<ellipse cx="1262.3" cy="1330.6" rx="9" ry="4" transform="rotate(0 1262.3 1330.6)" fill="#fff" opacity="0.075" filter="url(#b3)"/>
<ellipse cx="1239.3" cy="1266.4" rx="4" ry="4" transform="rotate(0 1239.3 1266.4)" fill="#fff" opacity="0.06" filter="url(#b3)"/>
<ellipse cx="1055.1" cy="1249.1" rx="4" ry="8" transform="rotate(35 1055.1 1249.1)" fill="#fff" opacity="0.075" filter="url(#b3)"/>
<ellipse cx="1005.2" cy="1256" rx="6" ry="3" transform="rotate(35 1005.2 1256)" fill="#fff" opacity="0.09" filter="url(#b3)"/>
<ellipse cx="989.8" cy="1217.8" rx="5" ry="3" transform="rotate(10 989.8 1217.8)" fill="#fff" opacity="0.075" filter="url(#b3)"/>
<ellipse cx="1318" cy="1242.1" rx="4" ry="8" transform="rotate(-10 1318 1242.1)" fill="#fff" opacity="0.075" filter="url(#b3)"/>
<ellipse cx="939.9" cy="1151.9" rx="4" ry="6" transform="rotate(0 939.9 1151.9)" fill="#fff" opacity="0.06" filter="url(#b3)"/>
<ellipse cx="1385.1" cy="1145" rx="5" ry="8" transform="rotate(0 1385.1 1145)" fill="#fff" opacity="0.045" filter="url(#b4)"/>
<ellipse cx="916.9" cy="919.4" rx="4" ry="4" transform="rotate(0 916.9 919.4)" fill="#fff" opacity="0.06" filter="url(#b3)"/>
<ellipse cx="916.9" cy="1183.1" rx="4" ry="4" transform="rotate(0 916.9 1183.1)" fill="#fff" opacity="0.06" filter="url(#b3)"/>
<ellipse cx="1093.4" cy="1134.5" rx="4" ry="4" transform="rotate(0 1093.4 1134.5)" fill="#fff" opacity="0.075" filter="url(#b3)"/>
<ellipse cx="1089.6" cy="1162.3" rx="4" ry="3" transform="rotate(0 1089.6 1162.3)" fill="#fff" opacity="0.075" filter="url(#b3)"/>
<ellipse cx="1035.9" cy="1304.6" rx="9" ry="3" transform="rotate(0 1035.9 1304.6)" fill="#fff" opacity="0.06" filter="url(#b3)"/>
<ellipse cx="966.8" cy="1308" rx="4" ry="4" transform="rotate(0 966.8 1308)" fill="#fff" opacity="0.06" filter="url(#b3)"/>
<ellipse cx="999.4" cy="1092.9" rx="40" ry="37" transform="rotate(-30 999.4 1092.9)" fill="none" stroke="#fff" stroke-width="6" stroke-opacity="0.08" stroke-dasharray="70 40 30 60" filter="url(#b3)"/>
<ellipse cx="1047.4" cy="980.1" rx="28" ry="26" transform="rotate(-30 1047.4 980.1)" fill="none" stroke="#fff" stroke-width="6" stroke-opacity="0.08" stroke-dasharray="40 30 55 25" filter="url(#b3)"/>
<ellipse cx="1047.4" cy="980.1" rx="14" ry="13" transform="rotate(-30 1047.4 980.1)" fill="none" stroke="#fff" stroke-width="5" stroke-opacity="0.08" stroke-dasharray="20 14" filter="url(#b3)"/>
<ellipse cx="1164.4" cy="940.2" rx="28" ry="24" transform="rotate(-30 1164.4 940.2)" fill="none" stroke="#fff" stroke-width="6" stroke-opacity="0.065" stroke-dasharray="60 50" filter="url(#b3)"/>
<ellipse cx="1291.9" cy="981.2" rx="15" ry="12.5" transform="rotate(-30 1291.9 981.2)" fill="none" stroke="#fff" stroke-width="6.5" stroke-opacity="0.2" filter="url(#b3)"/>
<ellipse cx="1337.2" cy="1086" rx="24" ry="30" transform="rotate(-30 1337.2 1086)" fill="none" stroke="#fff" stroke-width="6" stroke-opacity="0.05" stroke-dasharray="50 40" filter="url(#b3)"/>
<ellipse cx="1293" cy="1203.9" rx="26" ry="24" transform="rotate(-30 1293 1203.9)" fill="none" stroke="#fff" stroke-width="6" stroke-opacity="0.03" stroke-dasharray="50 60" filter="url(#b3)"/>
<ellipse cx="1302.6" cy="971.5" rx="6" ry="3.5" transform="rotate(40 1302.6 971.5)" fill="#fff" opacity="0.14" filter="url(#b2)"/>
<ellipse cx="1276.9" cy="976.7" rx="3" ry="5" fill="#fff" opacity="0.1" filter="url(#b2)"/>
</g></g>
<line x1="1144.2" y1="1257.6" x2="1319.8" y2="1191.1" stroke="#e4da26" stroke-width="1.2" stroke-dasharray="6.4 3.4"/>
<polyline points="1147.4,1358.5 1149.8,1355.7 1153.7,1355.2 1157.7,1356.9 1160.8,1358 1162.4,1354.1 1164,1343.8 1165.6,1316.1 1166.7,1295.5 1168,1297.1 1169.2,1308.2 1170.5,1299.5 1171.4,1297.9 1172.1,1276.6 1173,1260.7 1174.3,1256.3 1175.9,1256.3 1176.8,1260.7 1177.8,1276.6 1178.7,1297.1 1179.7,1315.3 1180.6,1296.3 1181.6,1297.9 1182.5,1320.9 1183.8,1343 1185.4,1355.7 1187,1361.7 1190.1,1361.2 1192.5,1355.7 1195.7,1350.1 1198.8,1347.4 1201.5,1348.1 1204.4,1354.1 1206.7,1362 1209.1,1365.9 1216.2,1365.9 1221,1362 1224.9,1359.6 1228.1,1354.9 1231.2,1353.3 1234.4,1354.9 1239.2,1356.5 1242.3,1358 1245.5,1357.2 1247.9,1358.5 1250.2,1356.5 1252.6,1358.5 1267.6,1358.5 1269.2,1356.5 1273.2,1355.7 1276.3,1351.7 1279.5,1347 1281.6,1344.9 1283.5,1347.8 1285.8,1354.1 1287.4,1355.7 1289,1347.8 1290.6,1327.2 1292.2,1305 1293.7,1297.1 1295.3,1296.3 1296.4,1305 1297.2,1316.1 1298.3,1306.6 1300.1,1305.8 1301.7,1308.2 1302.8,1300.3 1304,1296.3 1305.3,1297.1 1306.4,1311.4 1308,1327.2 1309.6,1344.6 1311.1,1355.7 1312.7,1360.4 1315.9,1359.6 1319.1,1358.5 1322.2,1358 1326.2,1358.8 1328.5,1360.4 1331.7,1362 1335.7,1362.5" fill="none" stroke="#d8ce2a" stroke-width="1.05" stroke-linejoin="round"/>
<path d="M863.2 814.3H1477.5V1370.2H863.2ZM939.9 1370.2v-6M939.9 814.3v6M863.2 884.7h6M1477.5 884.7h-6M1016.7 1370.2v-6M1016.7 814.3v6M863.2 954.1h6M1477.5 954.1h-6M1093.4 1370.2v-6M1093.4 814.3v6M863.2 1023.5h6M1477.5 1023.5h-6M1170.2 1370.2v-6M1170.2 814.3v6M863.2 1092.9h6M1477.5 1092.9h-6M1247 1370.2v-6M1247 814.3v6M863.2 1162.3h6M1477.5 1162.3h-6M1323.7 1370.2v-6M1323.7 814.3v6M863.2 1231.7h6M1477.5 1231.7h-6M1400.5 1370.2v-6M1400.5 814.3v6M863.2 1301.1h6M1477.5 1301.1h-6" stroke="#262626" stroke-width="1" fill="none"/>
<g font-size="22.43" text-anchor="middle">
<text class="tk" transform="translate(862.7,1400) scale(0.945,1)">-8</text>
<text class="tk" transform="translate(939.4,1400) scale(0.945,1)">-6</text>
<text class="tk" transform="translate(1016.2,1400) scale(0.945,1)">-4</text>
<text class="tk" transform="translate(1092.9,1400) scale(0.945,1)">-2</text>
<text class="tk" transform="translate(1170.2,1400) scale(0.945,1)">0</text>
<text class="tk" transform="translate(1247,1400) scale(0.945,1)">2</text>
<text class="tk" transform="translate(1323.7,1400) scale(0.945,1)">4</text>
<text class="tk" transform="translate(1400.5,1400) scale(0.945,1)">6</text>
<text class="tk" transform="translate(1477.2,1400) scale(0.945,1)">8</text>
</g><g font-size="22.22" text-anchor="end">
<text class="tk" transform="translate(853.8,825.2) scale(0.945,1)">-8</text>
<text class="tk" transform="translate(853.8,893.1) scale(0.945,1)">-6</text>
<text class="tk" transform="translate(853.8,962.5) scale(0.945,1)">-4</text>
<text class="tk" transform="translate(853.8,1031.9) scale(0.945,1)">-2</text>
<text class="tk" transform="translate(853.8,1101.3) scale(0.945,1)">0</text>
<text class="tk" transform="translate(853.8,1170.7) scale(0.945,1)">2</text>
<text class="tk" transform="translate(853.8,1240.1) scale(0.945,1)">4</text>
<text class="tk" transform="translate(853.8,1309.5) scale(0.945,1)">6</text>
<text class="tk" transform="translate(853.8,1378.9) scale(0.945,1)">8</text>
</g>
<rect x="1501.2" y="814.3" width="34.3" height="555.7" fill="url(#cb)" stroke="#262626" stroke-width="1"/>
<g font-size="20.32">
<text class="tk" transform="translate(1544.6,881.2) scale(0.945,1)">1.2</text>
<text class="tk" transform="translate(1544.6,964.2) scale(0.945,1)">1</text>
<text class="tk" transform="translate(1544.6,1047.2) scale(0.945,1)">0.8</text>
<text class="tk" transform="translate(1544.6,1130.2) scale(0.945,1)">0.6</text>
<text class="tk" transform="translate(1544.6,1213.2) scale(0.945,1)">0.4</text>
<text class="tk" transform="translate(1544.6,1296.2) scale(0.945,1)">0.2</text>
</g>
<path d="M1535.5 874h-5M1535.5 957h-5M1535.5 1040h-5M1535.5 1123h-5M1535.5 1206h-5M1535.5 1289h-5" stroke="#262626" stroke-width="1" fill="none"/>
<text transform="translate(1171,1446) scale(0.945,1)" font-size="38.41" text-anchor="middle" stroke="#000" stroke-width="0.3">X(µm)</text>
<text transform="translate(824,1101.2) rotate(-90) scale(0.915,1)" font-size="42.4" text-anchor="middle" stroke="#000" stroke-width="0.3">Y(µm)</text>
<text x="776.3" y="809.2" font-size="33" stroke="#000" stroke-width="0.35">(d)</text>
</g>
</svg></body></html>
